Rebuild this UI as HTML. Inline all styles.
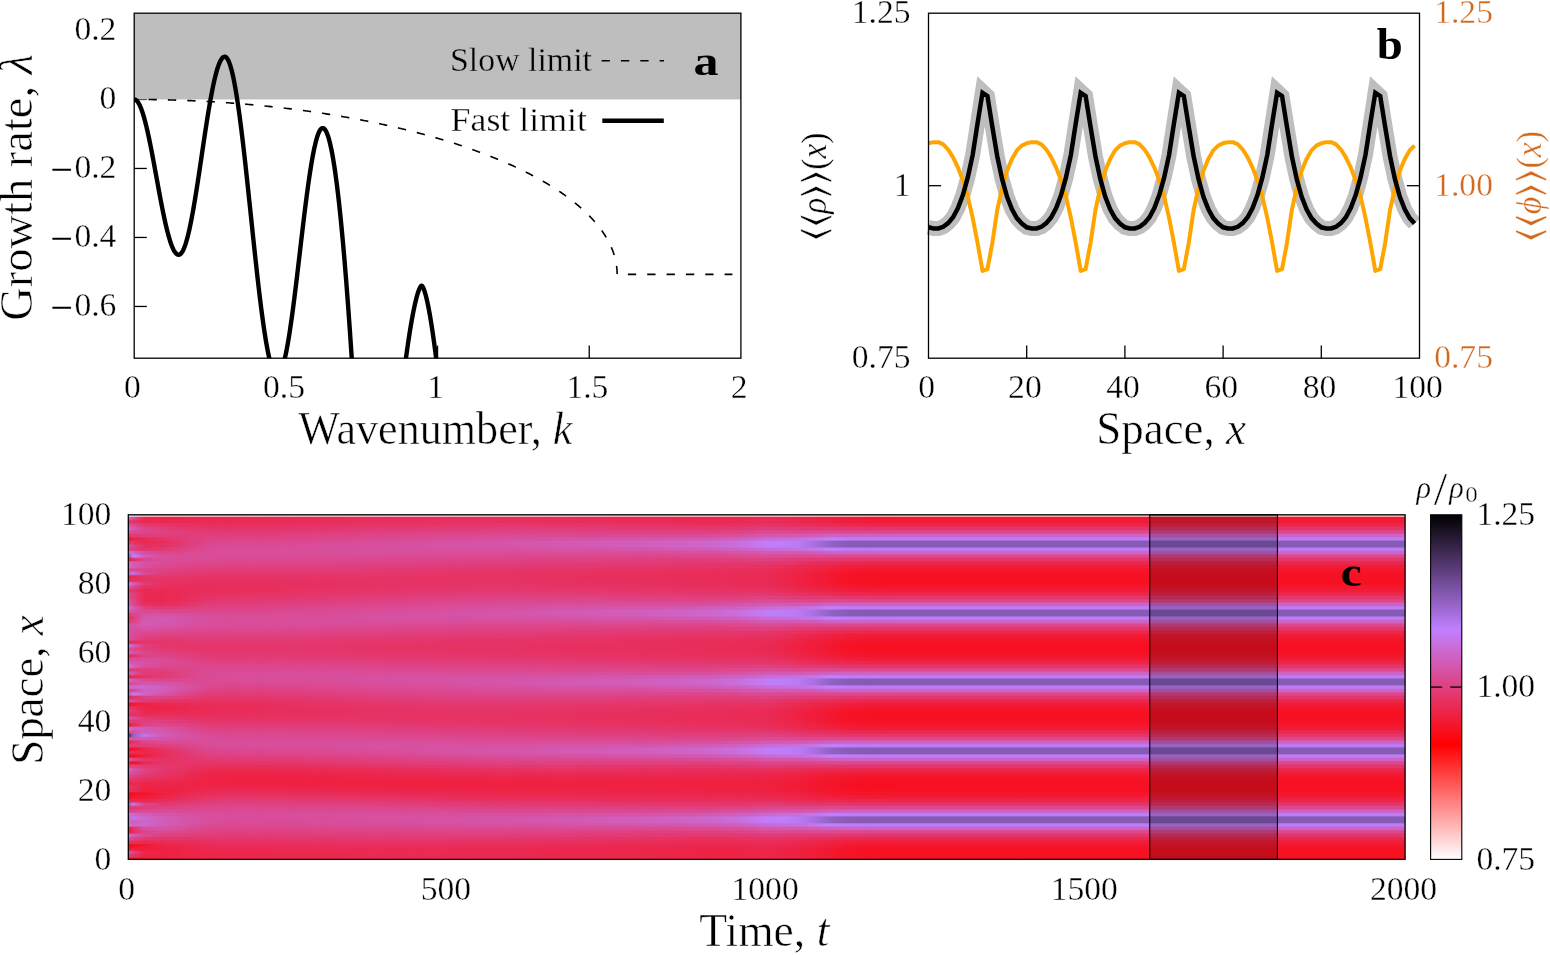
<!DOCTYPE html>
<html><head><meta charset="utf-8"><title>Figure</title>
<style>html,body{margin:0;padding:0;background:#fff}svg{display:block}text{font-family:'Liberation Serif', 'DejaVu Math TeX Gyre', 'DejaVu Serif', serif;}</style></head>
<body><svg width="1550" height="955" viewBox="0 0 1550 955">
<defs><linearGradient id="g0" gradientUnits="userSpaceOnUse" x1="0" y1="859.4" x2="0" y2="514.8"><stop offset="0%" stop-color="#ff0b0b"/><stop offset="0.3%" stop-color="#ff0b0b"/><stop offset="0.7%" stop-color="#e13c78"/><stop offset="1.3%" stop-color="#e13c78"/><stop offset="1.7%" stop-color="#d555aa"/><stop offset="2.3%" stop-color="#d555aa"/><stop offset="2.7%" stop-color="#f3182f"/><stop offset="3.3%" stop-color="#f3182f"/><stop offset="3.7%" stop-color="#ff1010"/><stop offset="4.3%" stop-color="#ff1010"/><stop offset="4.7%" stop-color="#e73161"/><stop offset="5.3%" stop-color="#e73161"/><stop offset="5.7%" stop-color="#d94d9a"/><stop offset="6.3%" stop-color="#d94d9a"/><stop offset="6.7%" stop-color="#c96edc"/><stop offset="7.3%" stop-color="#c96edc"/><stop offset="7.7%" stop-color="#f4172e"/><stop offset="8.3%" stop-color="#f4172e"/><stop offset="8.7%" stop-color="#f21a35"/><stop offset="9.3%" stop-color="#f21a35"/><stop offset="9.7%" stop-color="#c870e0"/><stop offset="10.3%" stop-color="#c870e0"/><stop offset="10.7%" stop-color="#cc68cf"/><stop offset="11.3%" stop-color="#cc68cf"/><stop offset="11.7%" stop-color="#a66fdd"/><stop offset="12.3%" stop-color="#a66fdd"/><stop offset="12.7%" stop-color="#c576eb"/><stop offset="13.3%" stop-color="#c576eb"/><stop offset="13.7%" stop-color="#de4386"/><stop offset="14.3%" stop-color="#de4386"/><stop offset="14.7%" stop-color="#e5356a"/><stop offset="15.3%" stop-color="#e5356a"/><stop offset="15.7%" stop-color="#8d5ebb"/><stop offset="16.3%" stop-color="#8d5ebb"/><stop offset="16.7%" stop-color="#ec274e"/><stop offset="17.3%" stop-color="#ec274e"/><stop offset="17.7%" stop-color="#f80e1b"/><stop offset="18.3%" stop-color="#f80e1b"/><stop offset="18.7%" stop-color="#ff0606"/><stop offset="19.3%" stop-color="#ff0606"/><stop offset="19.7%" stop-color="#e8305f"/><stop offset="20.3%" stop-color="#e8305f"/><stop offset="20.7%" stop-color="#e53467"/><stop offset="21.3%" stop-color="#e53467"/><stop offset="21.7%" stop-color="#ee2346"/><stop offset="22.3%" stop-color="#ee2346"/><stop offset="22.7%" stop-color="#e63365"/><stop offset="23.3%" stop-color="#e63365"/><stop offset="23.7%" stop-color="#dd4488"/><stop offset="24.3%" stop-color="#dd4488"/><stop offset="24.7%" stop-color="#d458b0"/><stop offset="25.3%" stop-color="#d458b0"/><stop offset="25.7%" stop-color="#cb6ad4"/><stop offset="26.3%" stop-color="#cb6ad4"/><stop offset="26.7%" stop-color="#dd458a"/><stop offset="27.3%" stop-color="#dd458a"/><stop offset="27.7%" stop-color="#ff1f1f"/><stop offset="28.3%" stop-color="#ff1f1f"/><stop offset="28.7%" stop-color="#d652a4"/><stop offset="29.3%" stop-color="#d652a4"/><stop offset="29.7%" stop-color="#ff0f0f"/><stop offset="30.3%" stop-color="#ff0f0f"/><stop offset="30.7%" stop-color="#ea2a54"/><stop offset="31.3%" stop-color="#ea2a54"/><stop offset="31.7%" stop-color="#ff0e0e"/><stop offset="32.3%" stop-color="#ff0e0e"/><stop offset="32.7%" stop-color="#e13d7a"/><stop offset="33.3%" stop-color="#e13d7a"/><stop offset="33.7%" stop-color="#ec264c"/><stop offset="34.3%" stop-color="#ec264c"/><stop offset="34.7%" stop-color="#d456ac"/><stop offset="35.3%" stop-color="#d456ac"/><stop offset="35.7%" stop-color="#3a274e"/><stop offset="36.3%" stop-color="#3a274e"/><stop offset="36.7%" stop-color="#d8509f"/><stop offset="37.3%" stop-color="#d8509f"/><stop offset="37.7%" stop-color="#c870e0"/><stop offset="38.3%" stop-color="#c870e0"/><stop offset="38.7%" stop-color="#f61224"/><stop offset="39.3%" stop-color="#f61224"/><stop offset="39.7%" stop-color="#e5366b"/><stop offset="40.3%" stop-color="#e5366b"/><stop offset="40.7%" stop-color="#d556ab"/><stop offset="41.3%" stop-color="#d556ab"/><stop offset="41.7%" stop-color="#e73161"/><stop offset="42.3%" stop-color="#e73161"/><stop offset="42.7%" stop-color="#e03f7e"/><stop offset="43.3%" stop-color="#e03f7e"/><stop offset="43.7%" stop-color="#e63365"/><stop offset="44.3%" stop-color="#e63365"/><stop offset="44.7%" stop-color="#fb0912"/><stop offset="45.3%" stop-color="#fb0912"/><stop offset="45.7%" stop-color="#d751a2"/><stop offset="46.3%" stop-color="#d751a2"/><stop offset="46.7%" stop-color="#ed2447"/><stop offset="47.3%" stop-color="#ed2447"/><stop offset="47.7%" stop-color="#9765c8"/><stop offset="48.3%" stop-color="#9765c8"/><stop offset="48.7%" stop-color="#df4182"/><stop offset="49.3%" stop-color="#df4182"/><stop offset="49.7%" stop-color="#c772e3"/><stop offset="50.3%" stop-color="#c772e3"/><stop offset="50.7%" stop-color="#d84e9c"/><stop offset="51.3%" stop-color="#d84e9c"/><stop offset="51.7%" stop-color="#cb6ad3"/><stop offset="52.3%" stop-color="#cb6ad3"/><stop offset="52.7%" stop-color="#ee2243"/><stop offset="53.3%" stop-color="#ee2243"/><stop offset="53.7%" stop-color="#ce63c4"/><stop offset="54.3%" stop-color="#ce63c4"/><stop offset="54.7%" stop-color="#e33972"/><stop offset="55.3%" stop-color="#e33972"/><stop offset="55.7%" stop-color="#c478ef"/><stop offset="56.3%" stop-color="#c478ef"/><stop offset="56.7%" stop-color="#cf62c4"/><stop offset="57.3%" stop-color="#cf62c4"/><stop offset="57.7%" stop-color="#d84e9c"/><stop offset="58.3%" stop-color="#d84e9c"/><stop offset="58.7%" stop-color="#ed264b"/><stop offset="59.3%" stop-color="#ed264b"/><stop offset="59.7%" stop-color="#d060c0"/><stop offset="60.3%" stop-color="#d060c0"/><stop offset="60.7%" stop-color="#d8509f"/><stop offset="61.3%" stop-color="#d8509f"/><stop offset="61.7%" stop-color="#c27df8"/><stop offset="62.3%" stop-color="#c27df8"/><stop offset="62.7%" stop-color="#ea2a54"/><stop offset="63.3%" stop-color="#ea2a54"/><stop offset="63.7%" stop-color="#d653a5"/><stop offset="64.3%" stop-color="#d653a5"/><stop offset="64.7%" stop-color="#d555a9"/><stop offset="65.3%" stop-color="#d555a9"/><stop offset="65.7%" stop-color="#d751a1"/><stop offset="66.3%" stop-color="#d751a1"/><stop offset="66.7%" stop-color="#d653a6"/><stop offset="67.3%" stop-color="#d653a6"/><stop offset="67.7%" stop-color="#d457ad"/><stop offset="68.3%" stop-color="#d457ad"/><stop offset="68.7%" stop-color="#e33972"/><stop offset="69.3%" stop-color="#e33972"/><stop offset="69.7%" stop-color="#eb2851"/><stop offset="70.3%" stop-color="#eb2851"/><stop offset="70.7%" stop-color="#e13c78"/><stop offset="71.3%" stop-color="#e13c78"/><stop offset="71.7%" stop-color="#d25cb6"/><stop offset="72.3%" stop-color="#d25cb6"/><stop offset="72.7%" stop-color="#c477ee"/><stop offset="73.3%" stop-color="#c477ee"/><stop offset="73.7%" stop-color="#d35ab3"/><stop offset="75.3%" stop-color="#d35ab2"/><stop offset="75.7%" stop-color="#d84f9d"/><stop offset="76.3%" stop-color="#d84f9d"/><stop offset="76.7%" stop-color="#d94d99"/><stop offset="77.3%" stop-color="#d94d99"/><stop offset="77.7%" stop-color="#e33a73"/><stop offset="78.3%" stop-color="#e33a73"/><stop offset="78.7%" stop-color="#d654a7"/><stop offset="79.3%" stop-color="#d654a7"/><stop offset="79.7%" stop-color="#c07ffe"/><stop offset="80.3%" stop-color="#c07ffe"/><stop offset="80.7%" stop-color="#e92c57"/><stop offset="81.3%" stop-color="#e92c57"/><stop offset="81.7%" stop-color="#f01f3e"/><stop offset="82.3%" stop-color="#f01f3e"/><stop offset="82.7%" stop-color="#aa71e1"/><stop offset="83.3%" stop-color="#aa71e1"/><stop offset="83.7%" stop-color="#d94c98"/><stop offset="84.3%" stop-color="#d94c98"/><stop offset="84.7%" stop-color="#c96dd9"/><stop offset="85.3%" stop-color="#c96dd9"/><stop offset="85.7%" stop-color="#ca6cd6"/><stop offset="86.3%" stop-color="#ca6cd6"/><stop offset="86.7%" stop-color="#f21b35"/><stop offset="87.3%" stop-color="#f21b35"/><stop offset="87.7%" stop-color="#7f55a9"/><stop offset="88.3%" stop-color="#7f55a9"/><stop offset="88.7%" stop-color="#b176eb"/><stop offset="89.3%" stop-color="#b176eb"/><stop offset="89.7%" stop-color="#df4080"/><stop offset="90.3%" stop-color="#df4080"/><stop offset="90.7%" stop-color="#d752a3"/><stop offset="91.3%" stop-color="#d752a3"/><stop offset="91.7%" stop-color="#e4376d"/><stop offset="92.3%" stop-color="#e4376d"/><stop offset="92.7%" stop-color="#f61326"/><stop offset="93.3%" stop-color="#f61326"/><stop offset="93.7%" stop-color="#e23a74"/><stop offset="94.3%" stop-color="#e23a74"/><stop offset="94.7%" stop-color="#d752a3"/><stop offset="95.3%" stop-color="#d752a3"/><stop offset="95.7%" stop-color="#c96dd9"/><stop offset="96.3%" stop-color="#c96dd9"/><stop offset="96.7%" stop-color="#d556ac"/><stop offset="97.3%" stop-color="#d556ac"/><stop offset="97.7%" stop-color="#e53569"/><stop offset="98.3%" stop-color="#e53569"/><stop offset="98.7%" stop-color="#cd65c9"/><stop offset="99.3%" stop-color="#cd65c9"/></linearGradient><linearGradient id="g1" gradientUnits="userSpaceOnUse" x1="0" y1="859.4" x2="0" y2="514.8"><stop offset="0%" stop-color="#f71021"/><stop offset="0.3%" stop-color="#f71021"/><stop offset="0.7%" stop-color="#e5356a"/><stop offset="1.3%" stop-color="#e5356a"/><stop offset="1.7%" stop-color="#de4487"/><stop offset="2.3%" stop-color="#de4487"/><stop offset="2.7%" stop-color="#ef2141"/><stop offset="3.3%" stop-color="#ef2141"/><stop offset="3.7%" stop-color="#f7101f"/><stop offset="4.3%" stop-color="#f7101f"/><stop offset="4.7%" stop-color="#e73263"/><stop offset="5.3%" stop-color="#e73263"/><stop offset="5.7%" stop-color="#dd4589"/><stop offset="6.3%" stop-color="#dd4589"/><stop offset="6.7%" stop-color="#d25bb5"/><stop offset="7.3%" stop-color="#d25bb5"/><stop offset="7.7%" stop-color="#e92d59"/><stop offset="8.3%" stop-color="#e92d59"/><stop offset="8.7%" stop-color="#e73163"/><stop offset="9.3%" stop-color="#e73163"/><stop offset="9.7%" stop-color="#ce64c7"/><stop offset="10.3%" stop-color="#ce64c7"/><stop offset="10.7%" stop-color="#d060be"/><stop offset="11.3%" stop-color="#d060be"/><stop offset="11.7%" stop-color="#c576eb"/><stop offset="12.3%" stop-color="#c576eb"/><stop offset="12.7%" stop-color="#ce65c8"/><stop offset="13.3%" stop-color="#ce65c8"/><stop offset="13.7%" stop-color="#dd458a"/><stop offset="14.3%" stop-color="#dd458a"/><stop offset="14.7%" stop-color="#e23a74"/><stop offset="15.3%" stop-color="#e23a74"/><stop offset="15.7%" stop-color="#c674e8"/><stop offset="16.3%" stop-color="#c674e8"/><stop offset="16.7%" stop-color="#e92c58"/><stop offset="17.3%" stop-color="#e92c58"/><stop offset="17.7%" stop-color="#f11c37"/><stop offset="18.3%" stop-color="#f11c37"/><stop offset="18.7%" stop-color="#f71122"/><stop offset="19.3%" stop-color="#f71122"/><stop offset="19.7%" stop-color="#e82e5c"/><stop offset="20.3%" stop-color="#e82e5c"/><stop offset="20.7%" stop-color="#e73162"/><stop offset="21.3%" stop-color="#e73162"/><stop offset="21.7%" stop-color="#eb2953"/><stop offset="22.3%" stop-color="#eb2953"/><stop offset="22.7%" stop-color="#e53467"/><stop offset="23.3%" stop-color="#e53467"/><stop offset="23.7%" stop-color="#e03f7e"/><stop offset="24.3%" stop-color="#e03f7e"/><stop offset="24.7%" stop-color="#da4c97"/><stop offset="25.3%" stop-color="#da4c97"/><stop offset="25.7%" stop-color="#d457ad"/><stop offset="26.3%" stop-color="#d457ad"/><stop offset="26.7%" stop-color="#df4283"/><stop offset="27.3%" stop-color="#df4283"/><stop offset="27.7%" stop-color="#f71021"/><stop offset="28.3%" stop-color="#f71021"/><stop offset="28.7%" stop-color="#dd468b"/><stop offset="29.3%" stop-color="#dd468b"/><stop offset="29.7%" stop-color="#f61223"/><stop offset="30.3%" stop-color="#f61223"/><stop offset="30.7%" stop-color="#e92d5a"/><stop offset="31.3%" stop-color="#e92d5a"/><stop offset="31.7%" stop-color="#f61326"/><stop offset="32.3%" stop-color="#f61326"/><stop offset="32.7%" stop-color="#e13d79"/><stop offset="33.3%" stop-color="#e13d79"/><stop offset="33.7%" stop-color="#e53467"/><stop offset="34.3%" stop-color="#e53467"/><stop offset="34.7%" stop-color="#d653a5"/><stop offset="35.3%" stop-color="#d653a5"/><stop offset="35.7%" stop-color="#9362c3"/><stop offset="36.3%" stop-color="#9362c3"/><stop offset="36.7%" stop-color="#d750a0"/><stop offset="37.3%" stop-color="#d750a0"/><stop offset="37.7%" stop-color="#cf61c2"/><stop offset="38.3%" stop-color="#cf61c2"/><stop offset="38.7%" stop-color="#ea2a53"/><stop offset="39.3%" stop-color="#ea2a53"/><stop offset="39.7%" stop-color="#e23b75"/><stop offset="40.3%" stop-color="#e23b75"/><stop offset="40.7%" stop-color="#db4a93"/><stop offset="41.3%" stop-color="#db4a93"/><stop offset="41.7%" stop-color="#e63264"/><stop offset="42.3%" stop-color="#e63264"/><stop offset="42.7%" stop-color="#e33971"/><stop offset="43.3%" stop-color="#e33971"/><stop offset="43.7%" stop-color="#e73161"/><stop offset="44.3%" stop-color="#e73161"/><stop offset="44.7%" stop-color="#f21b35"/><stop offset="45.3%" stop-color="#f21b35"/><stop offset="45.7%" stop-color="#dc478e"/><stop offset="46.3%" stop-color="#dc478e"/><stop offset="46.7%" stop-color="#e63264"/><stop offset="47.3%" stop-color="#e63264"/><stop offset="47.7%" stop-color="#c37af3"/><stop offset="48.3%" stop-color="#c37af3"/><stop offset="48.7%" stop-color="#db4a94"/><stop offset="49.3%" stop-color="#db4a94"/><stop offset="49.7%" stop-color="#cd66cb"/><stop offset="50.3%" stop-color="#cd66cb"/><stop offset="50.7%" stop-color="#d84e9c"/><stop offset="51.3%" stop-color="#d84e9c"/><stop offset="51.7%" stop-color="#d359b1"/><stop offset="52.3%" stop-color="#d359b1"/><stop offset="52.7%" stop-color="#e92d59"/><stop offset="53.3%" stop-color="#e92d59"/><stop offset="53.7%" stop-color="#d751a1"/><stop offset="54.3%" stop-color="#d751a1"/><stop offset="54.7%" stop-color="#e23c77"/><stop offset="55.3%" stop-color="#e23c77"/><stop offset="55.7%" stop-color="#cf62c2"/><stop offset="56.3%" stop-color="#cf62c2"/><stop offset="56.7%" stop-color="#d457ae"/><stop offset="57.3%" stop-color="#d457ae"/><stop offset="57.7%" stop-color="#da4c97"/><stop offset="58.3%" stop-color="#da4c97"/><stop offset="58.7%" stop-color="#e63366"/><stop offset="59.3%" stop-color="#e63366"/><stop offset="59.7%" stop-color="#d653a5"/><stop offset="60.3%" stop-color="#d653a5"/><stop offset="60.7%" stop-color="#dc478e"/><stop offset="61.3%" stop-color="#dc478e"/><stop offset="61.7%" stop-color="#d05fbe"/><stop offset="62.3%" stop-color="#d05fbe"/><stop offset="62.7%" stop-color="#e73161"/><stop offset="63.3%" stop-color="#e73161"/><stop offset="63.7%" stop-color="#db4991"/><stop offset="64.3%" stop-color="#db4991"/><stop offset="64.7%" stop-color="#da4c97"/><stop offset="66.3%" stop-color="#da4c97"/><stop offset="66.7%" stop-color="#d8509e"/><stop offset="67.3%" stop-color="#d8509e"/><stop offset="67.7%" stop-color="#d653a6"/><stop offset="68.3%" stop-color="#d653a6"/><stop offset="68.7%" stop-color="#dd4488"/><stop offset="69.3%" stop-color="#dd4488"/><stop offset="69.7%" stop-color="#e23a74"/><stop offset="70.3%" stop-color="#e23a74"/><stop offset="70.7%" stop-color="#de4386"/><stop offset="71.3%" stop-color="#de4386"/><stop offset="71.7%" stop-color="#d751a2"/><stop offset="72.3%" stop-color="#d751a2"/><stop offset="72.7%" stop-color="#d15db8"/><stop offset="73.3%" stop-color="#d15db8"/><stop offset="73.7%" stop-color="#db4890"/><stop offset="74.3%" stop-color="#db4890"/><stop offset="74.7%" stop-color="#dc478d"/><stop offset="75.3%" stop-color="#dc478d"/><stop offset="75.7%" stop-color="#df4181"/><stop offset="77.3%" stop-color="#df4080"/><stop offset="77.7%" stop-color="#e4366c"/><stop offset="78.3%" stop-color="#e4366c"/><stop offset="78.7%" stop-color="#dc468c"/><stop offset="79.3%" stop-color="#dc468c"/><stop offset="79.7%" stop-color="#d060bf"/><stop offset="80.3%" stop-color="#d060bf"/><stop offset="80.7%" stop-color="#e73263"/><stop offset="81.3%" stop-color="#e73263"/><stop offset="81.7%" stop-color="#ea2c57"/><stop offset="82.3%" stop-color="#ea2c57"/><stop offset="82.7%" stop-color="#ca6cd7"/><stop offset="83.3%" stop-color="#ca6cd7"/><stop offset="83.7%" stop-color="#dc488f"/><stop offset="84.3%" stop-color="#dc488f"/><stop offset="84.7%" stop-color="#d25cb7"/><stop offset="86.3%" stop-color="#d25cb7"/><stop offset="86.7%" stop-color="#e82f5d"/><stop offset="87.3%" stop-color="#e82f5d"/><stop offset="87.7%" stop-color="#c080fe"/><stop offset="88.3%" stop-color="#c080fe"/><stop offset="88.7%" stop-color="#cb6ad4"/><stop offset="89.3%" stop-color="#cb6ad4"/><stop offset="89.7%" stop-color="#e13d7a"/><stop offset="90.3%" stop-color="#e13d7a"/><stop offset="90.7%" stop-color="#dd4488"/><stop offset="91.3%" stop-color="#dd4488"/><stop offset="91.7%" stop-color="#e53569"/><stop offset="92.3%" stop-color="#e53569"/><stop offset="92.7%" stop-color="#ee2345"/><stop offset="93.3%" stop-color="#ee2345"/><stop offset="93.7%" stop-color="#e13c77"/><stop offset="94.3%" stop-color="#e13c77"/><stop offset="94.7%" stop-color="#da4b95"/><stop offset="95.3%" stop-color="#da4b95"/><stop offset="95.7%" stop-color="#d359b2"/><stop offset="96.3%" stop-color="#d359b2"/><stop offset="96.7%" stop-color="#db4a93"/><stop offset="97.3%" stop-color="#db4a93"/><stop offset="97.7%" stop-color="#e63467"/><stop offset="98.3%" stop-color="#e63467"/><stop offset="98.7%" stop-color="#d94d99"/><stop offset="99.3%" stop-color="#d94d99"/></linearGradient><linearGradient id="g2" gradientUnits="userSpaceOnUse" x1="0" y1="859.4" x2="0" y2="514.8"><stop offset="0%" stop-color="#f3172f"/><stop offset="0.3%" stop-color="#f3172f"/><stop offset="0.7%" stop-color="#ee2245"/><stop offset="1.3%" stop-color="#ee2245"/><stop offset="1.7%" stop-color="#ec274d"/><stop offset="2.3%" stop-color="#ec274d"/><stop offset="2.7%" stop-color="#f11c38"/><stop offset="3.3%" stop-color="#f11c38"/><stop offset="3.7%" stop-color="#f21a33"/><stop offset="4.3%" stop-color="#f21a33"/><stop offset="4.7%" stop-color="#ea2a54"/><stop offset="5.3%" stop-color="#ea2a54"/><stop offset="5.7%" stop-color="#e33972"/><stop offset="6.3%" stop-color="#e33972"/><stop offset="6.7%" stop-color="#db4a93"/><stop offset="7.3%" stop-color="#db4a93"/><stop offset="7.7%" stop-color="#dc468c"/><stop offset="8.3%" stop-color="#dc468c"/><stop offset="8.7%" stop-color="#d750a0"/><stop offset="9.3%" stop-color="#d750a0"/><stop offset="9.7%" stop-color="#cd65c9"/><stop offset="11.3%" stop-color="#cd65ca"/><stop offset="11.7%" stop-color="#cb69d1"/><stop offset="12.3%" stop-color="#cb69d1"/><stop offset="12.7%" stop-color="#d15ebb"/><stop offset="13.3%" stop-color="#d15ebb"/><stop offset="13.7%" stop-color="#da4c97"/><stop offset="14.3%" stop-color="#da4c97"/><stop offset="14.7%" stop-color="#e03f7d"/><stop offset="15.3%" stop-color="#e03f7d"/><stop offset="15.7%" stop-color="#dc468c"/><stop offset="16.3%" stop-color="#dc468c"/><stop offset="16.7%" stop-color="#eb2850"/><stop offset="17.3%" stop-color="#eb2850"/><stop offset="17.7%" stop-color="#f11d39"/><stop offset="18.3%" stop-color="#f11d39"/><stop offset="18.7%" stop-color="#f4162c"/><stop offset="19.3%" stop-color="#f4162c"/><stop offset="19.7%" stop-color="#f01f3e"/><stop offset="20.3%" stop-color="#f01f3e"/><stop offset="20.7%" stop-color="#ee2346"/><stop offset="21.3%" stop-color="#ee2346"/><stop offset="21.7%" stop-color="#ed254a"/><stop offset="22.3%" stop-color="#ed254a"/><stop offset="22.7%" stop-color="#e92d5b"/><stop offset="23.3%" stop-color="#e92d5b"/><stop offset="23.7%" stop-color="#e4366c"/><stop offset="24.3%" stop-color="#e4366c"/><stop offset="24.7%" stop-color="#e13e7b"/><stop offset="25.3%" stop-color="#e13e7b"/><stop offset="25.7%" stop-color="#de4386"/><stop offset="26.3%" stop-color="#de4386"/><stop offset="26.7%" stop-color="#e13c78"/><stop offset="27.3%" stop-color="#e13c78"/><stop offset="27.7%" stop-color="#eb2952"/><stop offset="28.3%" stop-color="#eb2952"/><stop offset="28.7%" stop-color="#e63467"/><stop offset="29.3%" stop-color="#e63467"/><stop offset="29.7%" stop-color="#ef203f"/><stop offset="30.3%" stop-color="#ef203f"/><stop offset="30.7%" stop-color="#ec274e"/><stop offset="31.3%" stop-color="#ec274e"/><stop offset="31.7%" stop-color="#ed2549"/><stop offset="32.3%" stop-color="#ed2549"/><stop offset="32.7%" stop-color="#e23b76"/><stop offset="33.3%" stop-color="#e23b76"/><stop offset="33.7%" stop-color="#dd4588"/><stop offset="34.3%" stop-color="#dd4588"/><stop offset="34.7%" stop-color="#d458b0"/><stop offset="35.3%" stop-color="#d458b0"/><stop offset="35.7%" stop-color="#c675e8"/><stop offset="36.3%" stop-color="#c675e8"/><stop offset="36.7%" stop-color="#d15db8"/><stop offset="38.3%" stop-color="#d15db9"/><stop offset="38.7%" stop-color="#dd4488"/><stop offset="39.3%" stop-color="#dd4488"/><stop offset="39.7%" stop-color="#df4080"/><stop offset="40.3%" stop-color="#df4080"/><stop offset="40.7%" stop-color="#e23b76"/><stop offset="41.3%" stop-color="#e23b76"/><stop offset="41.7%" stop-color="#e92c58"/><stop offset="42.3%" stop-color="#e92c58"/><stop offset="42.7%" stop-color="#eb2850"/><stop offset="43.3%" stop-color="#eb2850"/><stop offset="43.7%" stop-color="#ed2447"/><stop offset="44.3%" stop-color="#ed2447"/><stop offset="44.7%" stop-color="#ee2243"/><stop offset="45.3%" stop-color="#ee2243"/><stop offset="45.7%" stop-color="#e23a74"/><stop offset="46.3%" stop-color="#e23a74"/><stop offset="46.7%" stop-color="#de4284"/><stop offset="47.3%" stop-color="#de4284"/><stop offset="47.7%" stop-color="#cd65ca"/><stop offset="48.3%" stop-color="#cd65ca"/><stop offset="48.7%" stop-color="#d060c0"/><stop offset="49.3%" stop-color="#d060c0"/><stop offset="49.7%" stop-color="#cb69d1"/><stop offset="50.3%" stop-color="#cb69d1"/><stop offset="50.7%" stop-color="#d458ae"/><stop offset="51.3%" stop-color="#d458ae"/><stop offset="51.7%" stop-color="#da4c97"/><stop offset="52.3%" stop-color="#da4c97"/><stop offset="52.7%" stop-color="#e63366"/><stop offset="53.3%" stop-color="#e63366"/><stop offset="53.7%" stop-color="#e13d79"/><stop offset="55.3%" stop-color="#e13d79"/><stop offset="55.7%" stop-color="#d850a0"/><stop offset="56.3%" stop-color="#d850a0"/><stop offset="56.7%" stop-color="#d653a5"/><stop offset="57.3%" stop-color="#d653a5"/><stop offset="57.7%" stop-color="#d84f9d"/><stop offset="58.3%" stop-color="#d84f9d"/><stop offset="58.7%" stop-color="#de4386"/><stop offset="59.3%" stop-color="#de4386"/><stop offset="59.7%" stop-color="#dc478d"/><stop offset="60.3%" stop-color="#dc478d"/><stop offset="60.7%" stop-color="#e13d7a"/><stop offset="61.3%" stop-color="#e13d7a"/><stop offset="61.7%" stop-color="#df4080"/><stop offset="62.3%" stop-color="#df4080"/><stop offset="62.7%" stop-color="#e63365"/><stop offset="63.3%" stop-color="#e63365"/><stop offset="63.7%" stop-color="#e13d7a"/><stop offset="64.3%" stop-color="#e13d7a"/><stop offset="64.7%" stop-color="#de4487"/><stop offset="65.3%" stop-color="#de4487"/><stop offset="65.7%" stop-color="#da4b95"/><stop offset="66.3%" stop-color="#da4b95"/><stop offset="66.7%" stop-color="#d653a6"/><stop offset="67.3%" stop-color="#d653a6"/><stop offset="67.7%" stop-color="#d35ab4"/><stop offset="69.3%" stop-color="#d35ab2"/><stop offset="69.7%" stop-color="#d457ac"/><stop offset="70.3%" stop-color="#d457ac"/><stop offset="70.7%" stop-color="#d752a3"/><stop offset="71.3%" stop-color="#d752a3"/><stop offset="71.7%" stop-color="#db4a93"/><stop offset="72.3%" stop-color="#db4a93"/><stop offset="72.7%" stop-color="#e0407f"/><stop offset="73.3%" stop-color="#e0407f"/><stop offset="73.7%" stop-color="#e82f5e"/><stop offset="74.3%" stop-color="#e82f5e"/><stop offset="74.7%" stop-color="#ea2a54"/><stop offset="76.3%" stop-color="#eb2952"/><stop offset="76.7%" stop-color="#ea2b55"/><stop offset="78.3%" stop-color="#ea2a54"/><stop offset="78.7%" stop-color="#e63264"/><stop offset="79.3%" stop-color="#e63264"/><stop offset="79.7%" stop-color="#e13d79"/><stop offset="80.3%" stop-color="#e13d79"/><stop offset="80.7%" stop-color="#e63264"/><stop offset="81.3%" stop-color="#e63264"/><stop offset="81.7%" stop-color="#e53467"/><stop offset="82.3%" stop-color="#e53467"/><stop offset="82.7%" stop-color="#da4b96"/><stop offset="83.3%" stop-color="#da4b96"/><stop offset="83.7%" stop-color="#dd458a"/><stop offset="84.3%" stop-color="#dd458a"/><stop offset="84.7%" stop-color="#d8509f"/><stop offset="85.3%" stop-color="#d8509f"/><stop offset="85.7%" stop-color="#d653a5"/><stop offset="86.3%" stop-color="#d653a5"/><stop offset="86.7%" stop-color="#dc478e"/><stop offset="87.3%" stop-color="#dc478e"/><stop offset="87.7%" stop-color="#d15dba"/><stop offset="88.3%" stop-color="#d15dba"/><stop offset="88.7%" stop-color="#d84e9c"/><stop offset="89.3%" stop-color="#d84e9c"/><stop offset="89.7%" stop-color="#e4366c"/><stop offset="90.3%" stop-color="#e4366c"/><stop offset="90.7%" stop-color="#e7305f"/><stop offset="91.3%" stop-color="#e7305f"/><stop offset="91.7%" stop-color="#eb2953"/><stop offset="92.3%" stop-color="#eb2953"/><stop offset="92.7%" stop-color="#ea2b56"/><stop offset="93.3%" stop-color="#ea2b56"/><stop offset="93.7%" stop-color="#e13d79"/><stop offset="94.3%" stop-color="#e13d79"/><stop offset="94.7%" stop-color="#dc468c"/><stop offset="96.3%" stop-color="#dc478d"/><stop offset="96.7%" stop-color="#e33a73"/><stop offset="97.3%" stop-color="#e33a73"/><stop offset="97.7%" stop-color="#eb2a53"/><stop offset="99.3%" stop-color="#ea2a54"/></linearGradient><linearGradient id="g3" gradientUnits="userSpaceOnUse" x1="0" y1="859.4" x2="0" y2="514.8"><stop offset="0%" stop-color="#f01f3e"/><stop offset="0.3%" stop-color="#f01f3e"/><stop offset="0.7%" stop-color="#ef2142"/><stop offset="2.3%" stop-color="#ee2243"/><stop offset="3.3%" stop-color="#ef2041"/><stop offset="3.7%" stop-color="#ee2345"/><stop offset="4.3%" stop-color="#ee2345"/><stop offset="4.7%" stop-color="#ea2b57"/><stop offset="5.3%" stop-color="#ea2b57"/><stop offset="5.7%" stop-color="#e4366c"/><stop offset="6.3%" stop-color="#e4366c"/><stop offset="6.7%" stop-color="#de4284"/><stop offset="7.3%" stop-color="#de4284"/><stop offset="7.7%" stop-color="#da4b95"/><stop offset="8.3%" stop-color="#da4b95"/><stop offset="8.7%" stop-color="#d555a9"/><stop offset="9.3%" stop-color="#d555a9"/><stop offset="9.7%" stop-color="#d15dba"/><stop offset="10.3%" stop-color="#d15dba"/><stop offset="10.7%" stop-color="#d05fbe"/><stop offset="11.3%" stop-color="#d05fbe"/><stop offset="11.7%" stop-color="#d15ebb"/><stop offset="12.3%" stop-color="#d15ebb"/><stop offset="12.7%" stop-color="#d456ac"/><stop offset="13.3%" stop-color="#d456ac"/><stop offset="13.7%" stop-color="#da4c98"/><stop offset="14.3%" stop-color="#da4c98"/><stop offset="14.7%" stop-color="#df4182"/><stop offset="15.3%" stop-color="#df4182"/><stop offset="15.7%" stop-color="#e33a73"/><stop offset="16.3%" stop-color="#e33a73"/><stop offset="16.7%" stop-color="#e92d59"/><stop offset="17.3%" stop-color="#e92d59"/><stop offset="17.7%" stop-color="#ed2448"/><stop offset="18.3%" stop-color="#ed2448"/><stop offset="18.7%" stop-color="#f01f3e"/><stop offset="20.3%" stop-color="#ef2040"/><stop offset="20.7%" stop-color="#ee2345"/><stop offset="21.3%" stop-color="#ee2345"/><stop offset="21.7%" stop-color="#ec264c"/><stop offset="22.3%" stop-color="#ec264c"/><stop offset="22.7%" stop-color="#e92c57"/><stop offset="23.3%" stop-color="#e92c57"/><stop offset="23.7%" stop-color="#e73263"/><stop offset="24.3%" stop-color="#e73263"/><stop offset="24.7%" stop-color="#e4376d"/><stop offset="25.3%" stop-color="#e4376d"/><stop offset="25.7%" stop-color="#e23a74"/><stop offset="26.3%" stop-color="#e23a74"/><stop offset="26.7%" stop-color="#e33971"/><stop offset="27.3%" stop-color="#e33971"/><stop offset="27.7%" stop-color="#e63366"/><stop offset="28.3%" stop-color="#e63366"/><stop offset="28.7%" stop-color="#e73263"/><stop offset="29.3%" stop-color="#e73263"/><stop offset="29.7%" stop-color="#ea2b57"/><stop offset="31.3%" stop-color="#e92d59"/><stop offset="31.7%" stop-color="#e73162"/><stop offset="32.3%" stop-color="#e73162"/><stop offset="32.7%" stop-color="#e13e7b"/><stop offset="33.3%" stop-color="#e13e7b"/><stop offset="33.7%" stop-color="#db4992"/><stop offset="34.3%" stop-color="#db4992"/><stop offset="34.7%" stop-color="#d555aa"/><stop offset="35.3%" stop-color="#d555aa"/><stop offset="35.7%" stop-color="#d05ebc"/><stop offset="36.3%" stop-color="#d05ebc"/><stop offset="36.7%" stop-color="#d359b2"/><stop offset="37.3%" stop-color="#d359b2"/><stop offset="37.7%" stop-color="#d654a8"/><stop offset="38.3%" stop-color="#d654a8"/><stop offset="38.7%" stop-color="#db4991"/><stop offset="39.3%" stop-color="#db4991"/><stop offset="39.7%" stop-color="#e0407f"/><stop offset="40.3%" stop-color="#e0407f"/><stop offset="40.7%" stop-color="#e4376d"/><stop offset="41.3%" stop-color="#e4376d"/><stop offset="41.7%" stop-color="#e92d59"/><stop offset="42.3%" stop-color="#e92d59"/><stop offset="42.7%" stop-color="#ec274e"/><stop offset="43.3%" stop-color="#ec274e"/><stop offset="43.7%" stop-color="#ed2448"/><stop offset="44.3%" stop-color="#ed2448"/><stop offset="44.7%" stop-color="#eb2850"/><stop offset="45.3%" stop-color="#eb2850"/><stop offset="45.7%" stop-color="#e4366c"/><stop offset="46.3%" stop-color="#e4366c"/><stop offset="46.7%" stop-color="#de4488"/><stop offset="47.3%" stop-color="#de4488"/><stop offset="47.7%" stop-color="#d556ab"/><stop offset="48.3%" stop-color="#d556ab"/><stop offset="48.7%" stop-color="#d15eba"/><stop offset="49.3%" stop-color="#d15eba"/><stop offset="49.7%" stop-color="#d060c0"/><stop offset="50.3%" stop-color="#d060c0"/><stop offset="50.7%" stop-color="#d555aa"/><stop offset="51.3%" stop-color="#d555aa"/><stop offset="51.7%" stop-color="#dc478e"/><stop offset="52.3%" stop-color="#dc478e"/><stop offset="52.7%" stop-color="#e33a73"/><stop offset="54.3%" stop-color="#e23b75"/><stop offset="54.7%" stop-color="#e03f7e"/><stop offset="55.3%" stop-color="#e03f7e"/><stop offset="55.7%" stop-color="#db4991"/><stop offset="56.3%" stop-color="#db4991"/><stop offset="56.7%" stop-color="#d94d9a"/><stop offset="57.3%" stop-color="#d94d9a"/><stop offset="57.7%" stop-color="#da4c97"/><stop offset="58.3%" stop-color="#da4c97"/><stop offset="58.7%" stop-color="#dd458a"/><stop offset="59.3%" stop-color="#dd458a"/><stop offset="59.7%" stop-color="#df4080"/><stop offset="60.3%" stop-color="#df4080"/><stop offset="60.7%" stop-color="#e33a73"/><stop offset="61.3%" stop-color="#e33a73"/><stop offset="61.7%" stop-color="#e4376e"/><stop offset="62.3%" stop-color="#e4376e"/><stop offset="62.7%" stop-color="#e5356a"/><stop offset="63.3%" stop-color="#e5356a"/><stop offset="63.7%" stop-color="#e23a74"/><stop offset="64.3%" stop-color="#e23a74"/><stop offset="64.7%" stop-color="#df4182"/><stop offset="65.3%" stop-color="#df4182"/><stop offset="65.7%" stop-color="#db4991"/><stop offset="66.3%" stop-color="#db4991"/><stop offset="66.7%" stop-color="#d751a1"/><stop offset="67.3%" stop-color="#d751a1"/><stop offset="67.7%" stop-color="#d457ae"/><stop offset="68.3%" stop-color="#d457ae"/><stop offset="68.7%" stop-color="#d35ab4"/><stop offset="70.3%" stop-color="#d35ab3"/><stop offset="70.7%" stop-color="#d653a4"/><stop offset="71.3%" stop-color="#d653a4"/><stop offset="71.7%" stop-color="#dc478d"/><stop offset="72.3%" stop-color="#dc478d"/><stop offset="72.7%" stop-color="#e33972"/><stop offset="73.3%" stop-color="#e33972"/><stop offset="73.7%" stop-color="#e92d59"/><stop offset="74.3%" stop-color="#e92d59"/><stop offset="74.7%" stop-color="#eb284f"/><stop offset="76.3%" stop-color="#ec274e"/><stop offset="77.3%" stop-color="#eb2850"/><stop offset="77.7%" stop-color="#ea2a54"/><stop offset="78.3%" stop-color="#ea2a54"/><stop offset="78.7%" stop-color="#e92e5b"/><stop offset="79.3%" stop-color="#e92e5b"/><stop offset="79.7%" stop-color="#e63264"/><stop offset="81.3%" stop-color="#e63366"/><stop offset="81.7%" stop-color="#e4376d"/><stop offset="82.3%" stop-color="#e4376d"/><stop offset="82.7%" stop-color="#e03f7e"/><stop offset="83.3%" stop-color="#e03f7e"/><stop offset="83.7%" stop-color="#de4385"/><stop offset="84.3%" stop-color="#de4385"/><stop offset="84.7%" stop-color="#db4991"/><stop offset="85.3%" stop-color="#db4991"/><stop offset="85.7%" stop-color="#d94d99"/><stop offset="87.3%" stop-color="#d94d99"/><stop offset="87.7%" stop-color="#d84f9e"/><stop offset="88.3%" stop-color="#d84f9e"/><stop offset="88.7%" stop-color="#dd468b"/><stop offset="89.3%" stop-color="#dd468b"/><stop offset="89.7%" stop-color="#e33971"/><stop offset="90.3%" stop-color="#e33971"/><stop offset="90.7%" stop-color="#e73061"/><stop offset="91.3%" stop-color="#e73061"/><stop offset="91.7%" stop-color="#e92e5b"/><stop offset="92.3%" stop-color="#e92e5b"/><stop offset="92.7%" stop-color="#e63366"/><stop offset="93.3%" stop-color="#e63366"/><stop offset="93.7%" stop-color="#e13e7b"/><stop offset="94.3%" stop-color="#e13e7b"/><stop offset="94.7%" stop-color="#de4284"/><stop offset="95.3%" stop-color="#de4284"/><stop offset="95.7%" stop-color="#e03f7d"/><stop offset="96.3%" stop-color="#e03f7d"/><stop offset="96.7%" stop-color="#e53569"/><stop offset="97.3%" stop-color="#e53569"/><stop offset="97.7%" stop-color="#eb2952"/><stop offset="98.3%" stop-color="#eb2952"/><stop offset="98.7%" stop-color="#ee2347"/><stop offset="99.3%" stop-color="#ee2347"/></linearGradient><linearGradient id="g4" gradientUnits="userSpaceOnUse" x1="0" y1="859.4" x2="0" y2="514.8"><stop offset="0%" stop-color="#ee2243"/><stop offset="3.3%" stop-color="#ee2346"/><stop offset="3.7%" stop-color="#ec264c"/><stop offset="4.3%" stop-color="#ec264c"/><stop offset="4.7%" stop-color="#e92d59"/><stop offset="5.3%" stop-color="#e92d59"/><stop offset="5.7%" stop-color="#e5366b"/><stop offset="6.3%" stop-color="#e5366b"/><stop offset="6.7%" stop-color="#e03f7e"/><stop offset="7.3%" stop-color="#e03f7e"/><stop offset="7.7%" stop-color="#db4990"/><stop offset="8.3%" stop-color="#db4990"/><stop offset="8.7%" stop-color="#d751a1"/><stop offset="9.3%" stop-color="#d751a1"/><stop offset="9.7%" stop-color="#d457ad"/><stop offset="10.3%" stop-color="#d457ad"/><stop offset="10.7%" stop-color="#d359b1"/><stop offset="12.3%" stop-color="#d458af"/><stop offset="12.7%" stop-color="#d653a5"/><stop offset="13.3%" stop-color="#d653a5"/><stop offset="13.7%" stop-color="#da4c97"/><stop offset="14.3%" stop-color="#da4c97"/><stop offset="14.7%" stop-color="#de4386"/><stop offset="15.3%" stop-color="#de4386"/><stop offset="15.7%" stop-color="#e23b75"/><stop offset="16.3%" stop-color="#e23b75"/><stop offset="16.7%" stop-color="#e73162"/><stop offset="17.3%" stop-color="#e73162"/><stop offset="17.7%" stop-color="#ea2a53"/><stop offset="18.3%" stop-color="#ea2a53"/><stop offset="18.7%" stop-color="#ed2549"/><stop offset="19.3%" stop-color="#ed2549"/><stop offset="19.7%" stop-color="#ee2346"/><stop offset="21.3%" stop-color="#ee2347"/><stop offset="21.7%" stop-color="#ed254a"/><stop offset="22.3%" stop-color="#ed254a"/><stop offset="22.7%" stop-color="#eb2951"/><stop offset="23.3%" stop-color="#eb2951"/><stop offset="23.7%" stop-color="#e92d59"/><stop offset="24.3%" stop-color="#e92d59"/><stop offset="24.7%" stop-color="#e73161"/><stop offset="25.3%" stop-color="#e73161"/><stop offset="25.7%" stop-color="#e53468"/><stop offset="26.3%" stop-color="#e53468"/><stop offset="26.7%" stop-color="#e5366b"/><stop offset="30.3%" stop-color="#e63365"/><stop offset="30.7%" stop-color="#e53468"/><stop offset="31.3%" stop-color="#e53468"/><stop offset="31.7%" stop-color="#e33a73"/><stop offset="32.3%" stop-color="#e33a73"/><stop offset="32.7%" stop-color="#de4284"/><stop offset="33.3%" stop-color="#de4284"/><stop offset="33.7%" stop-color="#da4b96"/><stop offset="34.3%" stop-color="#da4b96"/><stop offset="34.7%" stop-color="#d652a4"/><stop offset="35.3%" stop-color="#d652a4"/><stop offset="35.7%" stop-color="#d556ab"/><stop offset="36.3%" stop-color="#d556ab"/><stop offset="36.7%" stop-color="#d653a6"/><stop offset="37.3%" stop-color="#d653a6"/><stop offset="37.7%" stop-color="#d94e9b"/><stop offset="38.3%" stop-color="#d94e9b"/><stop offset="38.7%" stop-color="#dd458a"/><stop offset="39.3%" stop-color="#dd458a"/><stop offset="39.7%" stop-color="#e13d79"/><stop offset="40.3%" stop-color="#e13d79"/><stop offset="40.7%" stop-color="#e53468"/><stop offset="41.3%" stop-color="#e53468"/><stop offset="41.7%" stop-color="#e92d5a"/><stop offset="42.3%" stop-color="#e92d5a"/><stop offset="42.7%" stop-color="#eb2850"/><stop offset="43.3%" stop-color="#eb2850"/><stop offset="43.7%" stop-color="#ec264d"/><stop offset="44.3%" stop-color="#ec264d"/><stop offset="44.7%" stop-color="#ea2a54"/><stop offset="45.3%" stop-color="#ea2a54"/><stop offset="45.7%" stop-color="#e53468"/><stop offset="46.3%" stop-color="#e53468"/><stop offset="46.7%" stop-color="#df4080"/><stop offset="47.3%" stop-color="#df4080"/><stop offset="47.7%" stop-color="#d94d98"/><stop offset="48.3%" stop-color="#d94d98"/><stop offset="48.7%" stop-color="#d555a9"/><stop offset="49.3%" stop-color="#d555a9"/><stop offset="49.7%" stop-color="#d458af"/><stop offset="50.3%" stop-color="#d458af"/><stop offset="50.7%" stop-color="#d752a3"/><stop offset="51.3%" stop-color="#d752a3"/><stop offset="51.7%" stop-color="#dc4890"/><stop offset="52.3%" stop-color="#dc4890"/><stop offset="52.7%" stop-color="#e0407f"/><stop offset="54.3%" stop-color="#e03f7e"/><stop offset="54.7%" stop-color="#de4385"/><stop offset="55.3%" stop-color="#de4385"/><stop offset="55.7%" stop-color="#dc478e"/><stop offset="56.3%" stop-color="#dc478e"/><stop offset="56.7%" stop-color="#db4992"/><stop offset="57.3%" stop-color="#db4992"/><stop offset="57.7%" stop-color="#dc478e"/><stop offset="58.3%" stop-color="#dc478e"/><stop offset="58.7%" stop-color="#de4284"/><stop offset="59.3%" stop-color="#de4284"/><stop offset="59.7%" stop-color="#e13d79"/><stop offset="60.3%" stop-color="#e13d79"/><stop offset="60.7%" stop-color="#e3386f"/><stop offset="61.3%" stop-color="#e3386f"/><stop offset="61.7%" stop-color="#e5366b"/><stop offset="63.3%" stop-color="#e4366c"/><stop offset="63.7%" stop-color="#e23a74"/><stop offset="64.3%" stop-color="#e23a74"/><stop offset="64.7%" stop-color="#df4080"/><stop offset="65.3%" stop-color="#df4080"/><stop offset="65.7%" stop-color="#dc478e"/><stop offset="66.3%" stop-color="#dc478e"/><stop offset="66.7%" stop-color="#d84e9c"/><stop offset="67.3%" stop-color="#d84e9c"/><stop offset="67.7%" stop-color="#d654a7"/><stop offset="68.3%" stop-color="#d654a7"/><stop offset="68.7%" stop-color="#d457ad"/><stop offset="70.3%" stop-color="#d456ac"/><stop offset="70.7%" stop-color="#d750a0"/><stop offset="71.3%" stop-color="#d750a0"/><stop offset="71.7%" stop-color="#dc468c"/><stop offset="72.3%" stop-color="#dc468c"/><stop offset="72.7%" stop-color="#e23b76"/><stop offset="73.3%" stop-color="#e23b76"/><stop offset="73.7%" stop-color="#e73162"/><stop offset="74.3%" stop-color="#e73162"/><stop offset="74.7%" stop-color="#e92c58"/><stop offset="75.3%" stop-color="#e92c58"/><stop offset="75.7%" stop-color="#ea2b55"/><stop offset="78.3%" stop-color="#ea2b56"/><stop offset="78.7%" stop-color="#e92d5a"/><stop offset="79.3%" stop-color="#e92d5a"/><stop offset="79.7%" stop-color="#e8305f"/><stop offset="80.3%" stop-color="#e8305f"/><stop offset="80.7%" stop-color="#e63264"/><stop offset="81.3%" stop-color="#e63264"/><stop offset="81.7%" stop-color="#e4366c"/><stop offset="82.3%" stop-color="#e4366c"/><stop offset="82.7%" stop-color="#e23b76"/><stop offset="83.3%" stop-color="#e23b76"/><stop offset="83.7%" stop-color="#df4080"/><stop offset="84.3%" stop-color="#df4080"/><stop offset="84.7%" stop-color="#dd468b"/><stop offset="85.3%" stop-color="#dd468b"/><stop offset="85.7%" stop-color="#db4a94"/><stop offset="86.3%" stop-color="#db4a94"/><stop offset="86.7%" stop-color="#d94c98"/><stop offset="88.3%" stop-color="#d94d99"/><stop offset="88.7%" stop-color="#dc478e"/><stop offset="89.3%" stop-color="#dc478e"/><stop offset="89.7%" stop-color="#e03f7d"/><stop offset="90.3%" stop-color="#e03f7d"/><stop offset="90.7%" stop-color="#e33870"/><stop offset="91.3%" stop-color="#e33870"/><stop offset="91.7%" stop-color="#e5356a"/><stop offset="92.3%" stop-color="#e5356a"/><stop offset="92.7%" stop-color="#e33971"/><stop offset="93.3%" stop-color="#e33971"/><stop offset="93.7%" stop-color="#e03e7b"/><stop offset="94.3%" stop-color="#e03e7b"/><stop offset="94.7%" stop-color="#e03f7e"/><stop offset="95.3%" stop-color="#e03f7e"/><stop offset="95.7%" stop-color="#e23b75"/><stop offset="96.3%" stop-color="#e23b75"/><stop offset="96.7%" stop-color="#e63264"/><stop offset="97.3%" stop-color="#e63264"/><stop offset="97.7%" stop-color="#eb2a53"/><stop offset="98.3%" stop-color="#eb2a53"/><stop offset="98.7%" stop-color="#ed2447"/><stop offset="99.3%" stop-color="#ed2447"/></linearGradient><linearGradient id="g5" gradientUnits="userSpaceOnUse" x1="0" y1="859.4" x2="0" y2="514.8"><stop offset="0%" stop-color="#ee2447"/><stop offset="2.3%" stop-color="#ed2447"/><stop offset="2.7%" stop-color="#ed254b"/><stop offset="3.3%" stop-color="#ed254b"/><stop offset="3.7%" stop-color="#eb2951"/><stop offset="4.3%" stop-color="#eb2951"/><stop offset="4.7%" stop-color="#e82e5d"/><stop offset="5.3%" stop-color="#e82e5d"/><stop offset="5.7%" stop-color="#e5366b"/><stop offset="6.3%" stop-color="#e5366b"/><stop offset="6.7%" stop-color="#e13d7a"/><stop offset="7.3%" stop-color="#e13d7a"/><stop offset="7.7%" stop-color="#dd4589"/><stop offset="8.3%" stop-color="#dd4589"/><stop offset="8.7%" stop-color="#da4b96"/><stop offset="9.3%" stop-color="#da4b96"/><stop offset="9.7%" stop-color="#d750a0"/><stop offset="10.3%" stop-color="#d750a0"/><stop offset="10.7%" stop-color="#d653a5"/><stop offset="12.3%" stop-color="#d653a5"/><stop offset="12.7%" stop-color="#d850a0"/><stop offset="13.3%" stop-color="#d850a0"/><stop offset="13.7%" stop-color="#da4b96"/><stop offset="14.3%" stop-color="#da4b96"/><stop offset="14.7%" stop-color="#dd4589"/><stop offset="15.3%" stop-color="#dd4589"/><stop offset="15.7%" stop-color="#e13e7b"/><stop offset="16.3%" stop-color="#e13e7b"/><stop offset="16.7%" stop-color="#e4366c"/><stop offset="17.3%" stop-color="#e4366c"/><stop offset="17.7%" stop-color="#e82f5e"/><stop offset="18.3%" stop-color="#e82f5e"/><stop offset="18.7%" stop-color="#ea2a53"/><stop offset="19.3%" stop-color="#ea2a53"/><stop offset="19.7%" stop-color="#ec264c"/><stop offset="20.3%" stop-color="#ec264c"/><stop offset="20.7%" stop-color="#ed2448"/><stop offset="23.3%" stop-color="#ed254a"/><stop offset="23.7%" stop-color="#eb284f"/><stop offset="24.3%" stop-color="#eb284f"/><stop offset="24.7%" stop-color="#ea2b56"/><stop offset="25.3%" stop-color="#ea2b56"/><stop offset="25.7%" stop-color="#e82f5d"/><stop offset="26.3%" stop-color="#e82f5d"/><stop offset="26.7%" stop-color="#e63264"/><stop offset="27.3%" stop-color="#e63264"/><stop offset="27.7%" stop-color="#e53569"/><stop offset="28.3%" stop-color="#e53569"/><stop offset="28.7%" stop-color="#e4376d"/><stop offset="29.3%" stop-color="#e4376d"/><stop offset="29.7%" stop-color="#e33972"/><stop offset="30.3%" stop-color="#e33972"/><stop offset="30.7%" stop-color="#e13d79"/><stop offset="31.3%" stop-color="#e13d79"/><stop offset="31.7%" stop-color="#df4182"/><stop offset="32.3%" stop-color="#df4182"/><stop offset="32.7%" stop-color="#dc478e"/><stop offset="33.3%" stop-color="#dc478e"/><stop offset="33.7%" stop-color="#d94c98"/><stop offset="34.3%" stop-color="#d94c98"/><stop offset="34.7%" stop-color="#d84f9e"/><stop offset="36.3%" stop-color="#d8509f"/><stop offset="36.7%" stop-color="#d94c98"/><stop offset="37.3%" stop-color="#d94c98"/><stop offset="37.7%" stop-color="#dc478e"/><stop offset="38.3%" stop-color="#dc478e"/><stop offset="38.7%" stop-color="#df4080"/><stop offset="39.3%" stop-color="#df4080"/><stop offset="39.7%" stop-color="#e33972"/><stop offset="40.3%" stop-color="#e33972"/><stop offset="40.7%" stop-color="#e63365"/><stop offset="41.3%" stop-color="#e63365"/><stop offset="41.7%" stop-color="#e92d5a"/><stop offset="42.3%" stop-color="#e92d5a"/><stop offset="42.7%" stop-color="#ea2a54"/><stop offset="44.3%" stop-color="#eb2952"/><stop offset="44.7%" stop-color="#e92c58"/><stop offset="45.3%" stop-color="#e92c58"/><stop offset="45.7%" stop-color="#e63365"/><stop offset="46.3%" stop-color="#e63365"/><stop offset="46.7%" stop-color="#e23b76"/><stop offset="47.3%" stop-color="#e23b76"/><stop offset="47.7%" stop-color="#de4487"/><stop offset="48.3%" stop-color="#de4487"/><stop offset="48.7%" stop-color="#da4b96"/><stop offset="49.3%" stop-color="#da4b96"/><stop offset="49.7%" stop-color="#d84f9d"/><stop offset="51.3%" stop-color="#d94e9b"/><stop offset="51.7%" stop-color="#db4a93"/><stop offset="52.3%" stop-color="#db4a93"/><stop offset="52.7%" stop-color="#dc468c"/><stop offset="56.3%" stop-color="#dc478d"/><stop offset="57.3%" stop-color="#dd468b"/><stop offset="57.7%" stop-color="#de4284"/><stop offset="58.3%" stop-color="#de4284"/><stop offset="58.7%" stop-color="#e13e7b"/><stop offset="59.3%" stop-color="#e13e7b"/><stop offset="59.7%" stop-color="#e33a73"/><stop offset="60.3%" stop-color="#e33a73"/><stop offset="60.7%" stop-color="#e4376d"/><stop offset="62.3%" stop-color="#e5356b"/><stop offset="62.7%" stop-color="#e4376e"/><stop offset="63.3%" stop-color="#e4376e"/><stop offset="63.7%" stop-color="#e23b76"/><stop offset="64.3%" stop-color="#e23b76"/><stop offset="64.7%" stop-color="#df4080"/><stop offset="65.3%" stop-color="#df4080"/><stop offset="65.7%" stop-color="#dc468c"/><stop offset="66.3%" stop-color="#dc468c"/><stop offset="66.7%" stop-color="#da4c97"/><stop offset="67.3%" stop-color="#da4c97"/><stop offset="67.7%" stop-color="#d850a0"/><stop offset="68.3%" stop-color="#d850a0"/><stop offset="68.7%" stop-color="#d652a4"/><stop offset="70.3%" stop-color="#d752a3"/><stop offset="70.7%" stop-color="#d94e9b"/><stop offset="71.3%" stop-color="#d94e9b"/><stop offset="71.7%" stop-color="#dc478d"/><stop offset="72.3%" stop-color="#dc478d"/><stop offset="72.7%" stop-color="#e03f7d"/><stop offset="73.3%" stop-color="#e03f7d"/><stop offset="73.7%" stop-color="#e4376e"/><stop offset="74.3%" stop-color="#e4376e"/><stop offset="74.7%" stop-color="#e63264"/><stop offset="75.3%" stop-color="#e63264"/><stop offset="75.7%" stop-color="#e82f5e"/><stop offset="76.3%" stop-color="#e82f5e"/><stop offset="76.7%" stop-color="#e92d5a"/><stop offset="79.3%" stop-color="#e92d5a"/><stop offset="79.7%" stop-color="#e82f5d"/><stop offset="80.3%" stop-color="#e82f5d"/><stop offset="80.7%" stop-color="#e73162"/><stop offset="81.3%" stop-color="#e73162"/><stop offset="81.7%" stop-color="#e53569"/><stop offset="82.3%" stop-color="#e53569"/><stop offset="82.7%" stop-color="#e33972"/><stop offset="83.3%" stop-color="#e33972"/><stop offset="83.7%" stop-color="#e03e7c"/><stop offset="84.3%" stop-color="#e03e7c"/><stop offset="84.7%" stop-color="#de4386"/><stop offset="85.3%" stop-color="#de4386"/><stop offset="85.7%" stop-color="#dc488f"/><stop offset="86.3%" stop-color="#dc488f"/><stop offset="86.7%" stop-color="#da4b96"/><stop offset="88.3%" stop-color="#d94c98"/><stop offset="88.7%" stop-color="#db4a93"/><stop offset="89.3%" stop-color="#db4a93"/><stop offset="89.7%" stop-color="#dd458a"/><stop offset="90.3%" stop-color="#dd458a"/><stop offset="90.7%" stop-color="#df4181"/><stop offset="91.3%" stop-color="#df4181"/><stop offset="91.7%" stop-color="#e03e7c"/><stop offset="94.3%" stop-color="#e03e7c"/><stop offset="94.7%" stop-color="#e13d79"/><stop offset="95.3%" stop-color="#e13d79"/><stop offset="95.7%" stop-color="#e4376e"/><stop offset="96.3%" stop-color="#e4376e"/><stop offset="96.7%" stop-color="#e73161"/><stop offset="97.3%" stop-color="#e73161"/><stop offset="97.7%" stop-color="#ea2a54"/><stop offset="98.3%" stop-color="#ea2a54"/><stop offset="98.7%" stop-color="#ed254a"/><stop offset="99.3%" stop-color="#ed254a"/></linearGradient><linearGradient id="g6" gradientUnits="userSpaceOnUse" x1="0" y1="859.4" x2="0" y2="514.8"><stop offset="0%" stop-color="#ed254a"/><stop offset="1.3%" stop-color="#ed2549"/><stop offset="2.3%" stop-color="#ed254b"/><stop offset="2.7%" stop-color="#ec284f"/><stop offset="3.3%" stop-color="#ec284f"/><stop offset="3.7%" stop-color="#ea2b56"/><stop offset="4.3%" stop-color="#ea2b56"/><stop offset="4.7%" stop-color="#e7305f"/><stop offset="5.3%" stop-color="#e7305f"/><stop offset="5.7%" stop-color="#e5366b"/><stop offset="6.3%" stop-color="#e5366b"/><stop offset="6.7%" stop-color="#e23c77"/><stop offset="7.3%" stop-color="#e23c77"/><stop offset="7.7%" stop-color="#df4283"/><stop offset="8.3%" stop-color="#df4283"/><stop offset="8.7%" stop-color="#dc478d"/><stop offset="9.3%" stop-color="#dc478d"/><stop offset="9.7%" stop-color="#da4b96"/><stop offset="10.3%" stop-color="#da4b96"/><stop offset="10.7%" stop-color="#d94e9b"/><stop offset="12.3%" stop-color="#d84f9d"/><stop offset="13.3%" stop-color="#d94e9b"/><stop offset="13.7%" stop-color="#da4b95"/><stop offset="14.3%" stop-color="#da4b95"/><stop offset="14.7%" stop-color="#dc468c"/><stop offset="15.3%" stop-color="#dc468c"/><stop offset="15.7%" stop-color="#df4181"/><stop offset="16.3%" stop-color="#df4181"/><stop offset="16.7%" stop-color="#e23a74"/><stop offset="17.3%" stop-color="#e23a74"/><stop offset="17.7%" stop-color="#e63467"/><stop offset="18.3%" stop-color="#e63467"/><stop offset="18.7%" stop-color="#e92e5b"/><stop offset="19.3%" stop-color="#e92e5b"/><stop offset="19.7%" stop-color="#eb2951"/><stop offset="20.3%" stop-color="#eb2951"/><stop offset="20.7%" stop-color="#ed254a"/><stop offset="21.3%" stop-color="#ed254a"/><stop offset="21.7%" stop-color="#ee2345"/><stop offset="23.3%" stop-color="#ee2245"/><stop offset="24.3%" stop-color="#ed2447"/><stop offset="24.7%" stop-color="#ec264d"/><stop offset="25.3%" stop-color="#ec264d"/><stop offset="25.7%" stop-color="#ea2a55"/><stop offset="26.3%" stop-color="#ea2a55"/><stop offset="26.7%" stop-color="#e82f5e"/><stop offset="27.3%" stop-color="#e82f5e"/><stop offset="27.7%" stop-color="#e53468"/><stop offset="28.3%" stop-color="#e53468"/><stop offset="28.7%" stop-color="#e33a73"/><stop offset="29.3%" stop-color="#e33a73"/><stop offset="29.7%" stop-color="#e03f7d"/><stop offset="30.3%" stop-color="#e03f7d"/><stop offset="30.7%" stop-color="#de4386"/><stop offset="31.3%" stop-color="#de4386"/><stop offset="31.7%" stop-color="#dc488f"/><stop offset="32.3%" stop-color="#dc488f"/><stop offset="32.7%" stop-color="#da4b96"/><stop offset="33.3%" stop-color="#da4b96"/><stop offset="33.7%" stop-color="#d94d99"/><stop offset="35.3%" stop-color="#d94d99"/><stop offset="35.7%" stop-color="#da4b96"/><stop offset="36.3%" stop-color="#da4b96"/><stop offset="36.7%" stop-color="#dc478e"/><stop offset="37.3%" stop-color="#dc478e"/><stop offset="37.7%" stop-color="#de4284"/><stop offset="38.3%" stop-color="#de4284"/><stop offset="38.7%" stop-color="#e13c78"/><stop offset="39.3%" stop-color="#e13c78"/><stop offset="39.7%" stop-color="#e4376d"/><stop offset="40.3%" stop-color="#e4376d"/><stop offset="40.7%" stop-color="#e73263"/><stop offset="41.3%" stop-color="#e73263"/><stop offset="41.7%" stop-color="#e82e5b"/><stop offset="42.3%" stop-color="#e82e5b"/><stop offset="42.7%" stop-color="#ea2c57"/><stop offset="44.3%" stop-color="#ea2b56"/><stop offset="44.7%" stop-color="#e92d5a"/><stop offset="45.3%" stop-color="#e92d5a"/><stop offset="45.7%" stop-color="#e73263"/><stop offset="46.3%" stop-color="#e73263"/><stop offset="46.7%" stop-color="#e4376e"/><stop offset="47.3%" stop-color="#e4376e"/><stop offset="47.7%" stop-color="#e13d7a"/><stop offset="48.3%" stop-color="#e13d7a"/><stop offset="48.7%" stop-color="#de4386"/><stop offset="49.3%" stop-color="#de4386"/><stop offset="49.7%" stop-color="#dc488f"/><stop offset="50.3%" stop-color="#dc488f"/><stop offset="50.7%" stop-color="#da4a94"/><stop offset="54.3%" stop-color="#da4b95"/><stop offset="54.7%" stop-color="#db4992"/><stop offset="55.3%" stop-color="#db4992"/><stop offset="55.7%" stop-color="#dc478d"/><stop offset="56.3%" stop-color="#dc478d"/><stop offset="56.7%" stop-color="#de4386"/><stop offset="57.3%" stop-color="#de4386"/><stop offset="57.7%" stop-color="#e03f7d"/><stop offset="58.3%" stop-color="#e03f7d"/><stop offset="58.7%" stop-color="#e23b75"/><stop offset="59.3%" stop-color="#e23b75"/><stop offset="59.7%" stop-color="#e4376e"/><stop offset="60.3%" stop-color="#e4376e"/><stop offset="60.7%" stop-color="#e5366b"/><stop offset="62.3%" stop-color="#e5366b"/><stop offset="62.7%" stop-color="#e3386f"/><stop offset="63.3%" stop-color="#e3386f"/><stop offset="63.7%" stop-color="#e23c77"/><stop offset="64.3%" stop-color="#e23c77"/><stop offset="64.7%" stop-color="#df4181"/><stop offset="65.3%" stop-color="#df4181"/><stop offset="65.7%" stop-color="#dd468b"/><stop offset="66.3%" stop-color="#dd468b"/><stop offset="66.7%" stop-color="#db4a94"/><stop offset="67.3%" stop-color="#db4a94"/><stop offset="67.7%" stop-color="#d94d9a"/><stop offset="68.3%" stop-color="#d94d9a"/><stop offset="68.7%" stop-color="#d84f9d"/><stop offset="70.3%" stop-color="#d84e9c"/><stop offset="70.7%" stop-color="#da4b96"/><stop offset="71.3%" stop-color="#da4b96"/><stop offset="71.7%" stop-color="#dc478d"/><stop offset="72.3%" stop-color="#dc478d"/><stop offset="72.7%" stop-color="#df4283"/><stop offset="73.3%" stop-color="#df4283"/><stop offset="73.7%" stop-color="#e13c78"/><stop offset="74.3%" stop-color="#e13c78"/><stop offset="74.7%" stop-color="#e4376e"/><stop offset="75.3%" stop-color="#e4376e"/><stop offset="75.7%" stop-color="#e63366"/><stop offset="76.3%" stop-color="#e63366"/><stop offset="76.7%" stop-color="#e73060"/><stop offset="77.3%" stop-color="#e73060"/><stop offset="77.7%" stop-color="#e82e5c"/><stop offset="80.3%" stop-color="#e82e5c"/><stop offset="80.7%" stop-color="#e73060"/><stop offset="81.3%" stop-color="#e73060"/><stop offset="81.7%" stop-color="#e63467"/><stop offset="82.3%" stop-color="#e63467"/><stop offset="82.7%" stop-color="#e4386f"/><stop offset="83.3%" stop-color="#e4386f"/><stop offset="83.7%" stop-color="#e13d79"/><stop offset="84.3%" stop-color="#e13d79"/><stop offset="84.7%" stop-color="#df4283"/><stop offset="85.3%" stop-color="#df4283"/><stop offset="85.7%" stop-color="#dc468c"/><stop offset="86.3%" stop-color="#dc468c"/><stop offset="86.7%" stop-color="#db4a93"/><stop offset="87.3%" stop-color="#db4a93"/><stop offset="87.7%" stop-color="#da4c98"/><stop offset="89.3%" stop-color="#d94c98"/><stop offset="89.7%" stop-color="#da4b95"/><stop offset="90.3%" stop-color="#da4b95"/><stop offset="90.7%" stop-color="#db4890"/><stop offset="91.3%" stop-color="#db4890"/><stop offset="91.7%" stop-color="#dd458a"/><stop offset="92.3%" stop-color="#dd458a"/><stop offset="92.7%" stop-color="#de4284"/><stop offset="93.3%" stop-color="#de4284"/><stop offset="93.7%" stop-color="#e03f7d"/><stop offset="94.3%" stop-color="#e03f7d"/><stop offset="94.7%" stop-color="#e23a74"/><stop offset="95.3%" stop-color="#e23a74"/><stop offset="95.7%" stop-color="#e5356a"/><stop offset="96.3%" stop-color="#e5356a"/><stop offset="96.7%" stop-color="#e82f5f"/><stop offset="97.3%" stop-color="#e82f5f"/><stop offset="97.7%" stop-color="#ea2b55"/><stop offset="98.3%" stop-color="#ea2b55"/><stop offset="98.7%" stop-color="#ec274d"/><stop offset="99.3%" stop-color="#ec274d"/></linearGradient><linearGradient id="g7" gradientUnits="userSpaceOnUse" x1="0" y1="859.4" x2="0" y2="514.8"><stop offset="0%" stop-color="#ec264b"/><stop offset="1.3%" stop-color="#ed254a"/><stop offset="2.3%" stop-color="#ec264c"/><stop offset="2.7%" stop-color="#eb2951"/><stop offset="3.3%" stop-color="#eb2951"/><stop offset="3.7%" stop-color="#e92c58"/><stop offset="4.3%" stop-color="#e92c58"/><stop offset="4.7%" stop-color="#e73161"/><stop offset="5.3%" stop-color="#e73161"/><stop offset="5.7%" stop-color="#e5366b"/><stop offset="6.3%" stop-color="#e5366b"/><stop offset="6.7%" stop-color="#e23b76"/><stop offset="7.3%" stop-color="#e23b76"/><stop offset="7.7%" stop-color="#df4080"/><stop offset="8.3%" stop-color="#df4080"/><stop offset="8.7%" stop-color="#dd458a"/><stop offset="9.3%" stop-color="#dd458a"/><stop offset="9.7%" stop-color="#db4992"/><stop offset="10.3%" stop-color="#db4992"/><stop offset="10.7%" stop-color="#da4c97"/><stop offset="11.3%" stop-color="#da4c97"/><stop offset="11.7%" stop-color="#d94d9a"/><stop offset="13.3%" stop-color="#d94d9a"/><stop offset="13.7%" stop-color="#da4b95"/><stop offset="14.3%" stop-color="#da4b95"/><stop offset="14.7%" stop-color="#dc478d"/><stop offset="15.3%" stop-color="#dc478d"/><stop offset="15.7%" stop-color="#df4283"/><stop offset="16.3%" stop-color="#df4283"/><stop offset="16.7%" stop-color="#e23c77"/><stop offset="17.3%" stop-color="#e23c77"/><stop offset="17.7%" stop-color="#e5356a"/><stop offset="18.3%" stop-color="#e5356a"/><stop offset="18.7%" stop-color="#e82f5e"/><stop offset="19.3%" stop-color="#e82f5e"/><stop offset="19.7%" stop-color="#ea2a53"/><stop offset="20.3%" stop-color="#ea2a53"/><stop offset="20.7%" stop-color="#ed254a"/><stop offset="21.3%" stop-color="#ed254a"/><stop offset="21.7%" stop-color="#ee2245"/><stop offset="22.3%" stop-color="#ee2245"/><stop offset="22.7%" stop-color="#ef2142"/><stop offset="24.3%" stop-color="#ee2244"/><stop offset="24.7%" stop-color="#ed2549"/><stop offset="25.3%" stop-color="#ed2549"/><stop offset="25.7%" stop-color="#eb2951"/><stop offset="26.3%" stop-color="#eb2951"/><stop offset="26.7%" stop-color="#e82e5c"/><stop offset="27.3%" stop-color="#e82e5c"/><stop offset="27.7%" stop-color="#e53468"/><stop offset="28.3%" stop-color="#e53468"/><stop offset="28.7%" stop-color="#e23b75"/><stop offset="29.3%" stop-color="#e23b75"/><stop offset="29.7%" stop-color="#df4181"/><stop offset="30.3%" stop-color="#df4181"/><stop offset="30.7%" stop-color="#dd468c"/><stop offset="31.3%" stop-color="#dd468c"/><stop offset="31.7%" stop-color="#da4a94"/><stop offset="32.3%" stop-color="#da4a94"/><stop offset="32.7%" stop-color="#d94d99"/><stop offset="34.3%" stop-color="#d94d9a"/><stop offset="35.3%" stop-color="#da4c98"/><stop offset="35.7%" stop-color="#db4992"/><stop offset="36.3%" stop-color="#db4992"/><stop offset="36.7%" stop-color="#dd458a"/><stop offset="37.3%" stop-color="#dd458a"/><stop offset="37.7%" stop-color="#df4080"/><stop offset="38.3%" stop-color="#df4080"/><stop offset="38.7%" stop-color="#e23b75"/><stop offset="39.3%" stop-color="#e23b75"/><stop offset="39.7%" stop-color="#e5366b"/><stop offset="40.3%" stop-color="#e5366b"/><stop offset="40.7%" stop-color="#e73162"/><stop offset="41.3%" stop-color="#e73162"/><stop offset="41.7%" stop-color="#e82e5c"/><stop offset="42.3%" stop-color="#e82e5c"/><stop offset="42.7%" stop-color="#e92c58"/><stop offset="44.3%" stop-color="#e92c58"/><stop offset="44.7%" stop-color="#e82e5c"/><stop offset="45.3%" stop-color="#e82e5c"/><stop offset="45.7%" stop-color="#e73162"/><stop offset="46.3%" stop-color="#e73162"/><stop offset="46.7%" stop-color="#e5366b"/><stop offset="47.3%" stop-color="#e5366b"/><stop offset="47.7%" stop-color="#e23b75"/><stop offset="48.3%" stop-color="#e23b75"/><stop offset="48.7%" stop-color="#df4080"/><stop offset="49.3%" stop-color="#df4080"/><stop offset="49.7%" stop-color="#dd458a"/><stop offset="50.3%" stop-color="#dd458a"/><stop offset="50.7%" stop-color="#db4992"/><stop offset="51.3%" stop-color="#db4992"/><stop offset="51.7%" stop-color="#da4c98"/><stop offset="54.3%" stop-color="#d94d99"/><stop offset="54.7%" stop-color="#da4a94"/><stop offset="55.3%" stop-color="#da4a94"/><stop offset="55.7%" stop-color="#dc478d"/><stop offset="56.3%" stop-color="#dc478d"/><stop offset="56.7%" stop-color="#de4284"/><stop offset="57.3%" stop-color="#de4284"/><stop offset="57.7%" stop-color="#e13d7a"/><stop offset="58.3%" stop-color="#e13d7a"/><stop offset="58.7%" stop-color="#e33972"/><stop offset="59.3%" stop-color="#e33972"/><stop offset="59.7%" stop-color="#e4376d"/><stop offset="60.3%" stop-color="#e4376d"/><stop offset="60.7%" stop-color="#e5356a"/><stop offset="62.3%" stop-color="#e4366c"/><stop offset="62.7%" stop-color="#e33870"/><stop offset="63.3%" stop-color="#e33870"/><stop offset="63.7%" stop-color="#e13c78"/><stop offset="64.3%" stop-color="#e13c78"/><stop offset="64.7%" stop-color="#df4181"/><stop offset="65.3%" stop-color="#df4181"/><stop offset="65.7%" stop-color="#dd458a"/><stop offset="66.3%" stop-color="#dd458a"/><stop offset="66.7%" stop-color="#db4992"/><stop offset="67.3%" stop-color="#db4992"/><stop offset="67.7%" stop-color="#d94c98"/><stop offset="70.3%" stop-color="#d94d99"/><stop offset="70.7%" stop-color="#da4b95"/><stop offset="71.3%" stop-color="#da4b95"/><stop offset="71.7%" stop-color="#dc478e"/><stop offset="72.3%" stop-color="#dc478e"/><stop offset="72.7%" stop-color="#de4385"/><stop offset="73.3%" stop-color="#de4385"/><stop offset="73.7%" stop-color="#e03e7c"/><stop offset="74.3%" stop-color="#e03e7c"/><stop offset="74.7%" stop-color="#e33972"/><stop offset="75.3%" stop-color="#e33972"/><stop offset="75.7%" stop-color="#e53569"/><stop offset="76.3%" stop-color="#e53569"/><stop offset="76.7%" stop-color="#e73162"/><stop offset="77.3%" stop-color="#e73162"/><stop offset="77.7%" stop-color="#e82f5d"/><stop offset="80.3%" stop-color="#e82e5c"/><stop offset="80.7%" stop-color="#e73060"/><stop offset="81.3%" stop-color="#e73060"/><stop offset="81.7%" stop-color="#e63366"/><stop offset="82.3%" stop-color="#e63366"/><stop offset="82.7%" stop-color="#e4376e"/><stop offset="83.3%" stop-color="#e4376e"/><stop offset="83.7%" stop-color="#e13c78"/><stop offset="84.3%" stop-color="#e13c78"/><stop offset="84.7%" stop-color="#df4182"/><stop offset="85.3%" stop-color="#df4182"/><stop offset="85.7%" stop-color="#dd468b"/><stop offset="86.3%" stop-color="#dd468b"/><stop offset="86.7%" stop-color="#db4992"/><stop offset="87.3%" stop-color="#db4992"/><stop offset="87.7%" stop-color="#da4c98"/><stop offset="90.3%" stop-color="#d94d9a"/><stop offset="90.7%" stop-color="#da4b96"/><stop offset="91.3%" stop-color="#da4b96"/><stop offset="91.7%" stop-color="#dc488f"/><stop offset="92.3%" stop-color="#dc488f"/><stop offset="92.7%" stop-color="#de4487"/><stop offset="93.3%" stop-color="#de4487"/><stop offset="93.7%" stop-color="#e03f7d"/><stop offset="94.3%" stop-color="#e03f7d"/><stop offset="94.7%" stop-color="#e33973"/><stop offset="95.3%" stop-color="#e33973"/><stop offset="95.7%" stop-color="#e53468"/><stop offset="96.3%" stop-color="#e53468"/><stop offset="96.7%" stop-color="#e82f5e"/><stop offset="97.3%" stop-color="#e82f5e"/><stop offset="97.7%" stop-color="#ea2b56"/><stop offset="98.3%" stop-color="#ea2b56"/><stop offset="98.7%" stop-color="#eb284f"/><stop offset="99.3%" stop-color="#eb284f"/></linearGradient><linearGradient id="g8" gradientUnits="userSpaceOnUse" x1="0" y1="859.4" x2="0" y2="514.8"><stop offset="0%" stop-color="#ec274d"/><stop offset="1.3%" stop-color="#ec264c"/><stop offset="2.3%" stop-color="#ec274e"/><stop offset="2.7%" stop-color="#eb2952"/><stop offset="3.3%" stop-color="#eb2952"/><stop offset="3.7%" stop-color="#e92d59"/><stop offset="4.3%" stop-color="#e92d59"/><stop offset="4.7%" stop-color="#e73162"/><stop offset="5.3%" stop-color="#e73162"/><stop offset="5.7%" stop-color="#e4366c"/><stop offset="6.3%" stop-color="#e4366c"/><stop offset="6.7%" stop-color="#e23b76"/><stop offset="7.3%" stop-color="#e23b76"/><stop offset="7.7%" stop-color="#df4181"/><stop offset="8.3%" stop-color="#df4181"/><stop offset="8.7%" stop-color="#dd458a"/><stop offset="9.3%" stop-color="#dd458a"/><stop offset="9.7%" stop-color="#db4992"/><stop offset="10.3%" stop-color="#db4992"/><stop offset="10.7%" stop-color="#da4c98"/><stop offset="13.3%" stop-color="#d94d9a"/><stop offset="13.7%" stop-color="#da4b95"/><stop offset="14.3%" stop-color="#da4b95"/><stop offset="14.7%" stop-color="#dc478d"/><stop offset="15.3%" stop-color="#dc478d"/><stop offset="15.7%" stop-color="#df4283"/><stop offset="16.3%" stop-color="#df4283"/><stop offset="16.7%" stop-color="#e23c77"/><stop offset="17.3%" stop-color="#e23c77"/><stop offset="17.7%" stop-color="#e5356a"/><stop offset="18.3%" stop-color="#e5356a"/><stop offset="18.7%" stop-color="#e82f5e"/><stop offset="19.3%" stop-color="#e82f5e"/><stop offset="19.7%" stop-color="#eb2953"/><stop offset="20.3%" stop-color="#eb2953"/><stop offset="20.7%" stop-color="#ed254a"/><stop offset="21.3%" stop-color="#ed254a"/><stop offset="21.7%" stop-color="#ee2244"/><stop offset="23.3%" stop-color="#ef2142"/><stop offset="24.3%" stop-color="#ee2244"/><stop offset="24.7%" stop-color="#ed2549"/><stop offset="25.3%" stop-color="#ed2549"/><stop offset="25.7%" stop-color="#eb2951"/><stop offset="26.3%" stop-color="#eb2951"/><stop offset="26.7%" stop-color="#e82e5c"/><stop offset="27.3%" stop-color="#e82e5c"/><stop offset="27.7%" stop-color="#e53469"/><stop offset="28.3%" stop-color="#e53469"/><stop offset="28.7%" stop-color="#e23b75"/><stop offset="29.3%" stop-color="#e23b75"/><stop offset="29.7%" stop-color="#df4182"/><stop offset="30.3%" stop-color="#df4182"/><stop offset="30.7%" stop-color="#dc468c"/><stop offset="31.3%" stop-color="#dc468c"/><stop offset="31.7%" stop-color="#da4a94"/><stop offset="32.3%" stop-color="#da4a94"/><stop offset="32.7%" stop-color="#d94d99"/><stop offset="34.3%" stop-color="#d94e9b"/><stop offset="34.7%" stop-color="#da4c98"/><stop offset="35.3%" stop-color="#da4c98"/><stop offset="35.7%" stop-color="#db4992"/><stop offset="36.3%" stop-color="#db4992"/><stop offset="36.7%" stop-color="#dd4589"/><stop offset="37.3%" stop-color="#dd4589"/><stop offset="37.7%" stop-color="#df4080"/><stop offset="38.3%" stop-color="#df4080"/><stop offset="38.7%" stop-color="#e23b75"/><stop offset="39.3%" stop-color="#e23b75"/><stop offset="39.7%" stop-color="#e4366c"/><stop offset="40.3%" stop-color="#e4366c"/><stop offset="40.7%" stop-color="#e63263"/><stop offset="41.3%" stop-color="#e63263"/><stop offset="41.7%" stop-color="#e82f5d"/><stop offset="42.3%" stop-color="#e82f5d"/><stop offset="42.7%" stop-color="#e92d5a"/><stop offset="44.3%" stop-color="#e92d5a"/><stop offset="44.7%" stop-color="#e82f5e"/><stop offset="45.3%" stop-color="#e82f5e"/><stop offset="45.7%" stop-color="#e63264"/><stop offset="46.3%" stop-color="#e63264"/><stop offset="46.7%" stop-color="#e4376d"/><stop offset="47.3%" stop-color="#e4376d"/><stop offset="47.7%" stop-color="#e23b77"/><stop offset="48.3%" stop-color="#e23b77"/><stop offset="48.7%" stop-color="#df4181"/><stop offset="49.3%" stop-color="#df4181"/><stop offset="49.7%" stop-color="#dd458a"/><stop offset="50.3%" stop-color="#dd458a"/><stop offset="50.7%" stop-color="#db4a92"/><stop offset="51.3%" stop-color="#db4a92"/><stop offset="51.7%" stop-color="#d94c98"/><stop offset="52.3%" stop-color="#d94c98"/><stop offset="52.7%" stop-color="#d94e9b"/><stop offset="54.3%" stop-color="#d94d99"/><stop offset="54.7%" stop-color="#da4a94"/><stop offset="55.3%" stop-color="#da4a94"/><stop offset="55.7%" stop-color="#dc478d"/><stop offset="56.3%" stop-color="#dc478d"/><stop offset="56.7%" stop-color="#de4284"/><stop offset="57.3%" stop-color="#de4284"/><stop offset="57.7%" stop-color="#e13e7b"/><stop offset="58.3%" stop-color="#e13e7b"/><stop offset="58.7%" stop-color="#e33a73"/><stop offset="59.3%" stop-color="#e33a73"/><stop offset="59.7%" stop-color="#e4376e"/><stop offset="60.3%" stop-color="#e4376e"/><stop offset="60.7%" stop-color="#e5366b"/><stop offset="62.3%" stop-color="#e4366c"/><stop offset="62.7%" stop-color="#e33971"/><stop offset="63.3%" stop-color="#e33971"/><stop offset="63.7%" stop-color="#e13c78"/><stop offset="64.3%" stop-color="#e13c78"/><stop offset="64.7%" stop-color="#df4181"/><stop offset="65.3%" stop-color="#df4181"/><stop offset="65.7%" stop-color="#dd458a"/><stop offset="66.3%" stop-color="#dd458a"/><stop offset="66.7%" stop-color="#db4992"/><stop offset="67.3%" stop-color="#db4992"/><stop offset="67.7%" stop-color="#d94c98"/><stop offset="68.3%" stop-color="#d94c98"/><stop offset="68.7%" stop-color="#d94e9b"/><stop offset="70.3%" stop-color="#d94d99"/><stop offset="70.7%" stop-color="#da4b95"/><stop offset="71.3%" stop-color="#da4b95"/><stop offset="71.7%" stop-color="#dc488f"/><stop offset="72.3%" stop-color="#dc488f"/><stop offset="72.7%" stop-color="#de4386"/><stop offset="73.3%" stop-color="#de4386"/><stop offset="73.7%" stop-color="#e03f7d"/><stop offset="74.3%" stop-color="#e03f7d"/><stop offset="74.7%" stop-color="#e23a74"/><stop offset="75.3%" stop-color="#e23a74"/><stop offset="75.7%" stop-color="#e5366b"/><stop offset="76.3%" stop-color="#e5366b"/><stop offset="76.7%" stop-color="#e63264"/><stop offset="77.3%" stop-color="#e63264"/><stop offset="77.7%" stop-color="#e8305f"/><stop offset="80.3%" stop-color="#e82f5e"/><stop offset="80.7%" stop-color="#e73161"/><stop offset="81.3%" stop-color="#e73161"/><stop offset="81.7%" stop-color="#e63467"/><stop offset="82.3%" stop-color="#e63467"/><stop offset="82.7%" stop-color="#e4386f"/><stop offset="83.3%" stop-color="#e4386f"/><stop offset="83.7%" stop-color="#e13c78"/><stop offset="84.3%" stop-color="#e13c78"/><stop offset="84.7%" stop-color="#df4182"/><stop offset="85.3%" stop-color="#df4182"/><stop offset="85.7%" stop-color="#dd468a"/><stop offset="86.3%" stop-color="#dd468a"/><stop offset="86.7%" stop-color="#db4992"/><stop offset="87.3%" stop-color="#db4992"/><stop offset="87.7%" stop-color="#da4c98"/><stop offset="90.3%" stop-color="#d94d9a"/><stop offset="90.7%" stop-color="#da4b96"/><stop offset="91.3%" stop-color="#da4b96"/><stop offset="91.7%" stop-color="#db4890"/><stop offset="92.3%" stop-color="#db4890"/><stop offset="92.7%" stop-color="#dd4488"/><stop offset="93.3%" stop-color="#dd4488"/><stop offset="93.7%" stop-color="#e03f7e"/><stop offset="94.3%" stop-color="#e03f7e"/><stop offset="94.7%" stop-color="#e23a74"/><stop offset="95.3%" stop-color="#e23a74"/><stop offset="95.7%" stop-color="#e53569"/><stop offset="96.3%" stop-color="#e53569"/><stop offset="96.7%" stop-color="#e7305f"/><stop offset="97.3%" stop-color="#e7305f"/><stop offset="97.7%" stop-color="#ea2c57"/><stop offset="98.3%" stop-color="#ea2c57"/><stop offset="98.7%" stop-color="#eb2851"/><stop offset="99.3%" stop-color="#eb2851"/></linearGradient><linearGradient id="g9" gradientUnits="userSpaceOnUse" x1="0" y1="859.4" x2="0" y2="514.8"><stop offset="0%" stop-color="#eb284f"/><stop offset="2.3%" stop-color="#eb284f"/><stop offset="2.7%" stop-color="#ea2a54"/><stop offset="3.3%" stop-color="#ea2a54"/><stop offset="3.7%" stop-color="#e92d5a"/><stop offset="4.3%" stop-color="#e92d5a"/><stop offset="4.7%" stop-color="#e73263"/><stop offset="5.3%" stop-color="#e73263"/><stop offset="5.7%" stop-color="#e4376d"/><stop offset="6.3%" stop-color="#e4376d"/><stop offset="6.7%" stop-color="#e13c77"/><stop offset="7.3%" stop-color="#e13c77"/><stop offset="7.7%" stop-color="#df4182"/><stop offset="8.3%" stop-color="#df4182"/><stop offset="8.7%" stop-color="#dd468b"/><stop offset="9.3%" stop-color="#dd468b"/><stop offset="9.7%" stop-color="#db4a93"/><stop offset="10.3%" stop-color="#db4a93"/><stop offset="10.7%" stop-color="#d94c98"/><stop offset="11.3%" stop-color="#d94c98"/><stop offset="11.7%" stop-color="#d94e9b"/><stop offset="13.3%" stop-color="#d94d9a"/><stop offset="13.7%" stop-color="#da4b95"/><stop offset="14.3%" stop-color="#da4b95"/><stop offset="14.7%" stop-color="#dc468c"/><stop offset="15.3%" stop-color="#dc468c"/><stop offset="15.7%" stop-color="#df4182"/><stop offset="16.3%" stop-color="#df4182"/><stop offset="16.7%" stop-color="#e23b75"/><stop offset="17.3%" stop-color="#e23b75"/><stop offset="17.7%" stop-color="#e53569"/><stop offset="18.3%" stop-color="#e53569"/><stop offset="18.7%" stop-color="#e82e5c"/><stop offset="19.3%" stop-color="#e82e5c"/><stop offset="19.7%" stop-color="#eb2951"/><stop offset="20.3%" stop-color="#eb2951"/><stop offset="20.7%" stop-color="#ed2549"/><stop offset="21.3%" stop-color="#ed2549"/><stop offset="21.7%" stop-color="#ee2244"/><stop offset="23.3%" stop-color="#ef2142"/><stop offset="24.3%" stop-color="#ee2244"/><stop offset="24.7%" stop-color="#ed254a"/><stop offset="25.3%" stop-color="#ed254a"/><stop offset="25.7%" stop-color="#eb2a53"/><stop offset="26.3%" stop-color="#eb2a53"/><stop offset="26.7%" stop-color="#e82f5e"/><stop offset="27.3%" stop-color="#e82f5e"/><stop offset="27.7%" stop-color="#e5356a"/><stop offset="28.3%" stop-color="#e5356a"/><stop offset="28.7%" stop-color="#e23c77"/><stop offset="29.3%" stop-color="#e23c77"/><stop offset="29.7%" stop-color="#df4283"/><stop offset="30.3%" stop-color="#df4283"/><stop offset="30.7%" stop-color="#dc478e"/><stop offset="31.3%" stop-color="#dc478e"/><stop offset="31.7%" stop-color="#da4b96"/><stop offset="32.3%" stop-color="#da4b96"/><stop offset="32.7%" stop-color="#d94d9a"/><stop offset="34.3%" stop-color="#d94e9b"/><stop offset="34.7%" stop-color="#da4c97"/><stop offset="35.3%" stop-color="#da4c97"/><stop offset="35.7%" stop-color="#db4991"/><stop offset="36.3%" stop-color="#db4991"/><stop offset="36.7%" stop-color="#dd4589"/><stop offset="37.3%" stop-color="#dd4589"/><stop offset="37.7%" stop-color="#e0407f"/><stop offset="38.3%" stop-color="#e0407f"/><stop offset="38.7%" stop-color="#e23b75"/><stop offset="39.3%" stop-color="#e23b75"/><stop offset="39.7%" stop-color="#e4366c"/><stop offset="40.3%" stop-color="#e4366c"/><stop offset="40.7%" stop-color="#e63365"/><stop offset="41.3%" stop-color="#e63365"/><stop offset="41.7%" stop-color="#e7305f"/><stop offset="44.3%" stop-color="#e82f5e"/><stop offset="44.7%" stop-color="#e73161"/><stop offset="45.3%" stop-color="#e73161"/><stop offset="45.7%" stop-color="#e53468"/><stop offset="46.3%" stop-color="#e53468"/><stop offset="46.7%" stop-color="#e33870"/><stop offset="47.3%" stop-color="#e33870"/><stop offset="47.7%" stop-color="#e13d79"/><stop offset="48.3%" stop-color="#e13d79"/><stop offset="48.7%" stop-color="#df4283"/><stop offset="49.3%" stop-color="#df4283"/><stop offset="49.7%" stop-color="#dc468c"/><stop offset="50.3%" stop-color="#dc468c"/><stop offset="50.7%" stop-color="#da4a94"/><stop offset="51.3%" stop-color="#da4a94"/><stop offset="51.7%" stop-color="#d94d99"/><stop offset="53.3%" stop-color="#d94e9b"/><stop offset="54.3%" stop-color="#d94d99"/><stop offset="54.7%" stop-color="#da4a94"/><stop offset="55.3%" stop-color="#da4a94"/><stop offset="55.7%" stop-color="#dc468c"/><stop offset="56.3%" stop-color="#dc468c"/><stop offset="56.7%" stop-color="#df4284"/><stop offset="57.3%" stop-color="#df4284"/><stop offset="57.7%" stop-color="#e13e7b"/><stop offset="58.3%" stop-color="#e13e7b"/><stop offset="58.7%" stop-color="#e33a73"/><stop offset="59.3%" stop-color="#e33a73"/><stop offset="59.7%" stop-color="#e4376e"/><stop offset="62.3%" stop-color="#e4376d"/><stop offset="62.7%" stop-color="#e33971"/><stop offset="63.3%" stop-color="#e33971"/><stop offset="63.7%" stop-color="#e13c78"/><stop offset="64.3%" stop-color="#e13c78"/><stop offset="64.7%" stop-color="#df4080"/><stop offset="65.3%" stop-color="#df4080"/><stop offset="65.7%" stop-color="#dd4589"/><stop offset="66.3%" stop-color="#dd4589"/><stop offset="66.7%" stop-color="#db4991"/><stop offset="67.3%" stop-color="#db4991"/><stop offset="67.7%" stop-color="#da4c97"/><stop offset="68.3%" stop-color="#da4c97"/><stop offset="68.7%" stop-color="#d94e9b"/><stop offset="70.3%" stop-color="#d94d9a"/><stop offset="70.7%" stop-color="#da4c97"/><stop offset="71.3%" stop-color="#da4c97"/><stop offset="71.7%" stop-color="#db4991"/><stop offset="72.3%" stop-color="#db4991"/><stop offset="72.7%" stop-color="#dd4589"/><stop offset="73.3%" stop-color="#dd4589"/><stop offset="73.7%" stop-color="#df4080"/><stop offset="74.3%" stop-color="#df4080"/><stop offset="74.7%" stop-color="#e23c77"/><stop offset="75.3%" stop-color="#e23c77"/><stop offset="75.7%" stop-color="#e4376e"/><stop offset="76.3%" stop-color="#e4376e"/><stop offset="76.7%" stop-color="#e63467"/><stop offset="77.3%" stop-color="#e63467"/><stop offset="77.7%" stop-color="#e73162"/><stop offset="78.3%" stop-color="#e73162"/><stop offset="78.7%" stop-color="#e7305f"/><stop offset="80.3%" stop-color="#e73060"/><stop offset="80.7%" stop-color="#e73163"/><stop offset="81.3%" stop-color="#e73163"/><stop offset="81.7%" stop-color="#e53468"/><stop offset="82.3%" stop-color="#e53468"/><stop offset="82.7%" stop-color="#e4386f"/><stop offset="83.3%" stop-color="#e4386f"/><stop offset="83.7%" stop-color="#e13c78"/><stop offset="84.3%" stop-color="#e13c78"/><stop offset="84.7%" stop-color="#df4181"/><stop offset="85.3%" stop-color="#df4181"/><stop offset="85.7%" stop-color="#dd458a"/><stop offset="86.3%" stop-color="#dd458a"/><stop offset="86.7%" stop-color="#db4991"/><stop offset="87.3%" stop-color="#db4991"/><stop offset="87.7%" stop-color="#da4c97"/><stop offset="88.3%" stop-color="#da4c97"/><stop offset="88.7%" stop-color="#d94e9a"/><stop offset="90.3%" stop-color="#d94e9b"/><stop offset="90.7%" stop-color="#da4c97"/><stop offset="91.3%" stop-color="#da4c97"/><stop offset="91.7%" stop-color="#db4991"/><stop offset="92.3%" stop-color="#db4991"/><stop offset="92.7%" stop-color="#dd4589"/><stop offset="93.3%" stop-color="#dd4589"/><stop offset="93.7%" stop-color="#df4080"/><stop offset="94.3%" stop-color="#df4080"/><stop offset="94.7%" stop-color="#e23b76"/><stop offset="95.3%" stop-color="#e23b76"/><stop offset="95.7%" stop-color="#e4366b"/><stop offset="96.3%" stop-color="#e4366b"/><stop offset="96.7%" stop-color="#e73162"/><stop offset="97.3%" stop-color="#e73162"/><stop offset="97.7%" stop-color="#e92d59"/><stop offset="98.3%" stop-color="#e92d59"/><stop offset="98.7%" stop-color="#eb2a53"/><stop offset="99.3%" stop-color="#eb2a53"/></linearGradient><linearGradient id="g10" gradientUnits="userSpaceOnUse" x1="0" y1="859.4" x2="0" y2="514.8"><stop offset="0%" stop-color="#eb2851"/><stop offset="1.3%" stop-color="#eb284f"/><stop offset="2.3%" stop-color="#eb2851"/><stop offset="2.7%" stop-color="#ea2b55"/><stop offset="3.3%" stop-color="#ea2b55"/><stop offset="3.7%" stop-color="#e82e5c"/><stop offset="4.3%" stop-color="#e82e5c"/><stop offset="4.7%" stop-color="#e63264"/><stop offset="5.3%" stop-color="#e63264"/><stop offset="5.7%" stop-color="#e4376e"/><stop offset="6.3%" stop-color="#e4376e"/><stop offset="6.7%" stop-color="#e13d79"/><stop offset="7.3%" stop-color="#e13d79"/><stop offset="7.7%" stop-color="#df4283"/><stop offset="8.3%" stop-color="#df4283"/><stop offset="8.7%" stop-color="#dc478d"/><stop offset="9.3%" stop-color="#dc478d"/><stop offset="9.7%" stop-color="#da4a94"/><stop offset="10.3%" stop-color="#da4a94"/><stop offset="10.7%" stop-color="#d94d9a"/><stop offset="13.3%" stop-color="#d94e9b"/><stop offset="13.7%" stop-color="#da4b95"/><stop offset="14.3%" stop-color="#da4b95"/><stop offset="14.7%" stop-color="#dc468c"/><stop offset="15.3%" stop-color="#dc468c"/><stop offset="15.7%" stop-color="#df4181"/><stop offset="16.3%" stop-color="#df4181"/><stop offset="16.7%" stop-color="#e23a74"/><stop offset="17.3%" stop-color="#e23a74"/><stop offset="17.7%" stop-color="#e63467"/><stop offset="18.3%" stop-color="#e63467"/><stop offset="18.7%" stop-color="#e92e5b"/><stop offset="19.3%" stop-color="#e92e5b"/><stop offset="19.7%" stop-color="#eb2850"/><stop offset="20.3%" stop-color="#eb2850"/><stop offset="20.7%" stop-color="#ed2448"/><stop offset="21.3%" stop-color="#ed2448"/><stop offset="21.7%" stop-color="#ee2243"/><stop offset="23.3%" stop-color="#ef2142"/><stop offset="23.7%" stop-color="#ee2345"/><stop offset="24.3%" stop-color="#ee2345"/><stop offset="24.7%" stop-color="#ec264c"/><stop offset="25.3%" stop-color="#ec264c"/><stop offset="25.7%" stop-color="#ea2b55"/><stop offset="26.3%" stop-color="#ea2b55"/><stop offset="26.7%" stop-color="#e73161"/><stop offset="27.3%" stop-color="#e73161"/><stop offset="27.7%" stop-color="#e4376e"/><stop offset="28.3%" stop-color="#e4376e"/><stop offset="28.7%" stop-color="#e13e7b"/><stop offset="29.3%" stop-color="#e13e7b"/><stop offset="29.7%" stop-color="#de4487"/><stop offset="30.3%" stop-color="#de4487"/><stop offset="30.7%" stop-color="#db4991"/><stop offset="31.3%" stop-color="#db4991"/><stop offset="31.7%" stop-color="#d94c98"/><stop offset="32.3%" stop-color="#d94c98"/><stop offset="32.7%" stop-color="#d84e9c"/><stop offset="34.3%" stop-color="#d94e9b"/><stop offset="34.7%" stop-color="#da4c97"/><stop offset="35.3%" stop-color="#da4c97"/><stop offset="35.7%" stop-color="#db4991"/><stop offset="36.3%" stop-color="#db4991"/><stop offset="36.7%" stop-color="#dd4488"/><stop offset="37.3%" stop-color="#dd4488"/><stop offset="37.7%" stop-color="#e0407f"/><stop offset="38.3%" stop-color="#e0407f"/><stop offset="38.7%" stop-color="#e23b75"/><stop offset="39.3%" stop-color="#e23b75"/><stop offset="39.7%" stop-color="#e4366d"/><stop offset="40.3%" stop-color="#e4366d"/><stop offset="40.7%" stop-color="#e63366"/><stop offset="41.3%" stop-color="#e63366"/><stop offset="41.7%" stop-color="#e73161"/><stop offset="43.3%" stop-color="#e7305f"/><stop offset="44.3%" stop-color="#e73061"/><stop offset="44.7%" stop-color="#e63365"/><stop offset="45.3%" stop-color="#e63365"/><stop offset="45.7%" stop-color="#e4366b"/><stop offset="46.3%" stop-color="#e4366b"/><stop offset="46.7%" stop-color="#e23a74"/><stop offset="47.3%" stop-color="#e23a74"/><stop offset="47.7%" stop-color="#e03f7d"/><stop offset="48.3%" stop-color="#e03f7d"/><stop offset="48.7%" stop-color="#de4487"/><stop offset="49.3%" stop-color="#de4487"/><stop offset="49.7%" stop-color="#dc4890"/><stop offset="50.3%" stop-color="#dc4890"/><stop offset="50.7%" stop-color="#da4c96"/><stop offset="51.3%" stop-color="#da4c96"/><stop offset="51.7%" stop-color="#d94e9b"/><stop offset="53.3%" stop-color="#d84e9c"/><stop offset="54.3%" stop-color="#d94d9a"/><stop offset="54.7%" stop-color="#da4a94"/><stop offset="55.3%" stop-color="#da4a94"/><stop offset="55.7%" stop-color="#dc468c"/><stop offset="56.3%" stop-color="#dc468c"/><stop offset="56.7%" stop-color="#df4283"/><stop offset="57.3%" stop-color="#df4283"/><stop offset="57.7%" stop-color="#e13d7a"/><stop offset="58.3%" stop-color="#e13d7a"/><stop offset="58.7%" stop-color="#e33972"/><stop offset="59.3%" stop-color="#e33972"/><stop offset="59.7%" stop-color="#e4376d"/><stop offset="62.3%" stop-color="#e4366b"/><stop offset="62.7%" stop-color="#e33870"/><stop offset="63.3%" stop-color="#e33870"/><stop offset="63.7%" stop-color="#e23b76"/><stop offset="64.3%" stop-color="#e23b76"/><stop offset="64.7%" stop-color="#e0407f"/><stop offset="65.3%" stop-color="#e0407f"/><stop offset="65.7%" stop-color="#dd4488"/><stop offset="66.3%" stop-color="#dd4488"/><stop offset="66.7%" stop-color="#db4990"/><stop offset="67.3%" stop-color="#db4990"/><stop offset="67.7%" stop-color="#da4c97"/><stop offset="68.3%" stop-color="#da4c97"/><stop offset="68.7%" stop-color="#d94e9c"/><stop offset="70.3%" stop-color="#d84e9c"/><stop offset="70.7%" stop-color="#d94d99"/><stop offset="71.3%" stop-color="#d94d99"/><stop offset="71.7%" stop-color="#db4a94"/><stop offset="72.3%" stop-color="#db4a94"/><stop offset="72.7%" stop-color="#dc468c"/><stop offset="73.3%" stop-color="#dc468c"/><stop offset="73.7%" stop-color="#de4284"/><stop offset="74.3%" stop-color="#de4284"/><stop offset="74.7%" stop-color="#e13e7b"/><stop offset="75.3%" stop-color="#e13e7b"/><stop offset="75.7%" stop-color="#e33972"/><stop offset="76.3%" stop-color="#e33972"/><stop offset="76.7%" stop-color="#e5366b"/><stop offset="77.3%" stop-color="#e5366b"/><stop offset="77.7%" stop-color="#e63365"/><stop offset="78.3%" stop-color="#e63365"/><stop offset="78.7%" stop-color="#e73162"/><stop offset="80.3%" stop-color="#e73161"/><stop offset="81.3%" stop-color="#e63263"/><stop offset="81.7%" stop-color="#e53468"/><stop offset="82.3%" stop-color="#e53468"/><stop offset="82.7%" stop-color="#e4386f"/><stop offset="83.3%" stop-color="#e4386f"/><stop offset="83.7%" stop-color="#e23c77"/><stop offset="84.3%" stop-color="#e23c77"/><stop offset="84.7%" stop-color="#df4080"/><stop offset="85.3%" stop-color="#df4080"/><stop offset="85.7%" stop-color="#dd4589"/><stop offset="86.3%" stop-color="#dd4589"/><stop offset="86.7%" stop-color="#db4991"/><stop offset="87.3%" stop-color="#db4991"/><stop offset="87.7%" stop-color="#da4c97"/><stop offset="88.3%" stop-color="#da4c97"/><stop offset="88.7%" stop-color="#d94e9b"/><stop offset="90.3%" stop-color="#d84e9c"/><stop offset="91.3%" stop-color="#d94d9a"/><stop offset="91.7%" stop-color="#da4a94"/><stop offset="92.3%" stop-color="#da4a94"/><stop offset="92.7%" stop-color="#dc468c"/><stop offset="93.3%" stop-color="#dc468c"/><stop offset="93.7%" stop-color="#df4283"/><stop offset="94.3%" stop-color="#df4283"/><stop offset="94.7%" stop-color="#e13d79"/><stop offset="95.3%" stop-color="#e13d79"/><stop offset="95.7%" stop-color="#e4376e"/><stop offset="96.3%" stop-color="#e4376e"/><stop offset="96.7%" stop-color="#e63264"/><stop offset="97.3%" stop-color="#e63264"/><stop offset="97.7%" stop-color="#e82e5b"/><stop offset="98.3%" stop-color="#e82e5b"/><stop offset="98.7%" stop-color="#ea2b55"/><stop offset="99.3%" stop-color="#ea2b55"/></linearGradient><linearGradient id="g11" gradientUnits="userSpaceOnUse" x1="0" y1="859.4" x2="0" y2="514.8"><stop offset="0%" stop-color="#eb2a53"/><stop offset="2.3%" stop-color="#eb2952"/><stop offset="2.7%" stop-color="#ea2b56"/><stop offset="3.3%" stop-color="#ea2b56"/><stop offset="3.7%" stop-color="#e82e5c"/><stop offset="4.3%" stop-color="#e82e5c"/><stop offset="4.7%" stop-color="#e63365"/><stop offset="5.3%" stop-color="#e63365"/><stop offset="5.7%" stop-color="#e4386f"/><stop offset="6.3%" stop-color="#e4386f"/><stop offset="6.7%" stop-color="#e13d7a"/><stop offset="7.3%" stop-color="#e13d7a"/><stop offset="7.7%" stop-color="#de4385"/><stop offset="8.3%" stop-color="#de4385"/><stop offset="8.7%" stop-color="#dc488f"/><stop offset="9.3%" stop-color="#dc488f"/><stop offset="9.7%" stop-color="#d94c98"/><stop offset="10.3%" stop-color="#d94c98"/><stop offset="10.7%" stop-color="#d84f9e"/><stop offset="11.3%" stop-color="#d84f9e"/><stop offset="11.7%" stop-color="#d751a1"/><stop offset="12.3%" stop-color="#d751a1"/><stop offset="12.7%" stop-color="#d84f9d"/><stop offset="13.3%" stop-color="#d84f9d"/><stop offset="13.7%" stop-color="#da4b95"/><stop offset="14.3%" stop-color="#da4b95"/><stop offset="14.7%" stop-color="#dd458a"/><stop offset="15.3%" stop-color="#dd458a"/><stop offset="15.7%" stop-color="#e03f7d"/><stop offset="16.3%" stop-color="#e03f7d"/><stop offset="16.7%" stop-color="#e4386f"/><stop offset="17.3%" stop-color="#e4386f"/><stop offset="17.7%" stop-color="#e73162"/><stop offset="18.3%" stop-color="#e73162"/><stop offset="18.7%" stop-color="#ea2b56"/><stop offset="19.3%" stop-color="#ea2b56"/><stop offset="19.7%" stop-color="#ec264c"/><stop offset="20.3%" stop-color="#ec264c"/><stop offset="20.7%" stop-color="#ee2346"/><stop offset="21.3%" stop-color="#ee2346"/><stop offset="21.7%" stop-color="#ef2142"/><stop offset="23.3%" stop-color="#ee2243"/><stop offset="23.7%" stop-color="#ed2448"/><stop offset="24.3%" stop-color="#ed2448"/><stop offset="24.7%" stop-color="#eb2850"/><stop offset="25.3%" stop-color="#eb2850"/><stop offset="25.7%" stop-color="#e92d5a"/><stop offset="26.3%" stop-color="#e92d5a"/><stop offset="26.7%" stop-color="#e63467"/><stop offset="27.3%" stop-color="#e63467"/><stop offset="27.7%" stop-color="#e23b75"/><stop offset="28.3%" stop-color="#e23b75"/><stop offset="28.7%" stop-color="#df4182"/><stop offset="29.3%" stop-color="#df4182"/><stop offset="29.7%" stop-color="#dc478e"/><stop offset="30.3%" stop-color="#dc478e"/><stop offset="30.7%" stop-color="#d94c98"/><stop offset="31.3%" stop-color="#d94c98"/><stop offset="31.7%" stop-color="#d8509f"/><stop offset="33.3%" stop-color="#d751a1"/><stop offset="33.7%" stop-color="#d84f9d"/><stop offset="34.3%" stop-color="#d84f9d"/><stop offset="34.7%" stop-color="#da4b96"/><stop offset="35.3%" stop-color="#da4b96"/><stop offset="35.7%" stop-color="#dc478e"/><stop offset="36.3%" stop-color="#dc478e"/><stop offset="36.7%" stop-color="#de4385"/><stop offset="37.3%" stop-color="#de4385"/><stop offset="37.7%" stop-color="#e03e7c"/><stop offset="38.3%" stop-color="#e03e7c"/><stop offset="38.7%" stop-color="#e33a73"/><stop offset="39.3%" stop-color="#e33a73"/><stop offset="39.7%" stop-color="#e4366c"/><stop offset="40.3%" stop-color="#e4366c"/><stop offset="40.7%" stop-color="#e63366"/><stop offset="43.3%" stop-color="#e63264"/><stop offset="44.3%" stop-color="#e63366"/><stop offset="44.7%" stop-color="#e4366c"/><stop offset="45.3%" stop-color="#e4366c"/><stop offset="45.7%" stop-color="#e33a73"/><stop offset="46.3%" stop-color="#e33a73"/><stop offset="46.7%" stop-color="#e03e7c"/><stop offset="47.3%" stop-color="#e03e7c"/><stop offset="47.7%" stop-color="#de4385"/><stop offset="48.3%" stop-color="#de4385"/><stop offset="48.7%" stop-color="#dc478e"/><stop offset="49.3%" stop-color="#dc478e"/><stop offset="49.7%" stop-color="#da4b96"/><stop offset="50.3%" stop-color="#da4b96"/><stop offset="50.7%" stop-color="#d84f9d"/><stop offset="51.3%" stop-color="#d84f9d"/><stop offset="51.7%" stop-color="#d751a1"/><stop offset="53.3%" stop-color="#d850a0"/><stop offset="53.7%" stop-color="#d94d9a"/><stop offset="54.3%" stop-color="#d94d9a"/><stop offset="54.7%" stop-color="#db4a92"/><stop offset="55.3%" stop-color="#db4a92"/><stop offset="55.7%" stop-color="#dd4589"/><stop offset="56.3%" stop-color="#dd4589"/><stop offset="56.7%" stop-color="#df4080"/><stop offset="57.3%" stop-color="#df4080"/><stop offset="57.7%" stop-color="#e23c77"/><stop offset="58.3%" stop-color="#e23c77"/><stop offset="58.7%" stop-color="#e4386f"/><stop offset="59.3%" stop-color="#e4386f"/><stop offset="59.7%" stop-color="#e5356a"/><stop offset="60.3%" stop-color="#e5356a"/><stop offset="60.7%" stop-color="#e63467"/><stop offset="62.3%" stop-color="#e53468"/><stop offset="62.7%" stop-color="#e4366b"/><stop offset="63.3%" stop-color="#e4366b"/><stop offset="63.7%" stop-color="#e33972"/><stop offset="64.3%" stop-color="#e33972"/><stop offset="64.7%" stop-color="#e13d7a"/><stop offset="65.3%" stop-color="#e13d7a"/><stop offset="65.7%" stop-color="#df4283"/><stop offset="66.3%" stop-color="#df4283"/><stop offset="66.7%" stop-color="#dc478d"/><stop offset="67.3%" stop-color="#dc478d"/><stop offset="67.7%" stop-color="#da4b95"/><stop offset="68.3%" stop-color="#da4b95"/><stop offset="68.7%" stop-color="#d84f9c"/><stop offset="69.3%" stop-color="#d84f9c"/><stop offset="69.7%" stop-color="#d751a1"/><stop offset="71.3%" stop-color="#d850a0"/><stop offset="71.7%" stop-color="#d94e9b"/><stop offset="72.3%" stop-color="#d94e9b"/><stop offset="72.7%" stop-color="#da4a94"/><stop offset="73.3%" stop-color="#da4a94"/><stop offset="73.7%" stop-color="#dd468c"/><stop offset="74.3%" stop-color="#dd468c"/><stop offset="74.7%" stop-color="#df4283"/><stop offset="75.3%" stop-color="#df4283"/><stop offset="75.7%" stop-color="#e13d7a"/><stop offset="76.3%" stop-color="#e13d7a"/><stop offset="76.7%" stop-color="#e33972"/><stop offset="77.3%" stop-color="#e33972"/><stop offset="77.7%" stop-color="#e5366b"/><stop offset="78.3%" stop-color="#e5366b"/><stop offset="78.7%" stop-color="#e63366"/><stop offset="81.3%" stop-color="#e63264"/><stop offset="81.7%" stop-color="#e53467"/><stop offset="82.3%" stop-color="#e53467"/><stop offset="82.7%" stop-color="#e4376d"/><stop offset="83.3%" stop-color="#e4376d"/><stop offset="83.7%" stop-color="#e23a74"/><stop offset="84.3%" stop-color="#e23a74"/><stop offset="84.7%" stop-color="#e03e7c"/><stop offset="85.3%" stop-color="#e03e7c"/><stop offset="85.7%" stop-color="#de4385"/><stop offset="86.3%" stop-color="#de4385"/><stop offset="86.7%" stop-color="#dc478e"/><stop offset="87.3%" stop-color="#dc478e"/><stop offset="87.7%" stop-color="#da4b96"/><stop offset="88.3%" stop-color="#da4b96"/><stop offset="88.7%" stop-color="#d84f9c"/><stop offset="89.3%" stop-color="#d84f9c"/><stop offset="89.7%" stop-color="#d751a0"/><stop offset="91.3%" stop-color="#d750a0"/><stop offset="91.7%" stop-color="#d94e9a"/><stop offset="92.3%" stop-color="#d94e9a"/><stop offset="92.7%" stop-color="#db4992"/><stop offset="93.3%" stop-color="#db4992"/><stop offset="93.7%" stop-color="#dd4589"/><stop offset="94.3%" stop-color="#dd4589"/><stop offset="94.7%" stop-color="#e03f7e"/><stop offset="95.3%" stop-color="#e03f7e"/><stop offset="95.7%" stop-color="#e33a73"/><stop offset="96.3%" stop-color="#e33a73"/><stop offset="96.7%" stop-color="#e53468"/><stop offset="97.3%" stop-color="#e53468"/><stop offset="97.7%" stop-color="#e8305f"/><stop offset="98.3%" stop-color="#e8305f"/><stop offset="98.7%" stop-color="#e92c58"/><stop offset="99.3%" stop-color="#e92c58"/></linearGradient><linearGradient id="g12" gradientUnits="userSpaceOnUse" x1="0" y1="859.4" x2="0" y2="514.8"><stop offset="0%" stop-color="#ea2a54"/><stop offset="2.3%" stop-color="#eb2952"/><stop offset="2.7%" stop-color="#ea2b55"/><stop offset="3.3%" stop-color="#ea2b55"/><stop offset="3.7%" stop-color="#e82e5c"/><stop offset="4.3%" stop-color="#e82e5c"/><stop offset="4.7%" stop-color="#e63264"/><stop offset="5.3%" stop-color="#e63264"/><stop offset="5.7%" stop-color="#e4386f"/><stop offset="6.3%" stop-color="#e4386f"/><stop offset="6.7%" stop-color="#e13e7b"/><stop offset="7.3%" stop-color="#e13e7b"/><stop offset="7.7%" stop-color="#de4386"/><stop offset="8.3%" stop-color="#de4386"/><stop offset="8.7%" stop-color="#db4992"/><stop offset="9.3%" stop-color="#db4992"/><stop offset="9.7%" stop-color="#d94e9c"/><stop offset="10.3%" stop-color="#d94e9c"/><stop offset="10.7%" stop-color="#d752a3"/><stop offset="12.3%" stop-color="#d653a5"/><stop offset="12.7%" stop-color="#d84f9e"/><stop offset="13.3%" stop-color="#d84f9e"/><stop offset="13.7%" stop-color="#db4a93"/><stop offset="14.3%" stop-color="#db4a93"/><stop offset="14.7%" stop-color="#de4386"/><stop offset="15.3%" stop-color="#de4386"/><stop offset="15.7%" stop-color="#e13c78"/><stop offset="16.3%" stop-color="#e13c78"/><stop offset="16.7%" stop-color="#e5356a"/><stop offset="17.3%" stop-color="#e5356a"/><stop offset="17.7%" stop-color="#e82e5d"/><stop offset="18.3%" stop-color="#e82e5d"/><stop offset="18.7%" stop-color="#eb2951"/><stop offset="19.3%" stop-color="#eb2951"/><stop offset="19.7%" stop-color="#ed2549"/><stop offset="20.3%" stop-color="#ed2549"/><stop offset="20.7%" stop-color="#ee2244"/><stop offset="22.3%" stop-color="#ef2142"/><stop offset="22.7%" stop-color="#ee2345"/><stop offset="23.3%" stop-color="#ee2345"/><stop offset="23.7%" stop-color="#ec264b"/><stop offset="24.3%" stop-color="#ec264b"/><stop offset="24.7%" stop-color="#ea2a55"/><stop offset="25.3%" stop-color="#ea2a55"/><stop offset="25.7%" stop-color="#e73060"/><stop offset="26.3%" stop-color="#e73060"/><stop offset="26.7%" stop-color="#e4376e"/><stop offset="27.3%" stop-color="#e4376e"/><stop offset="27.7%" stop-color="#e03e7c"/><stop offset="28.3%" stop-color="#e03e7c"/><stop offset="28.7%" stop-color="#dd458a"/><stop offset="29.3%" stop-color="#dd458a"/><stop offset="29.7%" stop-color="#da4c96"/><stop offset="30.3%" stop-color="#da4c96"/><stop offset="30.7%" stop-color="#d751a1"/><stop offset="31.3%" stop-color="#d751a1"/><stop offset="31.7%" stop-color="#d653a5"/><stop offset="32.3%" stop-color="#d653a5"/><stop offset="32.7%" stop-color="#d751a2"/><stop offset="33.3%" stop-color="#d751a2"/><stop offset="33.7%" stop-color="#d94e9b"/><stop offset="34.3%" stop-color="#d94e9b"/><stop offset="34.7%" stop-color="#db4a93"/><stop offset="35.3%" stop-color="#db4a93"/><stop offset="35.7%" stop-color="#dd458a"/><stop offset="36.3%" stop-color="#dd458a"/><stop offset="36.7%" stop-color="#df4080"/><stop offset="37.3%" stop-color="#df4080"/><stop offset="37.7%" stop-color="#e23c77"/><stop offset="38.3%" stop-color="#e23c77"/><stop offset="38.7%" stop-color="#e33870"/><stop offset="39.3%" stop-color="#e33870"/><stop offset="39.7%" stop-color="#e5356a"/><stop offset="40.3%" stop-color="#e5356a"/><stop offset="40.7%" stop-color="#e63366"/><stop offset="43.3%" stop-color="#e63366"/><stop offset="43.7%" stop-color="#e5356a"/><stop offset="44.3%" stop-color="#e5356a"/><stop offset="44.7%" stop-color="#e33871"/><stop offset="45.3%" stop-color="#e33871"/><stop offset="45.7%" stop-color="#e13c78"/><stop offset="46.3%" stop-color="#e13c78"/><stop offset="46.7%" stop-color="#df4181"/><stop offset="47.3%" stop-color="#df4181"/><stop offset="47.7%" stop-color="#dd468b"/><stop offset="48.3%" stop-color="#dd468b"/><stop offset="48.7%" stop-color="#da4a94"/><stop offset="49.3%" stop-color="#da4a94"/><stop offset="49.7%" stop-color="#d84e9c"/><stop offset="50.3%" stop-color="#d84e9c"/><stop offset="50.7%" stop-color="#d752a3"/><stop offset="52.3%" stop-color="#d653a5"/><stop offset="52.7%" stop-color="#d751a1"/><stop offset="53.3%" stop-color="#d751a1"/><stop offset="53.7%" stop-color="#d94d99"/><stop offset="54.3%" stop-color="#d94d99"/><stop offset="54.7%" stop-color="#db4890"/><stop offset="55.3%" stop-color="#db4890"/><stop offset="55.7%" stop-color="#de4487"/><stop offset="56.3%" stop-color="#de4487"/><stop offset="56.7%" stop-color="#e03f7d"/><stop offset="57.3%" stop-color="#e03f7d"/><stop offset="57.7%" stop-color="#e23a74"/><stop offset="58.3%" stop-color="#e23a74"/><stop offset="58.7%" stop-color="#e4376d"/><stop offset="59.3%" stop-color="#e4376d"/><stop offset="59.7%" stop-color="#e53468"/><stop offset="60.3%" stop-color="#e53468"/><stop offset="60.7%" stop-color="#e63365"/><stop offset="62.3%" stop-color="#e63365"/><stop offset="62.7%" stop-color="#e53468"/><stop offset="63.3%" stop-color="#e53468"/><stop offset="63.7%" stop-color="#e4376e"/><stop offset="64.3%" stop-color="#e4376e"/><stop offset="64.7%" stop-color="#e23b75"/><stop offset="65.3%" stop-color="#e23b75"/><stop offset="65.7%" stop-color="#e0407f"/><stop offset="66.3%" stop-color="#e0407f"/><stop offset="66.7%" stop-color="#dd4488"/><stop offset="67.3%" stop-color="#dd4488"/><stop offset="67.7%" stop-color="#db4992"/><stop offset="68.3%" stop-color="#db4992"/><stop offset="68.7%" stop-color="#d94e9b"/><stop offset="69.3%" stop-color="#d94e9b"/><stop offset="69.7%" stop-color="#d751a2"/><stop offset="70.3%" stop-color="#d751a2"/><stop offset="70.7%" stop-color="#d653a5"/><stop offset="71.3%" stop-color="#d653a5"/><stop offset="71.7%" stop-color="#d751a2"/><stop offset="72.3%" stop-color="#d751a2"/><stop offset="72.7%" stop-color="#d94e9b"/><stop offset="73.3%" stop-color="#d94e9b"/><stop offset="73.7%" stop-color="#db4a93"/><stop offset="74.3%" stop-color="#db4a93"/><stop offset="74.7%" stop-color="#dd458a"/><stop offset="75.3%" stop-color="#dd458a"/><stop offset="75.7%" stop-color="#df4080"/><stop offset="76.3%" stop-color="#df4080"/><stop offset="76.7%" stop-color="#e13c78"/><stop offset="77.3%" stop-color="#e13c78"/><stop offset="77.7%" stop-color="#e33870"/><stop offset="78.3%" stop-color="#e33870"/><stop offset="78.7%" stop-color="#e5356a"/><stop offset="79.3%" stop-color="#e5356a"/><stop offset="79.7%" stop-color="#e63366"/><stop offset="82.3%" stop-color="#e63366"/><stop offset="82.7%" stop-color="#e5356a"/><stop offset="83.3%" stop-color="#e5356a"/><stop offset="83.7%" stop-color="#e33870"/><stop offset="84.3%" stop-color="#e33870"/><stop offset="84.7%" stop-color="#e13c78"/><stop offset="85.3%" stop-color="#e13c78"/><stop offset="85.7%" stop-color="#df4080"/><stop offset="86.3%" stop-color="#df4080"/><stop offset="86.7%" stop-color="#dd458a"/><stop offset="87.3%" stop-color="#dd458a"/><stop offset="87.7%" stop-color="#db4a93"/><stop offset="88.3%" stop-color="#db4a93"/><stop offset="88.7%" stop-color="#d94e9b"/><stop offset="89.3%" stop-color="#d94e9b"/><stop offset="89.7%" stop-color="#d751a2"/><stop offset="90.3%" stop-color="#d751a2"/><stop offset="90.7%" stop-color="#d653a5"/><stop offset="91.3%" stop-color="#d653a5"/><stop offset="91.7%" stop-color="#d751a2"/><stop offset="92.3%" stop-color="#d751a2"/><stop offset="92.7%" stop-color="#d94d99"/><stop offset="93.3%" stop-color="#d94d99"/><stop offset="93.7%" stop-color="#dc488f"/><stop offset="94.3%" stop-color="#dc488f"/><stop offset="94.7%" stop-color="#df4283"/><stop offset="95.3%" stop-color="#df4283"/><stop offset="95.7%" stop-color="#e23c77"/><stop offset="96.3%" stop-color="#e23c77"/><stop offset="96.7%" stop-color="#e4366c"/><stop offset="97.3%" stop-color="#e4366c"/><stop offset="97.7%" stop-color="#e73162"/><stop offset="98.3%" stop-color="#e73162"/><stop offset="98.7%" stop-color="#e92d5a"/><stop offset="99.3%" stop-color="#e92d5a"/></linearGradient><linearGradient id="g13" gradientUnits="userSpaceOnUse" x1="0" y1="859.4" x2="0" y2="514.8"><stop offset="0%" stop-color="#ea2a53"/><stop offset="2.3%" stop-color="#eb2850"/><stop offset="2.7%" stop-color="#ea2a53"/><stop offset="3.3%" stop-color="#ea2a53"/><stop offset="3.7%" stop-color="#e92d5a"/><stop offset="4.3%" stop-color="#e92d5a"/><stop offset="4.7%" stop-color="#e73163"/><stop offset="5.3%" stop-color="#e73163"/><stop offset="5.7%" stop-color="#e4376e"/><stop offset="6.3%" stop-color="#e4376e"/><stop offset="6.7%" stop-color="#e13d7a"/><stop offset="7.3%" stop-color="#e13d7a"/><stop offset="7.7%" stop-color="#de4487"/><stop offset="8.3%" stop-color="#de4487"/><stop offset="8.7%" stop-color="#db4a93"/><stop offset="9.3%" stop-color="#db4a93"/><stop offset="9.7%" stop-color="#d850a0"/><stop offset="10.3%" stop-color="#d850a0"/><stop offset="10.7%" stop-color="#d555a9"/><stop offset="12.3%" stop-color="#d555aa"/><stop offset="12.7%" stop-color="#d8509f"/><stop offset="13.3%" stop-color="#d8509f"/><stop offset="13.7%" stop-color="#db4991"/><stop offset="14.3%" stop-color="#db4991"/><stop offset="14.7%" stop-color="#df4182"/><stop offset="15.3%" stop-color="#df4182"/><stop offset="15.7%" stop-color="#e23a73"/><stop offset="16.3%" stop-color="#e23a73"/><stop offset="16.7%" stop-color="#e63365"/><stop offset="17.3%" stop-color="#e63365"/><stop offset="17.7%" stop-color="#e92c59"/><stop offset="18.3%" stop-color="#e92c59"/><stop offset="18.7%" stop-color="#ec274e"/><stop offset="19.3%" stop-color="#ec274e"/><stop offset="19.7%" stop-color="#ee2447"/><stop offset="20.3%" stop-color="#ee2447"/><stop offset="20.7%" stop-color="#ee2243"/><stop offset="22.3%" stop-color="#ef2143"/><stop offset="22.7%" stop-color="#ee2346"/><stop offset="23.3%" stop-color="#ee2346"/><stop offset="23.7%" stop-color="#ec274d"/><stop offset="24.3%" stop-color="#ec274d"/><stop offset="24.7%" stop-color="#e92c58"/><stop offset="25.3%" stop-color="#e92c58"/><stop offset="25.7%" stop-color="#e63264"/><stop offset="26.3%" stop-color="#e63264"/><stop offset="26.7%" stop-color="#e33972"/><stop offset="27.3%" stop-color="#e33972"/><stop offset="27.7%" stop-color="#df4181"/><stop offset="28.3%" stop-color="#df4181"/><stop offset="28.7%" stop-color="#dc4890"/><stop offset="29.3%" stop-color="#dc4890"/><stop offset="29.7%" stop-color="#d84f9e"/><stop offset="30.3%" stop-color="#d84f9e"/><stop offset="30.7%" stop-color="#d555a9"/><stop offset="32.3%" stop-color="#d555aa"/><stop offset="32.7%" stop-color="#d752a3"/><stop offset="33.3%" stop-color="#d752a3"/><stop offset="33.7%" stop-color="#d94d99"/><stop offset="34.3%" stop-color="#d94d99"/><stop offset="34.7%" stop-color="#dc488f"/><stop offset="35.3%" stop-color="#dc488f"/><stop offset="35.7%" stop-color="#de4385"/><stop offset="36.3%" stop-color="#de4385"/><stop offset="36.7%" stop-color="#e03e7b"/><stop offset="37.3%" stop-color="#e03e7b"/><stop offset="37.7%" stop-color="#e33a73"/><stop offset="38.3%" stop-color="#e33a73"/><stop offset="38.7%" stop-color="#e4366c"/><stop offset="39.3%" stop-color="#e4366c"/><stop offset="39.7%" stop-color="#e63366"/><stop offset="42.3%" stop-color="#e63264"/><stop offset="43.3%" stop-color="#e63366"/><stop offset="43.7%" stop-color="#e5366b"/><stop offset="44.3%" stop-color="#e5366b"/><stop offset="44.7%" stop-color="#e33972"/><stop offset="45.3%" stop-color="#e33972"/><stop offset="45.7%" stop-color="#e13d7a"/><stop offset="46.3%" stop-color="#e13d7a"/><stop offset="46.7%" stop-color="#de4284"/><stop offset="47.3%" stop-color="#de4284"/><stop offset="47.7%" stop-color="#dc478e"/><stop offset="48.3%" stop-color="#dc478e"/><stop offset="48.7%" stop-color="#d94c98"/><stop offset="49.3%" stop-color="#d94c98"/><stop offset="49.7%" stop-color="#d751a2"/><stop offset="50.3%" stop-color="#d751a2"/><stop offset="50.7%" stop-color="#d555aa"/><stop offset="52.3%" stop-color="#d555aa"/><stop offset="52.7%" stop-color="#d752a3"/><stop offset="53.3%" stop-color="#d752a3"/><stop offset="53.7%" stop-color="#d94d99"/><stop offset="54.3%" stop-color="#d94d99"/><stop offset="54.7%" stop-color="#dc488f"/><stop offset="55.3%" stop-color="#dc488f"/><stop offset="55.7%" stop-color="#de4385"/><stop offset="56.3%" stop-color="#de4385"/><stop offset="56.7%" stop-color="#e13e7b"/><stop offset="57.3%" stop-color="#e13e7b"/><stop offset="57.7%" stop-color="#e33972"/><stop offset="58.3%" stop-color="#e33972"/><stop offset="58.7%" stop-color="#e4366b"/><stop offset="59.3%" stop-color="#e4366b"/><stop offset="59.7%" stop-color="#e63366"/><stop offset="62.3%" stop-color="#e63264"/><stop offset="63.3%" stop-color="#e63366"/><stop offset="63.7%" stop-color="#e4366b"/><stop offset="64.3%" stop-color="#e4366b"/><stop offset="64.7%" stop-color="#e33973"/><stop offset="65.3%" stop-color="#e33973"/><stop offset="65.7%" stop-color="#e13e7b"/><stop offset="66.3%" stop-color="#e13e7b"/><stop offset="66.7%" stop-color="#de4385"/><stop offset="67.3%" stop-color="#de4385"/><stop offset="67.7%" stop-color="#dc488f"/><stop offset="68.3%" stop-color="#dc488f"/><stop offset="68.7%" stop-color="#d94d99"/><stop offset="69.3%" stop-color="#d94d99"/><stop offset="69.7%" stop-color="#d752a3"/><stop offset="70.3%" stop-color="#d752a3"/><stop offset="70.7%" stop-color="#d555aa"/><stop offset="72.3%" stop-color="#d555a9"/><stop offset="72.7%" stop-color="#d751a2"/><stop offset="73.3%" stop-color="#d751a2"/><stop offset="73.7%" stop-color="#d94c98"/><stop offset="74.3%" stop-color="#d94c98"/><stop offset="74.7%" stop-color="#dc478e"/><stop offset="75.3%" stop-color="#dc478e"/><stop offset="75.7%" stop-color="#de4284"/><stop offset="76.3%" stop-color="#de4284"/><stop offset="76.7%" stop-color="#e13d7a"/><stop offset="77.3%" stop-color="#e13d7a"/><stop offset="77.7%" stop-color="#e33972"/><stop offset="78.3%" stop-color="#e33972"/><stop offset="78.7%" stop-color="#e5366b"/><stop offset="79.3%" stop-color="#e5366b"/><stop offset="79.7%" stop-color="#e63366"/><stop offset="82.3%" stop-color="#e63264"/><stop offset="83.3%" stop-color="#e63366"/><stop offset="83.7%" stop-color="#e4366c"/><stop offset="84.3%" stop-color="#e4366c"/><stop offset="84.7%" stop-color="#e33a73"/><stop offset="85.3%" stop-color="#e33a73"/><stop offset="85.7%" stop-color="#e03e7c"/><stop offset="86.3%" stop-color="#e03e7c"/><stop offset="86.7%" stop-color="#de4385"/><stop offset="87.3%" stop-color="#de4385"/><stop offset="87.7%" stop-color="#dc488f"/><stop offset="88.3%" stop-color="#dc488f"/><stop offset="88.7%" stop-color="#d94d99"/><stop offset="89.3%" stop-color="#d94d99"/><stop offset="89.7%" stop-color="#d752a3"/><stop offset="90.3%" stop-color="#d752a3"/><stop offset="90.7%" stop-color="#d555aa"/><stop offset="92.3%" stop-color="#d555a9"/><stop offset="92.7%" stop-color="#d8509f"/><stop offset="93.3%" stop-color="#d8509f"/><stop offset="93.7%" stop-color="#db4a93"/><stop offset="94.3%" stop-color="#db4a93"/><stop offset="94.7%" stop-color="#de4386"/><stop offset="95.3%" stop-color="#de4386"/><stop offset="95.7%" stop-color="#e13d79"/><stop offset="96.3%" stop-color="#e13d79"/><stop offset="96.7%" stop-color="#e4376d"/><stop offset="97.3%" stop-color="#e4376d"/><stop offset="97.7%" stop-color="#e73162"/><stop offset="98.3%" stop-color="#e73162"/><stop offset="98.7%" stop-color="#e92d59"/><stop offset="99.3%" stop-color="#e92d59"/></linearGradient><linearGradient id="g14" gradientUnits="userSpaceOnUse" x1="0" y1="859.4" x2="0" y2="514.8"><stop offset="0%" stop-color="#eb2850"/><stop offset="0.3%" stop-color="#eb2850"/><stop offset="0.7%" stop-color="#ec264c"/><stop offset="2.3%" stop-color="#ec264c"/><stop offset="2.7%" stop-color="#eb2850"/><stop offset="3.3%" stop-color="#eb2850"/><stop offset="3.7%" stop-color="#ea2b56"/><stop offset="4.3%" stop-color="#ea2b56"/><stop offset="4.7%" stop-color="#e82f5f"/><stop offset="5.3%" stop-color="#e82f5f"/><stop offset="5.7%" stop-color="#e5356a"/><stop offset="6.3%" stop-color="#e5356a"/><stop offset="6.7%" stop-color="#e23c77"/><stop offset="7.3%" stop-color="#e23c77"/><stop offset="7.7%" stop-color="#de4385"/><stop offset="8.3%" stop-color="#de4385"/><stop offset="8.7%" stop-color="#da4a94"/><stop offset="9.3%" stop-color="#da4a94"/><stop offset="9.7%" stop-color="#d653a5"/><stop offset="10.3%" stop-color="#d653a5"/><stop offset="10.7%" stop-color="#d35ab3"/><stop offset="12.3%" stop-color="#d35ab3"/><stop offset="12.7%" stop-color="#d752a3"/><stop offset="13.3%" stop-color="#d752a3"/><stop offset="13.7%" stop-color="#db4991"/><stop offset="14.3%" stop-color="#db4991"/><stop offset="14.7%" stop-color="#df4181"/><stop offset="15.3%" stop-color="#df4181"/><stop offset="15.7%" stop-color="#e33971"/><stop offset="16.3%" stop-color="#e33971"/><stop offset="16.7%" stop-color="#e73263"/><stop offset="17.3%" stop-color="#e73263"/><stop offset="17.7%" stop-color="#ea2b57"/><stop offset="18.3%" stop-color="#ea2b57"/><stop offset="18.7%" stop-color="#ec274d"/><stop offset="19.3%" stop-color="#ec274d"/><stop offset="19.7%" stop-color="#ee2346"/><stop offset="20.3%" stop-color="#ee2346"/><stop offset="20.7%" stop-color="#ef2143"/><stop offset="22.3%" stop-color="#ef2143"/><stop offset="22.7%" stop-color="#ee2346"/><stop offset="23.3%" stop-color="#ee2346"/><stop offset="23.7%" stop-color="#ec274d"/><stop offset="24.3%" stop-color="#ec274d"/><stop offset="24.7%" stop-color="#ea2b57"/><stop offset="25.3%" stop-color="#ea2b57"/><stop offset="25.7%" stop-color="#e73263"/><stop offset="26.3%" stop-color="#e73263"/><stop offset="26.7%" stop-color="#e33971"/><stop offset="27.3%" stop-color="#e33971"/><stop offset="27.7%" stop-color="#df4181"/><stop offset="28.3%" stop-color="#df4181"/><stop offset="28.7%" stop-color="#db4991"/><stop offset="29.3%" stop-color="#db4991"/><stop offset="29.7%" stop-color="#d752a3"/><stop offset="30.3%" stop-color="#d752a3"/><stop offset="30.7%" stop-color="#d35ab3"/><stop offset="32.3%" stop-color="#d35ab3"/><stop offset="32.7%" stop-color="#d654a8"/><stop offset="33.3%" stop-color="#d654a8"/><stop offset="33.7%" stop-color="#d94e9a"/><stop offset="34.3%" stop-color="#d94e9a"/><stop offset="34.7%" stop-color="#dc478e"/><stop offset="35.3%" stop-color="#dc478e"/><stop offset="35.7%" stop-color="#df4282"/><stop offset="36.3%" stop-color="#df4282"/><stop offset="36.7%" stop-color="#e13c78"/><stop offset="37.3%" stop-color="#e13c78"/><stop offset="37.7%" stop-color="#e4386f"/><stop offset="38.3%" stop-color="#e4386f"/><stop offset="38.7%" stop-color="#e53468"/><stop offset="39.3%" stop-color="#e53468"/><stop offset="39.7%" stop-color="#e73263"/><stop offset="40.3%" stop-color="#e73263"/><stop offset="40.7%" stop-color="#e73060"/><stop offset="42.3%" stop-color="#e73060"/><stop offset="42.7%" stop-color="#e73263"/><stop offset="43.3%" stop-color="#e73263"/><stop offset="43.7%" stop-color="#e53468"/><stop offset="44.3%" stop-color="#e53468"/><stop offset="44.7%" stop-color="#e4386f"/><stop offset="45.3%" stop-color="#e4386f"/><stop offset="45.7%" stop-color="#e13c78"/><stop offset="46.3%" stop-color="#e13c78"/><stop offset="46.7%" stop-color="#df4282"/><stop offset="47.3%" stop-color="#df4282"/><stop offset="47.7%" stop-color="#dc478e"/><stop offset="48.3%" stop-color="#dc478e"/><stop offset="48.7%" stop-color="#d94e9a"/><stop offset="49.3%" stop-color="#d94e9a"/><stop offset="49.7%" stop-color="#d654a8"/><stop offset="50.3%" stop-color="#d654a8"/><stop offset="50.7%" stop-color="#d35ab3"/><stop offset="52.3%" stop-color="#d35ab3"/><stop offset="52.7%" stop-color="#d654a8"/><stop offset="53.3%" stop-color="#d654a8"/><stop offset="53.7%" stop-color="#d94e9a"/><stop offset="54.3%" stop-color="#d94e9a"/><stop offset="54.7%" stop-color="#dc478e"/><stop offset="55.3%" stop-color="#dc478e"/><stop offset="55.7%" stop-color="#df4282"/><stop offset="56.3%" stop-color="#df4282"/><stop offset="56.7%" stop-color="#e13c78"/><stop offset="57.3%" stop-color="#e13c78"/><stop offset="57.7%" stop-color="#e4386f"/><stop offset="58.3%" stop-color="#e4386f"/><stop offset="58.7%" stop-color="#e53468"/><stop offset="59.3%" stop-color="#e53468"/><stop offset="59.7%" stop-color="#e73263"/><stop offset="60.3%" stop-color="#e73263"/><stop offset="60.7%" stop-color="#e73060"/><stop offset="62.3%" stop-color="#e73060"/><stop offset="62.7%" stop-color="#e73263"/><stop offset="63.3%" stop-color="#e73263"/><stop offset="63.7%" stop-color="#e53468"/><stop offset="64.3%" stop-color="#e53468"/><stop offset="64.7%" stop-color="#e4386f"/><stop offset="65.3%" stop-color="#e4386f"/><stop offset="65.7%" stop-color="#e13c78"/><stop offset="66.3%" stop-color="#e13c78"/><stop offset="66.7%" stop-color="#df4282"/><stop offset="67.3%" stop-color="#df4282"/><stop offset="67.7%" stop-color="#dc478e"/><stop offset="68.3%" stop-color="#dc478e"/><stop offset="68.7%" stop-color="#d94e9a"/><stop offset="69.3%" stop-color="#d94e9a"/><stop offset="69.7%" stop-color="#d654a8"/><stop offset="70.3%" stop-color="#d654a8"/><stop offset="70.7%" stop-color="#d35ab3"/><stop offset="72.3%" stop-color="#d35ab3"/><stop offset="72.7%" stop-color="#d654a8"/><stop offset="73.3%" stop-color="#d654a8"/><stop offset="73.7%" stop-color="#d94e9a"/><stop offset="74.3%" stop-color="#d94e9a"/><stop offset="74.7%" stop-color="#dc478e"/><stop offset="75.3%" stop-color="#dc478e"/><stop offset="75.7%" stop-color="#df4282"/><stop offset="76.3%" stop-color="#df4282"/><stop offset="76.7%" stop-color="#e13c78"/><stop offset="77.3%" stop-color="#e13c78"/><stop offset="77.7%" stop-color="#e4386f"/><stop offset="78.3%" stop-color="#e4386f"/><stop offset="78.7%" stop-color="#e53468"/><stop offset="79.3%" stop-color="#e53468"/><stop offset="79.7%" stop-color="#e73263"/><stop offset="80.3%" stop-color="#e73263"/><stop offset="80.7%" stop-color="#e73060"/><stop offset="82.3%" stop-color="#e73060"/><stop offset="82.7%" stop-color="#e73263"/><stop offset="83.3%" stop-color="#e73263"/><stop offset="83.7%" stop-color="#e53468"/><stop offset="84.3%" stop-color="#e53468"/><stop offset="84.7%" stop-color="#e4386f"/><stop offset="85.3%" stop-color="#e4386f"/><stop offset="85.7%" stop-color="#e13c78"/><stop offset="86.3%" stop-color="#e13c78"/><stop offset="86.7%" stop-color="#df4282"/><stop offset="87.3%" stop-color="#df4282"/><stop offset="87.7%" stop-color="#dc478e"/><stop offset="88.3%" stop-color="#dc478e"/><stop offset="88.7%" stop-color="#d94e9a"/><stop offset="89.3%" stop-color="#d94e9a"/><stop offset="89.7%" stop-color="#d654a8"/><stop offset="90.3%" stop-color="#d654a8"/><stop offset="90.7%" stop-color="#d35ab3"/><stop offset="92.3%" stop-color="#d35ab3"/><stop offset="92.7%" stop-color="#d653a5"/><stop offset="93.3%" stop-color="#d653a5"/><stop offset="93.7%" stop-color="#da4a94"/><stop offset="94.3%" stop-color="#da4a94"/><stop offset="94.7%" stop-color="#de4385"/><stop offset="95.3%" stop-color="#de4385"/><stop offset="95.7%" stop-color="#e23c77"/><stop offset="96.3%" stop-color="#e23c77"/><stop offset="96.7%" stop-color="#e5356a"/><stop offset="97.3%" stop-color="#e5356a"/><stop offset="97.7%" stop-color="#e82f5f"/><stop offset="98.3%" stop-color="#e82f5f"/><stop offset="98.7%" stop-color="#ea2b56"/><stop offset="99.3%" stop-color="#ea2b56"/></linearGradient><linearGradient id="g15" gradientUnits="userSpaceOnUse" x1="0" y1="859.4" x2="0" y2="514.8"><stop offset="0%" stop-color="#ec264c"/><stop offset="2.3%" stop-color="#ed2549"/><stop offset="2.7%" stop-color="#ec264c"/><stop offset="3.3%" stop-color="#ec264c"/><stop offset="3.7%" stop-color="#eb2952"/><stop offset="4.3%" stop-color="#eb2952"/><stop offset="4.7%" stop-color="#e92d5a"/><stop offset="5.3%" stop-color="#e92d5a"/><stop offset="5.7%" stop-color="#e63365"/><stop offset="6.3%" stop-color="#e63365"/><stop offset="6.7%" stop-color="#e33972"/><stop offset="7.3%" stop-color="#e33972"/><stop offset="7.7%" stop-color="#df4182"/><stop offset="8.3%" stop-color="#df4182"/><stop offset="8.7%" stop-color="#da4a94"/><stop offset="9.3%" stop-color="#da4a94"/><stop offset="9.7%" stop-color="#d555a9"/><stop offset="10.3%" stop-color="#d555a9"/><stop offset="10.7%" stop-color="#d15ebc"/><stop offset="12.3%" stop-color="#d15ebc"/><stop offset="12.7%" stop-color="#d654a7"/><stop offset="13.3%" stop-color="#d654a7"/><stop offset="13.7%" stop-color="#db4992"/><stop offset="14.3%" stop-color="#db4992"/><stop offset="14.7%" stop-color="#e0407f"/><stop offset="15.3%" stop-color="#e0407f"/><stop offset="15.7%" stop-color="#e4376e"/><stop offset="16.3%" stop-color="#e4376e"/><stop offset="16.7%" stop-color="#e73060"/><stop offset="17.3%" stop-color="#e73060"/><stop offset="17.7%" stop-color="#ea2a54"/><stop offset="18.3%" stop-color="#ea2a54"/><stop offset="18.7%" stop-color="#ec264c"/><stop offset="19.3%" stop-color="#ec264c"/><stop offset="19.7%" stop-color="#ee2345"/><stop offset="22.3%" stop-color="#ef2143"/><stop offset="23.3%" stop-color="#ee2345"/><stop offset="23.7%" stop-color="#ec264c"/><stop offset="24.3%" stop-color="#ec264c"/><stop offset="24.7%" stop-color="#ea2a54"/><stop offset="25.3%" stop-color="#ea2a54"/><stop offset="25.7%" stop-color="#e73060"/><stop offset="26.3%" stop-color="#e73060"/><stop offset="26.7%" stop-color="#e4376e"/><stop offset="27.3%" stop-color="#e4376e"/><stop offset="27.7%" stop-color="#e0407f"/><stop offset="28.3%" stop-color="#e0407f"/><stop offset="28.7%" stop-color="#db4992"/><stop offset="29.3%" stop-color="#db4992"/><stop offset="29.7%" stop-color="#d654a7"/><stop offset="30.3%" stop-color="#d654a7"/><stop offset="30.7%" stop-color="#d15ebc"/><stop offset="32.3%" stop-color="#d15ebc"/><stop offset="32.7%" stop-color="#d456ac"/><stop offset="33.3%" stop-color="#d456ac"/><stop offset="33.7%" stop-color="#d94e9b"/><stop offset="34.3%" stop-color="#d94e9b"/><stop offset="34.7%" stop-color="#dc468c"/><stop offset="35.3%" stop-color="#dc468c"/><stop offset="35.7%" stop-color="#e0407f"/><stop offset="36.3%" stop-color="#e0407f"/><stop offset="36.7%" stop-color="#e23a74"/><stop offset="37.3%" stop-color="#e23a74"/><stop offset="37.7%" stop-color="#e5366b"/><stop offset="38.3%" stop-color="#e5366b"/><stop offset="38.7%" stop-color="#e63264"/><stop offset="39.3%" stop-color="#e63264"/><stop offset="39.7%" stop-color="#e7305f"/><stop offset="42.3%" stop-color="#e82f5d"/><stop offset="43.3%" stop-color="#e7305f"/><stop offset="43.7%" stop-color="#e63264"/><stop offset="44.3%" stop-color="#e63264"/><stop offset="44.7%" stop-color="#e5366b"/><stop offset="45.3%" stop-color="#e5366b"/><stop offset="45.7%" stop-color="#e23a74"/><stop offset="46.3%" stop-color="#e23a74"/><stop offset="46.7%" stop-color="#e0407f"/><stop offset="47.3%" stop-color="#e0407f"/><stop offset="47.7%" stop-color="#dc468c"/><stop offset="48.3%" stop-color="#dc468c"/><stop offset="48.7%" stop-color="#d94e9b"/><stop offset="49.3%" stop-color="#d94e9b"/><stop offset="49.7%" stop-color="#d456ac"/><stop offset="50.3%" stop-color="#d456ac"/><stop offset="50.7%" stop-color="#d15ebc"/><stop offset="52.3%" stop-color="#d15ebc"/><stop offset="52.7%" stop-color="#d456ac"/><stop offset="53.3%" stop-color="#d456ac"/><stop offset="53.7%" stop-color="#d94e9b"/><stop offset="54.3%" stop-color="#d94e9b"/><stop offset="54.7%" stop-color="#dc468c"/><stop offset="55.3%" stop-color="#dc468c"/><stop offset="55.7%" stop-color="#e0407f"/><stop offset="56.3%" stop-color="#e0407f"/><stop offset="56.7%" stop-color="#e23a74"/><stop offset="57.3%" stop-color="#e23a74"/><stop offset="57.7%" stop-color="#e5366b"/><stop offset="58.3%" stop-color="#e5366b"/><stop offset="58.7%" stop-color="#e63264"/><stop offset="59.3%" stop-color="#e63264"/><stop offset="59.7%" stop-color="#e7305f"/><stop offset="62.3%" stop-color="#e82f5d"/><stop offset="63.3%" stop-color="#e7305f"/><stop offset="63.7%" stop-color="#e63264"/><stop offset="64.3%" stop-color="#e63264"/><stop offset="64.7%" stop-color="#e5366b"/><stop offset="65.3%" stop-color="#e5366b"/><stop offset="65.7%" stop-color="#e23a74"/><stop offset="66.3%" stop-color="#e23a74"/><stop offset="66.7%" stop-color="#e0407f"/><stop offset="67.3%" stop-color="#e0407f"/><stop offset="67.7%" stop-color="#dc468c"/><stop offset="68.3%" stop-color="#dc468c"/><stop offset="68.7%" stop-color="#d94e9b"/><stop offset="69.3%" stop-color="#d94e9b"/><stop offset="69.7%" stop-color="#d456ac"/><stop offset="70.3%" stop-color="#d456ac"/><stop offset="70.7%" stop-color="#d15ebc"/><stop offset="72.3%" stop-color="#d15ebc"/><stop offset="72.7%" stop-color="#d456ac"/><stop offset="73.3%" stop-color="#d456ac"/><stop offset="73.7%" stop-color="#d94e9b"/><stop offset="74.3%" stop-color="#d94e9b"/><stop offset="74.7%" stop-color="#dc468c"/><stop offset="75.3%" stop-color="#dc468c"/><stop offset="75.7%" stop-color="#e0407f"/><stop offset="76.3%" stop-color="#e0407f"/><stop offset="76.7%" stop-color="#e23a74"/><stop offset="77.3%" stop-color="#e23a74"/><stop offset="77.7%" stop-color="#e5366b"/><stop offset="78.3%" stop-color="#e5366b"/><stop offset="78.7%" stop-color="#e63264"/><stop offset="79.3%" stop-color="#e63264"/><stop offset="79.7%" stop-color="#e7305f"/><stop offset="82.3%" stop-color="#e82f5d"/><stop offset="83.3%" stop-color="#e7305f"/><stop offset="83.7%" stop-color="#e63264"/><stop offset="84.3%" stop-color="#e63264"/><stop offset="84.7%" stop-color="#e5366b"/><stop offset="85.3%" stop-color="#e5366b"/><stop offset="85.7%" stop-color="#e23a74"/><stop offset="86.3%" stop-color="#e23a74"/><stop offset="86.7%" stop-color="#e0407f"/><stop offset="87.3%" stop-color="#e0407f"/><stop offset="87.7%" stop-color="#dc468c"/><stop offset="88.3%" stop-color="#dc468c"/><stop offset="88.7%" stop-color="#d94e9b"/><stop offset="89.3%" stop-color="#d94e9b"/><stop offset="89.7%" stop-color="#d456ac"/><stop offset="90.3%" stop-color="#d456ac"/><stop offset="90.7%" stop-color="#d15ebc"/><stop offset="92.3%" stop-color="#d15ebc"/><stop offset="92.7%" stop-color="#d555a9"/><stop offset="93.3%" stop-color="#d555a9"/><stop offset="93.7%" stop-color="#da4a94"/><stop offset="94.3%" stop-color="#da4a94"/><stop offset="94.7%" stop-color="#df4182"/><stop offset="95.3%" stop-color="#df4182"/><stop offset="95.7%" stop-color="#e33972"/><stop offset="96.3%" stop-color="#e33972"/><stop offset="96.7%" stop-color="#e63365"/><stop offset="97.3%" stop-color="#e63365"/><stop offset="97.7%" stop-color="#e92d5a"/><stop offset="98.3%" stop-color="#e92d5a"/><stop offset="98.7%" stop-color="#eb2952"/><stop offset="99.3%" stop-color="#eb2952"/></linearGradient><linearGradient id="g16" gradientUnits="userSpaceOnUse" x1="0" y1="859.4" x2="0" y2="514.8"><stop offset="0%" stop-color="#ed254a"/><stop offset="2.3%" stop-color="#ed2447"/><stop offset="2.7%" stop-color="#ed254a"/><stop offset="3.3%" stop-color="#ed254a"/><stop offset="3.7%" stop-color="#eb2850"/><stop offset="4.3%" stop-color="#eb2850"/><stop offset="4.7%" stop-color="#e92c58"/><stop offset="5.3%" stop-color="#e92c58"/><stop offset="5.7%" stop-color="#e73263"/><stop offset="6.3%" stop-color="#e73263"/><stop offset="6.7%" stop-color="#e33971"/><stop offset="7.3%" stop-color="#e33971"/><stop offset="7.7%" stop-color="#df4182"/><stop offset="8.3%" stop-color="#df4182"/><stop offset="8.7%" stop-color="#da4b95"/><stop offset="9.3%" stop-color="#da4b95"/><stop offset="9.7%" stop-color="#d457ad"/><stop offset="10.3%" stop-color="#d457ad"/><stop offset="10.7%" stop-color="#cf62c3"/><stop offset="12.3%" stop-color="#cf62c3"/><stop offset="12.7%" stop-color="#d556ac"/><stop offset="13.3%" stop-color="#d556ac"/><stop offset="13.7%" stop-color="#db4a93"/><stop offset="14.3%" stop-color="#db4a93"/><stop offset="14.7%" stop-color="#e0407f"/><stop offset="15.3%" stop-color="#e0407f"/><stop offset="15.7%" stop-color="#e4376e"/><stop offset="16.3%" stop-color="#e4376e"/><stop offset="16.7%" stop-color="#e7305f"/><stop offset="17.3%" stop-color="#e7305f"/><stop offset="17.7%" stop-color="#ea2a54"/><stop offset="18.3%" stop-color="#ea2a54"/><stop offset="18.7%" stop-color="#ec264b"/><stop offset="19.3%" stop-color="#ec264b"/><stop offset="19.7%" stop-color="#ee2345"/><stop offset="22.3%" stop-color="#ef2143"/><stop offset="23.3%" stop-color="#ee2345"/><stop offset="23.7%" stop-color="#ec264b"/><stop offset="24.3%" stop-color="#ec264b"/><stop offset="24.7%" stop-color="#ea2a54"/><stop offset="25.3%" stop-color="#ea2a54"/><stop offset="25.7%" stop-color="#e7305f"/><stop offset="26.3%" stop-color="#e7305f"/><stop offset="26.7%" stop-color="#e4376e"/><stop offset="27.3%" stop-color="#e4376e"/><stop offset="27.7%" stop-color="#e0407f"/><stop offset="28.3%" stop-color="#e0407f"/><stop offset="28.7%" stop-color="#db4a93"/><stop offset="29.3%" stop-color="#db4a93"/><stop offset="29.7%" stop-color="#d556ac"/><stop offset="30.3%" stop-color="#d556ac"/><stop offset="30.7%" stop-color="#cf62c3"/><stop offset="32.3%" stop-color="#cf62c3"/><stop offset="32.7%" stop-color="#d359b1"/><stop offset="33.3%" stop-color="#d359b1"/><stop offset="33.7%" stop-color="#d84f9d"/><stop offset="34.3%" stop-color="#d84f9d"/><stop offset="34.7%" stop-color="#dc468c"/><stop offset="35.3%" stop-color="#dc468c"/><stop offset="35.7%" stop-color="#e03f7e"/><stop offset="36.3%" stop-color="#e03f7e"/><stop offset="36.7%" stop-color="#e33972"/><stop offset="37.3%" stop-color="#e33972"/><stop offset="37.7%" stop-color="#e53569"/><stop offset="38.3%" stop-color="#e53569"/><stop offset="38.7%" stop-color="#e73162"/><stop offset="39.3%" stop-color="#e73162"/><stop offset="39.7%" stop-color="#e82f5d"/><stop offset="42.3%" stop-color="#e82e5b"/><stop offset="43.3%" stop-color="#e82f5d"/><stop offset="43.7%" stop-color="#e73162"/><stop offset="44.3%" stop-color="#e73162"/><stop offset="44.7%" stop-color="#e53569"/><stop offset="45.3%" stop-color="#e53569"/><stop offset="45.7%" stop-color="#e33972"/><stop offset="46.3%" stop-color="#e33972"/><stop offset="46.7%" stop-color="#e03f7e"/><stop offset="47.3%" stop-color="#e03f7e"/><stop offset="47.7%" stop-color="#dc468c"/><stop offset="48.3%" stop-color="#dc468c"/><stop offset="48.7%" stop-color="#d84f9d"/><stop offset="49.3%" stop-color="#d84f9d"/><stop offset="49.7%" stop-color="#d359b1"/><stop offset="50.3%" stop-color="#d359b1"/><stop offset="50.7%" stop-color="#cf62c3"/><stop offset="52.3%" stop-color="#cf62c3"/><stop offset="52.7%" stop-color="#d359b1"/><stop offset="53.3%" stop-color="#d359b1"/><stop offset="53.7%" stop-color="#d84f9d"/><stop offset="54.3%" stop-color="#d84f9d"/><stop offset="54.7%" stop-color="#dc468c"/><stop offset="55.3%" stop-color="#dc468c"/><stop offset="55.7%" stop-color="#e03f7e"/><stop offset="56.3%" stop-color="#e03f7e"/><stop offset="56.7%" stop-color="#e33972"/><stop offset="57.3%" stop-color="#e33972"/><stop offset="57.7%" stop-color="#e53569"/><stop offset="58.3%" stop-color="#e53569"/><stop offset="58.7%" stop-color="#e73162"/><stop offset="59.3%" stop-color="#e73162"/><stop offset="59.7%" stop-color="#e82f5d"/><stop offset="62.3%" stop-color="#e82e5b"/><stop offset="63.3%" stop-color="#e82f5d"/><stop offset="63.7%" stop-color="#e73162"/><stop offset="64.3%" stop-color="#e73162"/><stop offset="64.7%" stop-color="#e53569"/><stop offset="65.3%" stop-color="#e53569"/><stop offset="65.7%" stop-color="#e33972"/><stop offset="66.3%" stop-color="#e33972"/><stop offset="66.7%" stop-color="#e03f7e"/><stop offset="67.3%" stop-color="#e03f7e"/><stop offset="67.7%" stop-color="#dc468c"/><stop offset="68.3%" stop-color="#dc468c"/><stop offset="68.7%" stop-color="#d84f9d"/><stop offset="69.3%" stop-color="#d84f9d"/><stop offset="69.7%" stop-color="#d359b1"/><stop offset="70.3%" stop-color="#d359b1"/><stop offset="70.7%" stop-color="#cf62c3"/><stop offset="72.3%" stop-color="#cf62c3"/><stop offset="72.7%" stop-color="#d359b1"/><stop offset="73.3%" stop-color="#d359b1"/><stop offset="73.7%" stop-color="#d84f9d"/><stop offset="74.3%" stop-color="#d84f9d"/><stop offset="74.7%" stop-color="#dc468c"/><stop offset="75.3%" stop-color="#dc468c"/><stop offset="75.7%" stop-color="#e03f7e"/><stop offset="76.3%" stop-color="#e03f7e"/><stop offset="76.7%" stop-color="#e33972"/><stop offset="77.3%" stop-color="#e33972"/><stop offset="77.7%" stop-color="#e53569"/><stop offset="78.3%" stop-color="#e53569"/><stop offset="78.7%" stop-color="#e73162"/><stop offset="79.3%" stop-color="#e73162"/><stop offset="79.7%" stop-color="#e82f5d"/><stop offset="82.3%" stop-color="#e82e5b"/><stop offset="83.3%" stop-color="#e82f5d"/><stop offset="83.7%" stop-color="#e73162"/><stop offset="84.3%" stop-color="#e73162"/><stop offset="84.7%" stop-color="#e53569"/><stop offset="85.3%" stop-color="#e53569"/><stop offset="85.7%" stop-color="#e33972"/><stop offset="86.3%" stop-color="#e33972"/><stop offset="86.7%" stop-color="#e03f7e"/><stop offset="87.3%" stop-color="#e03f7e"/><stop offset="87.7%" stop-color="#dc468c"/><stop offset="88.3%" stop-color="#dc468c"/><stop offset="88.7%" stop-color="#d84f9d"/><stop offset="89.3%" stop-color="#d84f9d"/><stop offset="89.7%" stop-color="#d359b1"/><stop offset="90.3%" stop-color="#d359b1"/><stop offset="90.7%" stop-color="#cf62c3"/><stop offset="92.3%" stop-color="#cf62c3"/><stop offset="92.7%" stop-color="#d457ad"/><stop offset="93.3%" stop-color="#d457ad"/><stop offset="93.7%" stop-color="#da4b95"/><stop offset="94.3%" stop-color="#da4b95"/><stop offset="94.7%" stop-color="#df4182"/><stop offset="95.3%" stop-color="#df4182"/><stop offset="95.7%" stop-color="#e33971"/><stop offset="96.3%" stop-color="#e33971"/><stop offset="96.7%" stop-color="#e73263"/><stop offset="97.3%" stop-color="#e73263"/><stop offset="97.7%" stop-color="#e92c58"/><stop offset="98.3%" stop-color="#e92c58"/><stop offset="98.7%" stop-color="#eb2850"/><stop offset="99.3%" stop-color="#eb2850"/></linearGradient><linearGradient id="g17" gradientUnits="userSpaceOnUse" x1="0" y1="859.4" x2="0" y2="514.8"><stop offset="0%" stop-color="#ed2448"/><stop offset="2.3%" stop-color="#ee2346"/><stop offset="3.3%" stop-color="#ed2448"/><stop offset="3.7%" stop-color="#ec274d"/><stop offset="4.3%" stop-color="#ec274d"/><stop offset="4.7%" stop-color="#ea2b55"/><stop offset="5.3%" stop-color="#ea2b55"/><stop offset="5.7%" stop-color="#e73060"/><stop offset="6.3%" stop-color="#e73060"/><stop offset="6.7%" stop-color="#e4386f"/><stop offset="7.3%" stop-color="#e4386f"/><stop offset="7.7%" stop-color="#df4181"/><stop offset="8.3%" stop-color="#df4181"/><stop offset="8.7%" stop-color="#da4b96"/><stop offset="9.3%" stop-color="#da4b96"/><stop offset="9.7%" stop-color="#d359b1"/><stop offset="10.3%" stop-color="#d359b1"/><stop offset="10.7%" stop-color="#cd66cb"/><stop offset="12.3%" stop-color="#cd66cb"/><stop offset="12.7%" stop-color="#d359b0"/><stop offset="13.3%" stop-color="#d359b0"/><stop offset="13.7%" stop-color="#da4b95"/><stop offset="14.3%" stop-color="#da4b95"/><stop offset="14.7%" stop-color="#e0407f"/><stop offset="15.3%" stop-color="#e0407f"/><stop offset="15.7%" stop-color="#e4376d"/><stop offset="16.3%" stop-color="#e4376d"/><stop offset="16.7%" stop-color="#e82f5e"/><stop offset="17.3%" stop-color="#e82f5e"/><stop offset="17.7%" stop-color="#eb2953"/><stop offset="18.3%" stop-color="#eb2953"/><stop offset="18.7%" stop-color="#ed254b"/><stop offset="19.3%" stop-color="#ed254b"/><stop offset="19.7%" stop-color="#ee2345"/><stop offset="20.3%" stop-color="#ee2345"/><stop offset="20.7%" stop-color="#ef2142"/><stop offset="22.3%" stop-color="#ef2142"/><stop offset="22.7%" stop-color="#ee2345"/><stop offset="23.3%" stop-color="#ee2345"/><stop offset="23.7%" stop-color="#ed254b"/><stop offset="24.3%" stop-color="#ed254b"/><stop offset="24.7%" stop-color="#eb2953"/><stop offset="25.3%" stop-color="#eb2953"/><stop offset="25.7%" stop-color="#e82f5e"/><stop offset="26.3%" stop-color="#e82f5e"/><stop offset="26.7%" stop-color="#e4376d"/><stop offset="27.3%" stop-color="#e4376d"/><stop offset="27.7%" stop-color="#e0407f"/><stop offset="28.3%" stop-color="#e0407f"/><stop offset="28.7%" stop-color="#da4b95"/><stop offset="29.3%" stop-color="#da4b95"/><stop offset="29.7%" stop-color="#d359b0"/><stop offset="30.3%" stop-color="#d359b0"/><stop offset="30.7%" stop-color="#cd66cb"/><stop offset="32.3%" stop-color="#cd66cb"/><stop offset="32.7%" stop-color="#d25bb5"/><stop offset="33.3%" stop-color="#d25bb5"/><stop offset="33.7%" stop-color="#d84f9e"/><stop offset="34.3%" stop-color="#d84f9e"/><stop offset="34.7%" stop-color="#dc468c"/><stop offset="35.3%" stop-color="#dc468c"/><stop offset="35.7%" stop-color="#e03f7d"/><stop offset="36.3%" stop-color="#e03f7d"/><stop offset="36.7%" stop-color="#e33870"/><stop offset="37.3%" stop-color="#e33870"/><stop offset="37.7%" stop-color="#e63467"/><stop offset="38.3%" stop-color="#e63467"/><stop offset="38.7%" stop-color="#e73060"/><stop offset="39.3%" stop-color="#e73060"/><stop offset="39.7%" stop-color="#e82e5b"/><stop offset="42.3%" stop-color="#e92d59"/><stop offset="43.3%" stop-color="#e82e5b"/><stop offset="43.7%" stop-color="#e73060"/><stop offset="44.3%" stop-color="#e73060"/><stop offset="44.7%" stop-color="#e63467"/><stop offset="45.3%" stop-color="#e63467"/><stop offset="45.7%" stop-color="#e33870"/><stop offset="46.3%" stop-color="#e33870"/><stop offset="46.7%" stop-color="#e03f7d"/><stop offset="47.3%" stop-color="#e03f7d"/><stop offset="47.7%" stop-color="#dc468c"/><stop offset="48.3%" stop-color="#dc468c"/><stop offset="48.7%" stop-color="#d84f9e"/><stop offset="49.3%" stop-color="#d84f9e"/><stop offset="49.7%" stop-color="#d25bb5"/><stop offset="50.3%" stop-color="#d25bb5"/><stop offset="50.7%" stop-color="#cd66cb"/><stop offset="52.3%" stop-color="#cd66cb"/><stop offset="52.7%" stop-color="#d25bb5"/><stop offset="53.3%" stop-color="#d25bb5"/><stop offset="53.7%" stop-color="#d84f9e"/><stop offset="54.3%" stop-color="#d84f9e"/><stop offset="54.7%" stop-color="#dc468c"/><stop offset="55.3%" stop-color="#dc468c"/><stop offset="55.7%" stop-color="#e03f7d"/><stop offset="56.3%" stop-color="#e03f7d"/><stop offset="56.7%" stop-color="#e33870"/><stop offset="57.3%" stop-color="#e33870"/><stop offset="57.7%" stop-color="#e63467"/><stop offset="58.3%" stop-color="#e63467"/><stop offset="58.7%" stop-color="#e73060"/><stop offset="59.3%" stop-color="#e73060"/><stop offset="59.7%" stop-color="#e82e5b"/><stop offset="62.3%" stop-color="#e92d59"/><stop offset="63.3%" stop-color="#e82e5b"/><stop offset="63.7%" stop-color="#e73060"/><stop offset="64.3%" stop-color="#e73060"/><stop offset="64.7%" stop-color="#e63467"/><stop offset="65.3%" stop-color="#e63467"/><stop offset="65.7%" stop-color="#e33870"/><stop offset="66.3%" stop-color="#e33870"/><stop offset="66.7%" stop-color="#e03f7d"/><stop offset="67.3%" stop-color="#e03f7d"/><stop offset="67.7%" stop-color="#dc468c"/><stop offset="68.3%" stop-color="#dc468c"/><stop offset="68.7%" stop-color="#d84f9e"/><stop offset="69.3%" stop-color="#d84f9e"/><stop offset="69.7%" stop-color="#d25bb5"/><stop offset="70.3%" stop-color="#d25bb5"/><stop offset="70.7%" stop-color="#cd66cb"/><stop offset="72.3%" stop-color="#cd66cb"/><stop offset="72.7%" stop-color="#d25bb5"/><stop offset="73.3%" stop-color="#d25bb5"/><stop offset="73.7%" stop-color="#d84f9e"/><stop offset="74.3%" stop-color="#d84f9e"/><stop offset="74.7%" stop-color="#dc468c"/><stop offset="75.3%" stop-color="#dc468c"/><stop offset="75.7%" stop-color="#e03f7d"/><stop offset="76.3%" stop-color="#e03f7d"/><stop offset="76.7%" stop-color="#e33870"/><stop offset="77.3%" stop-color="#e33870"/><stop offset="77.7%" stop-color="#e63467"/><stop offset="78.3%" stop-color="#e63467"/><stop offset="78.7%" stop-color="#e73060"/><stop offset="79.3%" stop-color="#e73060"/><stop offset="79.7%" stop-color="#e82e5b"/><stop offset="82.3%" stop-color="#e92d59"/><stop offset="83.3%" stop-color="#e82e5b"/><stop offset="83.7%" stop-color="#e73060"/><stop offset="84.3%" stop-color="#e73060"/><stop offset="84.7%" stop-color="#e63467"/><stop offset="85.3%" stop-color="#e63467"/><stop offset="85.7%" stop-color="#e33870"/><stop offset="86.3%" stop-color="#e33870"/><stop offset="86.7%" stop-color="#e03f7d"/><stop offset="87.3%" stop-color="#e03f7d"/><stop offset="87.7%" stop-color="#dc468c"/><stop offset="88.3%" stop-color="#dc468c"/><stop offset="88.7%" stop-color="#d84f9e"/><stop offset="89.3%" stop-color="#d84f9e"/><stop offset="89.7%" stop-color="#d25bb5"/><stop offset="90.3%" stop-color="#d25bb5"/><stop offset="90.7%" stop-color="#cd66cb"/><stop offset="92.3%" stop-color="#cd66cb"/><stop offset="92.7%" stop-color="#d359b1"/><stop offset="93.3%" stop-color="#d359b1"/><stop offset="93.7%" stop-color="#da4b96"/><stop offset="94.3%" stop-color="#da4b96"/><stop offset="94.7%" stop-color="#df4181"/><stop offset="95.3%" stop-color="#df4181"/><stop offset="95.7%" stop-color="#e4386f"/><stop offset="96.3%" stop-color="#e4386f"/><stop offset="96.7%" stop-color="#e73060"/><stop offset="97.3%" stop-color="#e73060"/><stop offset="97.7%" stop-color="#ea2b55"/><stop offset="98.3%" stop-color="#ea2b55"/><stop offset="98.7%" stop-color="#ec274d"/><stop offset="99.3%" stop-color="#ec274d"/></linearGradient><linearGradient id="g18" gradientUnits="userSpaceOnUse" x1="0" y1="859.4" x2="0" y2="514.8"><stop offset="0%" stop-color="#ed2448"/><stop offset="2.3%" stop-color="#ee2346"/><stop offset="3.3%" stop-color="#ed2448"/><stop offset="3.7%" stop-color="#ec274e"/><stop offset="4.3%" stop-color="#ec274e"/><stop offset="4.7%" stop-color="#ea2b56"/><stop offset="5.3%" stop-color="#ea2b56"/><stop offset="5.7%" stop-color="#e73162"/><stop offset="6.3%" stop-color="#e73162"/><stop offset="6.7%" stop-color="#e33971"/><stop offset="7.3%" stop-color="#e33971"/><stop offset="7.7%" stop-color="#de4385"/><stop offset="8.3%" stop-color="#de4385"/><stop offset="8.7%" stop-color="#d84f9e"/><stop offset="9.3%" stop-color="#d84f9e"/><stop offset="9.7%" stop-color="#d05fbd"/><stop offset="10.3%" stop-color="#d05fbd"/><stop offset="10.7%" stop-color="#c96edb"/><stop offset="12.3%" stop-color="#c96edb"/><stop offset="12.7%" stop-color="#d15ebc"/><stop offset="13.3%" stop-color="#d15ebc"/><stop offset="13.7%" stop-color="#d84e9c"/><stop offset="14.3%" stop-color="#d84e9c"/><stop offset="14.7%" stop-color="#df4283"/><stop offset="15.3%" stop-color="#df4283"/><stop offset="15.7%" stop-color="#e4376e"/><stop offset="16.3%" stop-color="#e4376e"/><stop offset="16.7%" stop-color="#e82f5e"/><stop offset="17.3%" stop-color="#e82f5e"/><stop offset="17.7%" stop-color="#eb2952"/><stop offset="18.3%" stop-color="#eb2952"/><stop offset="18.7%" stop-color="#ed2549"/><stop offset="19.3%" stop-color="#ed2549"/><stop offset="19.7%" stop-color="#ee2243"/><stop offset="22.3%" stop-color="#ef2141"/><stop offset="23.3%" stop-color="#ee2243"/><stop offset="23.7%" stop-color="#ed2549"/><stop offset="24.3%" stop-color="#ed2549"/><stop offset="24.7%" stop-color="#eb2952"/><stop offset="25.3%" stop-color="#eb2952"/><stop offset="25.7%" stop-color="#e82f5e"/><stop offset="26.3%" stop-color="#e82f5e"/><stop offset="26.7%" stop-color="#e4376e"/><stop offset="27.3%" stop-color="#e4376e"/><stop offset="27.7%" stop-color="#df4283"/><stop offset="28.3%" stop-color="#df4283"/><stop offset="28.7%" stop-color="#d84e9c"/><stop offset="29.3%" stop-color="#d84e9c"/><stop offset="29.7%" stop-color="#d15ebc"/><stop offset="30.3%" stop-color="#d15ebc"/><stop offset="30.7%" stop-color="#c96edb"/><stop offset="32.3%" stop-color="#c96edb"/><stop offset="32.7%" stop-color="#cf61c0"/><stop offset="33.3%" stop-color="#cf61c0"/><stop offset="33.7%" stop-color="#d653a5"/><stop offset="34.3%" stop-color="#d653a5"/><stop offset="34.7%" stop-color="#dc488f"/><stop offset="35.3%" stop-color="#dc488f"/><stop offset="35.7%" stop-color="#e03f7d"/><stop offset="36.3%" stop-color="#e03f7d"/><stop offset="36.7%" stop-color="#e3386f"/><stop offset="37.3%" stop-color="#e3386f"/><stop offset="37.7%" stop-color="#e63365"/><stop offset="38.3%" stop-color="#e63365"/><stop offset="38.7%" stop-color="#e82f5d"/><stop offset="39.3%" stop-color="#e82f5d"/><stop offset="39.7%" stop-color="#e92c59"/><stop offset="40.3%" stop-color="#e92c59"/><stop offset="40.7%" stop-color="#ea2b56"/><stop offset="42.3%" stop-color="#ea2b56"/><stop offset="42.7%" stop-color="#e92c59"/><stop offset="43.3%" stop-color="#e92c59"/><stop offset="43.7%" stop-color="#e82f5d"/><stop offset="44.3%" stop-color="#e82f5d"/><stop offset="44.7%" stop-color="#e63365"/><stop offset="45.3%" stop-color="#e63365"/><stop offset="45.7%" stop-color="#e3386f"/><stop offset="46.3%" stop-color="#e3386f"/><stop offset="46.7%" stop-color="#e03f7d"/><stop offset="47.3%" stop-color="#e03f7d"/><stop offset="47.7%" stop-color="#dc488f"/><stop offset="48.3%" stop-color="#dc488f"/><stop offset="48.7%" stop-color="#d653a5"/><stop offset="49.3%" stop-color="#d653a5"/><stop offset="49.7%" stop-color="#cf61c0"/><stop offset="50.3%" stop-color="#cf61c0"/><stop offset="50.7%" stop-color="#c96edb"/><stop offset="52.3%" stop-color="#c96edb"/><stop offset="52.7%" stop-color="#cf61c0"/><stop offset="53.3%" stop-color="#cf61c0"/><stop offset="53.7%" stop-color="#d653a5"/><stop offset="54.3%" stop-color="#d653a5"/><stop offset="54.7%" stop-color="#dc488f"/><stop offset="55.3%" stop-color="#dc488f"/><stop offset="55.7%" stop-color="#e03f7d"/><stop offset="56.3%" stop-color="#e03f7d"/><stop offset="56.7%" stop-color="#e3386f"/><stop offset="57.3%" stop-color="#e3386f"/><stop offset="57.7%" stop-color="#e63365"/><stop offset="58.3%" stop-color="#e63365"/><stop offset="58.7%" stop-color="#e82f5d"/><stop offset="59.3%" stop-color="#e82f5d"/><stop offset="59.7%" stop-color="#e92c59"/><stop offset="60.3%" stop-color="#e92c59"/><stop offset="60.7%" stop-color="#ea2b56"/><stop offset="62.3%" stop-color="#ea2b56"/><stop offset="62.7%" stop-color="#e92c59"/><stop offset="63.3%" stop-color="#e92c59"/><stop offset="63.7%" stop-color="#e82f5d"/><stop offset="64.3%" stop-color="#e82f5d"/><stop offset="64.7%" stop-color="#e63365"/><stop offset="65.3%" stop-color="#e63365"/><stop offset="65.7%" stop-color="#e3386f"/><stop offset="66.3%" stop-color="#e3386f"/><stop offset="66.7%" stop-color="#e03f7d"/><stop offset="67.3%" stop-color="#e03f7d"/><stop offset="67.7%" stop-color="#dc488f"/><stop offset="68.3%" stop-color="#dc488f"/><stop offset="68.7%" stop-color="#d653a5"/><stop offset="69.3%" stop-color="#d653a5"/><stop offset="69.7%" stop-color="#cf61c0"/><stop offset="70.3%" stop-color="#cf61c0"/><stop offset="70.7%" stop-color="#c96edb"/><stop offset="72.3%" stop-color="#c96edb"/><stop offset="72.7%" stop-color="#cf61c0"/><stop offset="73.3%" stop-color="#cf61c0"/><stop offset="73.7%" stop-color="#d653a5"/><stop offset="74.3%" stop-color="#d653a5"/><stop offset="74.7%" stop-color="#dc488f"/><stop offset="75.3%" stop-color="#dc488f"/><stop offset="75.7%" stop-color="#e03f7d"/><stop offset="76.3%" stop-color="#e03f7d"/><stop offset="76.7%" stop-color="#e3386f"/><stop offset="77.3%" stop-color="#e3386f"/><stop offset="77.7%" stop-color="#e63365"/><stop offset="78.3%" stop-color="#e63365"/><stop offset="78.7%" stop-color="#e82f5d"/><stop offset="79.3%" stop-color="#e82f5d"/><stop offset="79.7%" stop-color="#e92c59"/><stop offset="80.3%" stop-color="#e92c59"/><stop offset="80.7%" stop-color="#ea2b56"/><stop offset="82.3%" stop-color="#ea2b56"/><stop offset="82.7%" stop-color="#e92c59"/><stop offset="83.3%" stop-color="#e92c59"/><stop offset="83.7%" stop-color="#e82f5d"/><stop offset="84.3%" stop-color="#e82f5d"/><stop offset="84.7%" stop-color="#e63365"/><stop offset="85.3%" stop-color="#e63365"/><stop offset="85.7%" stop-color="#e3386f"/><stop offset="86.3%" stop-color="#e3386f"/><stop offset="86.7%" stop-color="#e03f7d"/><stop offset="87.3%" stop-color="#e03f7d"/><stop offset="87.7%" stop-color="#dc488f"/><stop offset="88.3%" stop-color="#dc488f"/><stop offset="88.7%" stop-color="#d653a5"/><stop offset="89.3%" stop-color="#d653a5"/><stop offset="89.7%" stop-color="#cf61c0"/><stop offset="90.3%" stop-color="#cf61c0"/><stop offset="90.7%" stop-color="#c96edb"/><stop offset="92.3%" stop-color="#c96edb"/><stop offset="92.7%" stop-color="#d05fbd"/><stop offset="93.3%" stop-color="#d05fbd"/><stop offset="93.7%" stop-color="#d84f9e"/><stop offset="94.3%" stop-color="#d84f9e"/><stop offset="94.7%" stop-color="#de4385"/><stop offset="95.3%" stop-color="#de4385"/><stop offset="95.7%" stop-color="#e33971"/><stop offset="96.3%" stop-color="#e33971"/><stop offset="96.7%" stop-color="#e73162"/><stop offset="97.3%" stop-color="#e73162"/><stop offset="97.7%" stop-color="#ea2b56"/><stop offset="98.3%" stop-color="#ea2b56"/><stop offset="98.7%" stop-color="#ec274e"/><stop offset="99.3%" stop-color="#ec274e"/></linearGradient><linearGradient id="g19" gradientUnits="userSpaceOnUse" x1="0" y1="859.4" x2="0" y2="514.8"><stop offset="0%" stop-color="#ed254a"/><stop offset="2.3%" stop-color="#ed2447"/><stop offset="2.7%" stop-color="#ed254a"/><stop offset="3.3%" stop-color="#ed254a"/><stop offset="3.7%" stop-color="#eb284f"/><stop offset="4.3%" stop-color="#eb284f"/><stop offset="4.7%" stop-color="#e92c58"/><stop offset="5.3%" stop-color="#e92c58"/><stop offset="5.7%" stop-color="#e63265"/><stop offset="6.3%" stop-color="#e63265"/><stop offset="6.7%" stop-color="#e23b75"/><stop offset="7.3%" stop-color="#e23b75"/><stop offset="7.7%" stop-color="#dd468b"/><stop offset="8.3%" stop-color="#dd468b"/><stop offset="8.7%" stop-color="#d653a5"/><stop offset="9.3%" stop-color="#d653a5"/><stop offset="9.7%" stop-color="#ce64c7"/><stop offset="10.3%" stop-color="#ce64c7"/><stop offset="10.7%" stop-color="#c675e8"/><stop offset="12.3%" stop-color="#c675e8"/><stop offset="12.7%" stop-color="#ce63c6"/><stop offset="13.3%" stop-color="#ce63c6"/><stop offset="13.7%" stop-color="#d751a2"/><stop offset="14.3%" stop-color="#d751a2"/><stop offset="14.7%" stop-color="#de4386"/><stop offset="15.3%" stop-color="#de4386"/><stop offset="15.7%" stop-color="#e33870"/><stop offset="16.3%" stop-color="#e33870"/><stop offset="16.7%" stop-color="#e8305f"/><stop offset="17.3%" stop-color="#e8305f"/><stop offset="17.7%" stop-color="#eb2952"/><stop offset="18.3%" stop-color="#eb2952"/><stop offset="18.7%" stop-color="#ed2549"/><stop offset="19.3%" stop-color="#ed2549"/><stop offset="19.7%" stop-color="#ef2243"/><stop offset="20.3%" stop-color="#ef2243"/><stop offset="20.7%" stop-color="#ef2040"/><stop offset="22.3%" stop-color="#ef2040"/><stop offset="22.7%" stop-color="#ef2243"/><stop offset="23.3%" stop-color="#ef2243"/><stop offset="23.7%" stop-color="#ed2549"/><stop offset="24.3%" stop-color="#ed2549"/><stop offset="24.7%" stop-color="#eb2952"/><stop offset="25.3%" stop-color="#eb2952"/><stop offset="25.7%" stop-color="#e8305f"/><stop offset="26.3%" stop-color="#e8305f"/><stop offset="26.7%" stop-color="#e33870"/><stop offset="27.3%" stop-color="#e33870"/><stop offset="27.7%" stop-color="#de4386"/><stop offset="28.3%" stop-color="#de4386"/><stop offset="28.7%" stop-color="#d751a2"/><stop offset="29.3%" stop-color="#d751a2"/><stop offset="29.7%" stop-color="#ce63c6"/><stop offset="30.3%" stop-color="#ce63c6"/><stop offset="30.7%" stop-color="#c675e8"/><stop offset="32.3%" stop-color="#c675e9"/><stop offset="32.7%" stop-color="#cd65ca"/><stop offset="33.3%" stop-color="#cd65ca"/><stop offset="33.7%" stop-color="#d556ab"/><stop offset="34.3%" stop-color="#d556ab"/><stop offset="34.7%" stop-color="#db4a93"/><stop offset="35.3%" stop-color="#db4a93"/><stop offset="35.7%" stop-color="#e0407f"/><stop offset="36.3%" stop-color="#e0407f"/><stop offset="36.7%" stop-color="#e33870"/><stop offset="37.3%" stop-color="#e33870"/><stop offset="37.7%" stop-color="#e63264"/><stop offset="38.3%" stop-color="#e63264"/><stop offset="38.7%" stop-color="#e82e5c"/><stop offset="39.3%" stop-color="#e82e5c"/><stop offset="39.7%" stop-color="#e92c57"/><stop offset="42.3%" stop-color="#ea2b55"/><stop offset="43.3%" stop-color="#e92c57"/><stop offset="43.7%" stop-color="#e82e5c"/><stop offset="44.3%" stop-color="#e82e5c"/><stop offset="44.7%" stop-color="#e63264"/><stop offset="45.3%" stop-color="#e63264"/><stop offset="45.7%" stop-color="#e33870"/><stop offset="46.3%" stop-color="#e33870"/><stop offset="46.7%" stop-color="#e0407f"/><stop offset="47.3%" stop-color="#e0407f"/><stop offset="47.7%" stop-color="#db4a93"/><stop offset="48.3%" stop-color="#db4a93"/><stop offset="48.7%" stop-color="#d556ab"/><stop offset="49.3%" stop-color="#d556ab"/><stop offset="49.7%" stop-color="#cd65ca"/><stop offset="50.3%" stop-color="#cd65ca"/><stop offset="50.7%" stop-color="#c675e9"/><stop offset="52.3%" stop-color="#c675e9"/><stop offset="52.7%" stop-color="#cd65ca"/><stop offset="53.3%" stop-color="#cd65ca"/><stop offset="53.7%" stop-color="#d556ab"/><stop offset="54.3%" stop-color="#d556ab"/><stop offset="54.7%" stop-color="#db4a93"/><stop offset="55.3%" stop-color="#db4a93"/><stop offset="55.7%" stop-color="#e0407f"/><stop offset="56.3%" stop-color="#e0407f"/><stop offset="56.7%" stop-color="#e33870"/><stop offset="57.3%" stop-color="#e33870"/><stop offset="57.7%" stop-color="#e63264"/><stop offset="58.3%" stop-color="#e63264"/><stop offset="58.7%" stop-color="#e82e5c"/><stop offset="59.3%" stop-color="#e82e5c"/><stop offset="59.7%" stop-color="#e92c57"/><stop offset="62.3%" stop-color="#ea2b55"/><stop offset="63.3%" stop-color="#e92c57"/><stop offset="63.7%" stop-color="#e82e5c"/><stop offset="64.3%" stop-color="#e82e5c"/><stop offset="64.7%" stop-color="#e63264"/><stop offset="65.3%" stop-color="#e63264"/><stop offset="65.7%" stop-color="#e33870"/><stop offset="66.3%" stop-color="#e33870"/><stop offset="66.7%" stop-color="#e0407f"/><stop offset="67.3%" stop-color="#e0407f"/><stop offset="67.7%" stop-color="#db4a93"/><stop offset="68.3%" stop-color="#db4a93"/><stop offset="68.7%" stop-color="#d556ab"/><stop offset="69.3%" stop-color="#d556ab"/><stop offset="69.7%" stop-color="#cd65ca"/><stop offset="70.3%" stop-color="#cd65ca"/><stop offset="70.7%" stop-color="#c675e9"/><stop offset="72.3%" stop-color="#c675e9"/><stop offset="72.7%" stop-color="#cd65ca"/><stop offset="73.3%" stop-color="#cd65ca"/><stop offset="73.7%" stop-color="#d556ab"/><stop offset="74.3%" stop-color="#d556ab"/><stop offset="74.7%" stop-color="#db4a93"/><stop offset="75.3%" stop-color="#db4a93"/><stop offset="75.7%" stop-color="#e0407f"/><stop offset="76.3%" stop-color="#e0407f"/><stop offset="76.7%" stop-color="#e33870"/><stop offset="77.3%" stop-color="#e33870"/><stop offset="77.7%" stop-color="#e63264"/><stop offset="78.3%" stop-color="#e63264"/><stop offset="78.7%" stop-color="#e82e5c"/><stop offset="79.3%" stop-color="#e82e5c"/><stop offset="79.7%" stop-color="#e92c57"/><stop offset="82.3%" stop-color="#ea2b55"/><stop offset="83.3%" stop-color="#e92c57"/><stop offset="83.7%" stop-color="#e82e5c"/><stop offset="84.3%" stop-color="#e82e5c"/><stop offset="84.7%" stop-color="#e63264"/><stop offset="85.3%" stop-color="#e63264"/><stop offset="85.7%" stop-color="#e33870"/><stop offset="86.3%" stop-color="#e33870"/><stop offset="86.7%" stop-color="#e0407f"/><stop offset="87.3%" stop-color="#e0407f"/><stop offset="87.7%" stop-color="#db4a93"/><stop offset="88.3%" stop-color="#db4a93"/><stop offset="88.7%" stop-color="#d556ab"/><stop offset="89.3%" stop-color="#d556ab"/><stop offset="89.7%" stop-color="#cd65ca"/><stop offset="90.3%" stop-color="#cd65ca"/><stop offset="90.7%" stop-color="#c675e9"/><stop offset="92.3%" stop-color="#c675e8"/><stop offset="92.7%" stop-color="#ce64c7"/><stop offset="93.3%" stop-color="#ce64c7"/><stop offset="93.7%" stop-color="#d653a5"/><stop offset="94.3%" stop-color="#d653a5"/><stop offset="94.7%" stop-color="#dd468b"/><stop offset="95.3%" stop-color="#dd468b"/><stop offset="95.7%" stop-color="#e23b75"/><stop offset="96.3%" stop-color="#e23b75"/><stop offset="96.7%" stop-color="#e63265"/><stop offset="97.3%" stop-color="#e63265"/><stop offset="97.7%" stop-color="#e92c58"/><stop offset="98.3%" stop-color="#e92c58"/><stop offset="98.7%" stop-color="#eb284f"/><stop offset="99.3%" stop-color="#eb284f"/></linearGradient><linearGradient id="g20" gradientUnits="userSpaceOnUse" x1="0" y1="859.4" x2="0" y2="514.8"><stop offset="0%" stop-color="#ec264c"/><stop offset="2.3%" stop-color="#ed2549"/><stop offset="2.7%" stop-color="#ec264c"/><stop offset="3.3%" stop-color="#ec264c"/><stop offset="3.7%" stop-color="#eb2952"/><stop offset="4.3%" stop-color="#eb2952"/><stop offset="4.7%" stop-color="#e92e5b"/><stop offset="5.3%" stop-color="#e92e5b"/><stop offset="5.7%" stop-color="#e53468"/><stop offset="6.3%" stop-color="#e53468"/><stop offset="6.7%" stop-color="#e13d7a"/><stop offset="7.3%" stop-color="#e13d7a"/><stop offset="7.7%" stop-color="#db4991"/><stop offset="8.3%" stop-color="#db4991"/><stop offset="8.7%" stop-color="#d458ae"/><stop offset="9.3%" stop-color="#d458ae"/><stop offset="9.7%" stop-color="#cb6ad4"/><stop offset="10.3%" stop-color="#cb6ad4"/><stop offset="10.7%" stop-color="#c17df9"/><stop offset="12.3%" stop-color="#c17df9"/><stop offset="12.7%" stop-color="#cb69d2"/><stop offset="13.3%" stop-color="#cb69d2"/><stop offset="13.7%" stop-color="#d555aa"/><stop offset="14.3%" stop-color="#d555aa"/><stop offset="14.7%" stop-color="#dd468b"/><stop offset="15.3%" stop-color="#dd468b"/><stop offset="15.7%" stop-color="#e33a73"/><stop offset="16.3%" stop-color="#e33a73"/><stop offset="16.7%" stop-color="#e73060"/><stop offset="17.3%" stop-color="#e73060"/><stop offset="17.7%" stop-color="#eb2952"/><stop offset="18.3%" stop-color="#eb2952"/><stop offset="18.7%" stop-color="#ed2448"/><stop offset="19.3%" stop-color="#ed2448"/><stop offset="19.7%" stop-color="#ef2142"/><stop offset="20.3%" stop-color="#ef2142"/><stop offset="20.7%" stop-color="#ef203f"/><stop offset="22.3%" stop-color="#ef203f"/><stop offset="22.7%" stop-color="#ef2142"/><stop offset="23.3%" stop-color="#ef2142"/><stop offset="23.7%" stop-color="#ed2448"/><stop offset="24.3%" stop-color="#ed2448"/><stop offset="24.7%" stop-color="#eb2952"/><stop offset="25.3%" stop-color="#eb2952"/><stop offset="25.7%" stop-color="#e73060"/><stop offset="26.3%" stop-color="#e73060"/><stop offset="26.7%" stop-color="#e33a73"/><stop offset="27.3%" stop-color="#e33a73"/><stop offset="27.7%" stop-color="#dd468b"/><stop offset="28.3%" stop-color="#dd468b"/><stop offset="28.7%" stop-color="#d555aa"/><stop offset="29.3%" stop-color="#d555aa"/><stop offset="29.7%" stop-color="#cb69d2"/><stop offset="30.3%" stop-color="#cb69d2"/><stop offset="30.7%" stop-color="#c17df9"/><stop offset="32.3%" stop-color="#c17df9"/><stop offset="32.7%" stop-color="#ca6cd6"/><stop offset="33.3%" stop-color="#ca6cd6"/><stop offset="33.7%" stop-color="#d35ab3"/><stop offset="34.3%" stop-color="#d35ab3"/><stop offset="34.7%" stop-color="#da4c97"/><stop offset="35.3%" stop-color="#da4c97"/><stop offset="35.7%" stop-color="#df4181"/><stop offset="36.3%" stop-color="#df4181"/><stop offset="36.7%" stop-color="#e33870"/><stop offset="37.3%" stop-color="#e33870"/><stop offset="37.7%" stop-color="#e63264"/><stop offset="38.3%" stop-color="#e63264"/><stop offset="38.7%" stop-color="#e82e5b"/><stop offset="39.3%" stop-color="#e82e5b"/><stop offset="39.7%" stop-color="#ea2b56"/><stop offset="40.3%" stop-color="#ea2b56"/><stop offset="40.7%" stop-color="#ea2a53"/><stop offset="42.3%" stop-color="#ea2a53"/><stop offset="42.7%" stop-color="#ea2b56"/><stop offset="43.3%" stop-color="#ea2b56"/><stop offset="43.7%" stop-color="#e82e5b"/><stop offset="44.3%" stop-color="#e82e5b"/><stop offset="44.7%" stop-color="#e63264"/><stop offset="45.3%" stop-color="#e63264"/><stop offset="45.7%" stop-color="#e33870"/><stop offset="46.3%" stop-color="#e33870"/><stop offset="46.7%" stop-color="#df4181"/><stop offset="47.3%" stop-color="#df4181"/><stop offset="47.7%" stop-color="#da4c97"/><stop offset="48.3%" stop-color="#da4c97"/><stop offset="48.7%" stop-color="#d35ab3"/><stop offset="49.3%" stop-color="#d35ab3"/><stop offset="49.7%" stop-color="#ca6cd6"/><stop offset="50.3%" stop-color="#ca6cd6"/><stop offset="50.7%" stop-color="#c17df9"/><stop offset="52.3%" stop-color="#c17df9"/><stop offset="52.7%" stop-color="#ca6cd6"/><stop offset="53.3%" stop-color="#ca6cd6"/><stop offset="53.7%" stop-color="#d35ab3"/><stop offset="54.3%" stop-color="#d35ab3"/><stop offset="54.7%" stop-color="#da4c97"/><stop offset="55.3%" stop-color="#da4c97"/><stop offset="55.7%" stop-color="#df4181"/><stop offset="56.3%" stop-color="#df4181"/><stop offset="56.7%" stop-color="#e33870"/><stop offset="57.3%" stop-color="#e33870"/><stop offset="57.7%" stop-color="#e63264"/><stop offset="58.3%" stop-color="#e63264"/><stop offset="58.7%" stop-color="#e82e5b"/><stop offset="59.3%" stop-color="#e82e5b"/><stop offset="59.7%" stop-color="#ea2b56"/><stop offset="60.3%" stop-color="#ea2b56"/><stop offset="60.7%" stop-color="#ea2a53"/><stop offset="62.3%" stop-color="#ea2a53"/><stop offset="62.7%" stop-color="#ea2b56"/><stop offset="63.3%" stop-color="#ea2b56"/><stop offset="63.7%" stop-color="#e82e5b"/><stop offset="64.3%" stop-color="#e82e5b"/><stop offset="64.7%" stop-color="#e63264"/><stop offset="65.3%" stop-color="#e63264"/><stop offset="65.7%" stop-color="#e33870"/><stop offset="66.3%" stop-color="#e33870"/><stop offset="66.7%" stop-color="#df4181"/><stop offset="67.3%" stop-color="#df4181"/><stop offset="67.7%" stop-color="#da4c97"/><stop offset="68.3%" stop-color="#da4c97"/><stop offset="68.7%" stop-color="#d35ab3"/><stop offset="69.3%" stop-color="#d35ab3"/><stop offset="69.7%" stop-color="#ca6cd6"/><stop offset="70.3%" stop-color="#ca6cd6"/><stop offset="70.7%" stop-color="#c17df9"/><stop offset="72.3%" stop-color="#c17df9"/><stop offset="72.7%" stop-color="#ca6cd6"/><stop offset="73.3%" stop-color="#ca6cd6"/><stop offset="73.7%" stop-color="#d35ab3"/><stop offset="74.3%" stop-color="#d35ab3"/><stop offset="74.7%" stop-color="#da4c97"/><stop offset="75.3%" stop-color="#da4c97"/><stop offset="75.7%" stop-color="#df4181"/><stop offset="76.3%" stop-color="#df4181"/><stop offset="76.7%" stop-color="#e33870"/><stop offset="77.3%" stop-color="#e33870"/><stop offset="77.7%" stop-color="#e63264"/><stop offset="78.3%" stop-color="#e63264"/><stop offset="78.7%" stop-color="#e82e5b"/><stop offset="79.3%" stop-color="#e82e5b"/><stop offset="79.7%" stop-color="#ea2b56"/><stop offset="80.3%" stop-color="#ea2b56"/><stop offset="80.7%" stop-color="#ea2a53"/><stop offset="82.3%" stop-color="#ea2a53"/><stop offset="82.7%" stop-color="#ea2b56"/><stop offset="83.3%" stop-color="#ea2b56"/><stop offset="83.7%" stop-color="#e82e5b"/><stop offset="84.3%" stop-color="#e82e5b"/><stop offset="84.7%" stop-color="#e63264"/><stop offset="85.3%" stop-color="#e63264"/><stop offset="85.7%" stop-color="#e33870"/><stop offset="86.3%" stop-color="#e33870"/><stop offset="86.7%" stop-color="#df4181"/><stop offset="87.3%" stop-color="#df4181"/><stop offset="87.7%" stop-color="#da4c97"/><stop offset="88.3%" stop-color="#da4c97"/><stop offset="88.7%" stop-color="#d35ab3"/><stop offset="89.3%" stop-color="#d35ab3"/><stop offset="89.7%" stop-color="#ca6cd6"/><stop offset="90.3%" stop-color="#ca6cd6"/><stop offset="90.7%" stop-color="#c17df9"/><stop offset="92.3%" stop-color="#c17df9"/><stop offset="92.7%" stop-color="#cb6ad4"/><stop offset="93.3%" stop-color="#cb6ad4"/><stop offset="93.7%" stop-color="#d458ae"/><stop offset="94.3%" stop-color="#d458ae"/><stop offset="94.7%" stop-color="#db4991"/><stop offset="95.3%" stop-color="#db4991"/><stop offset="95.7%" stop-color="#e13d7a"/><stop offset="96.3%" stop-color="#e13d7a"/><stop offset="96.7%" stop-color="#e53468"/><stop offset="97.3%" stop-color="#e53468"/><stop offset="97.7%" stop-color="#e92e5b"/><stop offset="98.3%" stop-color="#e92e5b"/><stop offset="98.7%" stop-color="#eb2952"/><stop offset="99.3%" stop-color="#eb2952"/></linearGradient><linearGradient id="g21" gradientUnits="userSpaceOnUse" x1="0" y1="859.4" x2="0" y2="514.8"><stop offset="0%" stop-color="#ed2447"/><stop offset="2.3%" stop-color="#ee2245"/><stop offset="3.3%" stop-color="#ed2447"/><stop offset="3.7%" stop-color="#ec274d"/><stop offset="4.3%" stop-color="#ec274d"/><stop offset="4.7%" stop-color="#ea2b57"/><stop offset="5.3%" stop-color="#ea2b57"/><stop offset="5.7%" stop-color="#e63265"/><stop offset="6.3%" stop-color="#e63265"/><stop offset="6.7%" stop-color="#e13c77"/><stop offset="7.3%" stop-color="#e13c77"/><stop offset="7.7%" stop-color="#db4991"/><stop offset="8.3%" stop-color="#db4991"/><stop offset="8.7%" stop-color="#d358b0"/><stop offset="9.3%" stop-color="#d358b0"/><stop offset="9.7%" stop-color="#c96dda"/><stop offset="10.3%" stop-color="#c96dda"/><stop offset="10.7%" stop-color="#bd7efb"/><stop offset="12.3%" stop-color="#bd7efc"/><stop offset="12.7%" stop-color="#ca6cd7"/><stop offset="13.3%" stop-color="#ca6cd7"/><stop offset="13.7%" stop-color="#d556ac"/><stop offset="14.3%" stop-color="#d556ac"/><stop offset="14.7%" stop-color="#dd468b"/><stop offset="15.3%" stop-color="#dd468b"/><stop offset="15.7%" stop-color="#e33870"/><stop offset="16.3%" stop-color="#e33870"/><stop offset="16.7%" stop-color="#e82e5c"/><stop offset="17.3%" stop-color="#e82e5c"/><stop offset="17.7%" stop-color="#ec274e"/><stop offset="18.3%" stop-color="#ec274e"/><stop offset="18.7%" stop-color="#ee2244"/><stop offset="19.3%" stop-color="#ee2244"/><stop offset="19.7%" stop-color="#f01f3d"/><stop offset="22.3%" stop-color="#f01d3b"/><stop offset="23.3%" stop-color="#f01f3d"/><stop offset="23.7%" stop-color="#ee2244"/><stop offset="24.3%" stop-color="#ee2244"/><stop offset="24.7%" stop-color="#ec274e"/><stop offset="25.3%" stop-color="#ec274e"/><stop offset="25.7%" stop-color="#e82e5c"/><stop offset="26.3%" stop-color="#e82e5c"/><stop offset="26.7%" stop-color="#e33870"/><stop offset="27.3%" stop-color="#e33870"/><stop offset="27.7%" stop-color="#dd468b"/><stop offset="28.3%" stop-color="#dd468b"/><stop offset="28.7%" stop-color="#d556ac"/><stop offset="29.3%" stop-color="#d556ac"/><stop offset="29.7%" stop-color="#ca6cd7"/><stop offset="30.3%" stop-color="#ca6cd7"/><stop offset="30.7%" stop-color="#bd7efc"/><stop offset="32.3%" stop-color="#bd7efb"/><stop offset="32.7%" stop-color="#c96edb"/><stop offset="33.3%" stop-color="#c96edb"/><stop offset="33.7%" stop-color="#d35ab3"/><stop offset="34.3%" stop-color="#d35ab3"/><stop offset="34.7%" stop-color="#da4a94"/><stop offset="35.3%" stop-color="#da4a94"/><stop offset="35.7%" stop-color="#e03e7c"/><stop offset="36.3%" stop-color="#e03e7c"/><stop offset="36.7%" stop-color="#e5356a"/><stop offset="37.3%" stop-color="#e5356a"/><stop offset="37.7%" stop-color="#e82e5c"/><stop offset="38.3%" stop-color="#e82e5c"/><stop offset="38.7%" stop-color="#ea2a53"/><stop offset="39.3%" stop-color="#ea2a53"/><stop offset="39.7%" stop-color="#ec274d"/><stop offset="42.3%" stop-color="#ed264b"/><stop offset="43.3%" stop-color="#ec274d"/><stop offset="43.7%" stop-color="#ea2a53"/><stop offset="44.3%" stop-color="#ea2a53"/><stop offset="44.7%" stop-color="#e82e5c"/><stop offset="45.3%" stop-color="#e82e5c"/><stop offset="45.7%" stop-color="#e5356a"/><stop offset="46.3%" stop-color="#e5356a"/><stop offset="46.7%" stop-color="#e03e7c"/><stop offset="47.3%" stop-color="#e03e7c"/><stop offset="47.7%" stop-color="#da4a94"/><stop offset="48.3%" stop-color="#da4a94"/><stop offset="48.7%" stop-color="#d35ab3"/><stop offset="49.3%" stop-color="#d35ab3"/><stop offset="49.7%" stop-color="#c96edb"/><stop offset="50.3%" stop-color="#c96edb"/><stop offset="50.7%" stop-color="#bd7efb"/><stop offset="52.3%" stop-color="#bd7efb"/><stop offset="52.7%" stop-color="#c96edb"/><stop offset="53.3%" stop-color="#c96edb"/><stop offset="53.7%" stop-color="#d35ab3"/><stop offset="54.3%" stop-color="#d35ab3"/><stop offset="54.7%" stop-color="#da4a94"/><stop offset="55.3%" stop-color="#da4a94"/><stop offset="55.7%" stop-color="#e03e7c"/><stop offset="56.3%" stop-color="#e03e7c"/><stop offset="56.7%" stop-color="#e5356a"/><stop offset="57.3%" stop-color="#e5356a"/><stop offset="57.7%" stop-color="#e82e5c"/><stop offset="58.3%" stop-color="#e82e5c"/><stop offset="58.7%" stop-color="#ea2a53"/><stop offset="59.3%" stop-color="#ea2a53"/><stop offset="59.7%" stop-color="#ec274d"/><stop offset="62.3%" stop-color="#ed264b"/><stop offset="63.3%" stop-color="#ec274d"/><stop offset="63.7%" stop-color="#ea2a53"/><stop offset="64.3%" stop-color="#ea2a53"/><stop offset="64.7%" stop-color="#e82e5c"/><stop offset="65.3%" stop-color="#e82e5c"/><stop offset="65.7%" stop-color="#e5356a"/><stop offset="66.3%" stop-color="#e5356a"/><stop offset="66.7%" stop-color="#e03e7c"/><stop offset="67.3%" stop-color="#e03e7c"/><stop offset="67.7%" stop-color="#da4a94"/><stop offset="68.3%" stop-color="#da4a94"/><stop offset="68.7%" stop-color="#d35ab3"/><stop offset="69.3%" stop-color="#d35ab3"/><stop offset="69.7%" stop-color="#c96edb"/><stop offset="70.3%" stop-color="#c96edb"/><stop offset="70.7%" stop-color="#bd7efb"/><stop offset="72.3%" stop-color="#bd7efb"/><stop offset="72.7%" stop-color="#c96edb"/><stop offset="73.3%" stop-color="#c96edb"/><stop offset="73.7%" stop-color="#d35ab3"/><stop offset="74.3%" stop-color="#d35ab3"/><stop offset="74.7%" stop-color="#da4a94"/><stop offset="75.3%" stop-color="#da4a94"/><stop offset="75.7%" stop-color="#e03e7c"/><stop offset="76.3%" stop-color="#e03e7c"/><stop offset="76.7%" stop-color="#e5356a"/><stop offset="77.3%" stop-color="#e5356a"/><stop offset="77.7%" stop-color="#e82e5c"/><stop offset="78.3%" stop-color="#e82e5c"/><stop offset="78.7%" stop-color="#ea2a53"/><stop offset="79.3%" stop-color="#ea2a53"/><stop offset="79.7%" stop-color="#ec274d"/><stop offset="82.3%" stop-color="#ed264b"/><stop offset="83.3%" stop-color="#ec274d"/><stop offset="83.7%" stop-color="#ea2a53"/><stop offset="84.3%" stop-color="#ea2a53"/><stop offset="84.7%" stop-color="#e82e5c"/><stop offset="85.3%" stop-color="#e82e5c"/><stop offset="85.7%" stop-color="#e5356a"/><stop offset="86.3%" stop-color="#e5356a"/><stop offset="86.7%" stop-color="#e03e7c"/><stop offset="87.3%" stop-color="#e03e7c"/><stop offset="87.7%" stop-color="#da4a94"/><stop offset="88.3%" stop-color="#da4a94"/><stop offset="88.7%" stop-color="#d35ab3"/><stop offset="89.3%" stop-color="#d35ab3"/><stop offset="89.7%" stop-color="#c96edb"/><stop offset="90.3%" stop-color="#c96edb"/><stop offset="90.7%" stop-color="#bd7efb"/><stop offset="92.3%" stop-color="#bd7efb"/><stop offset="92.7%" stop-color="#c96dda"/><stop offset="93.3%" stop-color="#c96dda"/><stop offset="93.7%" stop-color="#d358b0"/><stop offset="94.3%" stop-color="#d358b0"/><stop offset="94.7%" stop-color="#db4991"/><stop offset="95.3%" stop-color="#db4991"/><stop offset="95.7%" stop-color="#e13c77"/><stop offset="96.3%" stop-color="#e13c77"/><stop offset="96.7%" stop-color="#e63265"/><stop offset="97.3%" stop-color="#e63265"/><stop offset="97.7%" stop-color="#ea2b57"/><stop offset="98.3%" stop-color="#ea2b57"/><stop offset="98.7%" stop-color="#ec274d"/><stop offset="99.3%" stop-color="#ec274d"/></linearGradient><linearGradient id="g22" gradientUnits="userSpaceOnUse" x1="0" y1="859.4" x2="0" y2="514.8"><stop offset="0%" stop-color="#ef2142"/><stop offset="2.3%" stop-color="#ef203f"/><stop offset="2.7%" stop-color="#ef2142"/><stop offset="3.3%" stop-color="#ef2142"/><stop offset="3.7%" stop-color="#ed2448"/><stop offset="4.3%" stop-color="#ed2448"/><stop offset="4.7%" stop-color="#eb2952"/><stop offset="5.3%" stop-color="#eb2952"/><stop offset="5.7%" stop-color="#e73060"/><stop offset="6.3%" stop-color="#e73060"/><stop offset="6.7%" stop-color="#e23a74"/><stop offset="7.3%" stop-color="#e23a74"/><stop offset="7.7%" stop-color="#dc488f"/><stop offset="8.3%" stop-color="#dc488f"/><stop offset="8.7%" stop-color="#d359b1"/><stop offset="9.3%" stop-color="#d359b1"/><stop offset="9.7%" stop-color="#c86fdd"/><stop offset="10.3%" stop-color="#c86fdd"/><stop offset="10.7%" stop-color="#b87af4"/><stop offset="12.3%" stop-color="#b87bf4"/><stop offset="12.7%" stop-color="#c96edb"/><stop offset="13.3%" stop-color="#c96edb"/><stop offset="13.7%" stop-color="#d457ad"/><stop offset="14.3%" stop-color="#d457ad"/><stop offset="14.7%" stop-color="#dd4589"/><stop offset="15.3%" stop-color="#dd4589"/><stop offset="15.7%" stop-color="#e4376d"/><stop offset="16.3%" stop-color="#e4376d"/><stop offset="16.7%" stop-color="#e92c58"/><stop offset="17.3%" stop-color="#e92c58"/><stop offset="17.7%" stop-color="#ed2549"/><stop offset="18.3%" stop-color="#ed2549"/><stop offset="18.7%" stop-color="#ef203f"/><stop offset="19.3%" stop-color="#ef203f"/><stop offset="19.7%" stop-color="#f11d39"/><stop offset="20.3%" stop-color="#f11d39"/><stop offset="20.7%" stop-color="#f21b36"/><stop offset="22.3%" stop-color="#f21b36"/><stop offset="22.7%" stop-color="#f11d39"/><stop offset="23.3%" stop-color="#f11d39"/><stop offset="23.7%" stop-color="#ef203f"/><stop offset="24.3%" stop-color="#ef203f"/><stop offset="24.7%" stop-color="#ed2549"/><stop offset="25.3%" stop-color="#ed2549"/><stop offset="25.7%" stop-color="#e92c58"/><stop offset="26.3%" stop-color="#e92c58"/><stop offset="26.7%" stop-color="#e4376d"/><stop offset="27.3%" stop-color="#e4376d"/><stop offset="27.7%" stop-color="#dd4589"/><stop offset="28.3%" stop-color="#dd4589"/><stop offset="28.7%" stop-color="#d457ad"/><stop offset="29.3%" stop-color="#d457ad"/><stop offset="29.7%" stop-color="#c96edb"/><stop offset="30.3%" stop-color="#c96edb"/><stop offset="30.7%" stop-color="#b87bf4"/><stop offset="32.3%" stop-color="#b87af4"/><stop offset="32.7%" stop-color="#c870de"/><stop offset="33.3%" stop-color="#c870de"/><stop offset="33.7%" stop-color="#d359b2"/><stop offset="34.3%" stop-color="#d359b2"/><stop offset="34.7%" stop-color="#db4991"/><stop offset="35.3%" stop-color="#db4991"/><stop offset="35.7%" stop-color="#e23b76"/><stop offset="36.3%" stop-color="#e23b76"/><stop offset="36.7%" stop-color="#e73263"/><stop offset="37.3%" stop-color="#e73263"/><stop offset="37.7%" stop-color="#ea2a54"/><stop offset="38.3%" stop-color="#ea2a54"/><stop offset="38.7%" stop-color="#ec264b"/><stop offset="39.3%" stop-color="#ec264b"/><stop offset="39.7%" stop-color="#ee2345"/><stop offset="40.3%" stop-color="#ee2345"/><stop offset="40.7%" stop-color="#ef2142"/><stop offset="42.3%" stop-color="#ef2142"/><stop offset="42.7%" stop-color="#ee2345"/><stop offset="43.3%" stop-color="#ee2345"/><stop offset="43.7%" stop-color="#ec264b"/><stop offset="44.3%" stop-color="#ec264b"/><stop offset="44.7%" stop-color="#ea2a54"/><stop offset="45.3%" stop-color="#ea2a54"/><stop offset="45.7%" stop-color="#e73263"/><stop offset="46.3%" stop-color="#e73263"/><stop offset="46.7%" stop-color="#e23b76"/><stop offset="47.3%" stop-color="#e23b76"/><stop offset="47.7%" stop-color="#db4991"/><stop offset="48.3%" stop-color="#db4991"/><stop offset="48.7%" stop-color="#d359b2"/><stop offset="49.3%" stop-color="#d359b2"/><stop offset="49.7%" stop-color="#c870de"/><stop offset="50.3%" stop-color="#c870de"/><stop offset="50.7%" stop-color="#b87af4"/><stop offset="52.3%" stop-color="#b87af4"/><stop offset="52.7%" stop-color="#c870de"/><stop offset="53.3%" stop-color="#c870de"/><stop offset="53.7%" stop-color="#d359b2"/><stop offset="54.3%" stop-color="#d359b2"/><stop offset="54.7%" stop-color="#db4991"/><stop offset="55.3%" stop-color="#db4991"/><stop offset="55.7%" stop-color="#e23b76"/><stop offset="56.3%" stop-color="#e23b76"/><stop offset="56.7%" stop-color="#e73263"/><stop offset="57.3%" stop-color="#e73263"/><stop offset="57.7%" stop-color="#ea2a54"/><stop offset="58.3%" stop-color="#ea2a54"/><stop offset="58.7%" stop-color="#ec264b"/><stop offset="59.3%" stop-color="#ec264b"/><stop offset="59.7%" stop-color="#ee2345"/><stop offset="60.3%" stop-color="#ee2345"/><stop offset="60.7%" stop-color="#ef2142"/><stop offset="62.3%" stop-color="#ef2142"/><stop offset="62.7%" stop-color="#ee2345"/><stop offset="63.3%" stop-color="#ee2345"/><stop offset="63.7%" stop-color="#ec264b"/><stop offset="64.3%" stop-color="#ec264b"/><stop offset="64.7%" stop-color="#ea2a54"/><stop offset="65.3%" stop-color="#ea2a54"/><stop offset="65.7%" stop-color="#e73263"/><stop offset="66.3%" stop-color="#e73263"/><stop offset="66.7%" stop-color="#e23b76"/><stop offset="67.3%" stop-color="#e23b76"/><stop offset="67.7%" stop-color="#db4991"/><stop offset="68.3%" stop-color="#db4991"/><stop offset="68.7%" stop-color="#d359b2"/><stop offset="69.3%" stop-color="#d359b2"/><stop offset="69.7%" stop-color="#c870de"/><stop offset="70.3%" stop-color="#c870de"/><stop offset="70.7%" stop-color="#b87af4"/><stop offset="72.3%" stop-color="#b87af4"/><stop offset="72.7%" stop-color="#c870de"/><stop offset="73.3%" stop-color="#c870de"/><stop offset="73.7%" stop-color="#d359b2"/><stop offset="74.3%" stop-color="#d359b2"/><stop offset="74.7%" stop-color="#db4991"/><stop offset="75.3%" stop-color="#db4991"/><stop offset="75.7%" stop-color="#e23b76"/><stop offset="76.3%" stop-color="#e23b76"/><stop offset="76.7%" stop-color="#e73263"/><stop offset="77.3%" stop-color="#e73263"/><stop offset="77.7%" stop-color="#ea2a54"/><stop offset="78.3%" stop-color="#ea2a54"/><stop offset="78.7%" stop-color="#ec264b"/><stop offset="79.3%" stop-color="#ec264b"/><stop offset="79.7%" stop-color="#ee2345"/><stop offset="80.3%" stop-color="#ee2345"/><stop offset="80.7%" stop-color="#ef2142"/><stop offset="82.3%" stop-color="#ef2142"/><stop offset="82.7%" stop-color="#ee2345"/><stop offset="83.3%" stop-color="#ee2345"/><stop offset="83.7%" stop-color="#ec264b"/><stop offset="84.3%" stop-color="#ec264b"/><stop offset="84.7%" stop-color="#ea2a54"/><stop offset="85.3%" stop-color="#ea2a54"/><stop offset="85.7%" stop-color="#e73263"/><stop offset="86.3%" stop-color="#e73263"/><stop offset="86.7%" stop-color="#e23b76"/><stop offset="87.3%" stop-color="#e23b76"/><stop offset="87.7%" stop-color="#db4991"/><stop offset="88.3%" stop-color="#db4991"/><stop offset="88.7%" stop-color="#d359b2"/><stop offset="89.3%" stop-color="#d359b2"/><stop offset="89.7%" stop-color="#c870de"/><stop offset="90.3%" stop-color="#c870de"/><stop offset="90.7%" stop-color="#b87af4"/><stop offset="92.3%" stop-color="#b87af4"/><stop offset="92.7%" stop-color="#c86fdd"/><stop offset="93.3%" stop-color="#c86fdd"/><stop offset="93.7%" stop-color="#d359b1"/><stop offset="94.3%" stop-color="#d359b1"/><stop offset="94.7%" stop-color="#dc488f"/><stop offset="95.3%" stop-color="#dc488f"/><stop offset="95.7%" stop-color="#e23a74"/><stop offset="96.3%" stop-color="#e23a74"/><stop offset="96.7%" stop-color="#e73060"/><stop offset="97.3%" stop-color="#e73060"/><stop offset="97.7%" stop-color="#eb2952"/><stop offset="98.3%" stop-color="#eb2952"/><stop offset="98.7%" stop-color="#ed2448"/><stop offset="99.3%" stop-color="#ed2448"/></linearGradient><linearGradient id="g23" gradientUnits="userSpaceOnUse" x1="0" y1="859.4" x2="0" y2="514.8"><stop offset="0%" stop-color="#f11d3b"/><stop offset="2.3%" stop-color="#f11c38"/><stop offset="2.7%" stop-color="#f11d3b"/><stop offset="3.3%" stop-color="#f11d3b"/><stop offset="3.7%" stop-color="#ef2141"/><stop offset="4.3%" stop-color="#ef2141"/><stop offset="4.7%" stop-color="#ec264c"/><stop offset="5.3%" stop-color="#ec264c"/><stop offset="5.7%" stop-color="#e82e5c"/><stop offset="6.3%" stop-color="#e82e5c"/><stop offset="6.7%" stop-color="#e33972"/><stop offset="7.3%" stop-color="#e33972"/><stop offset="7.7%" stop-color="#db4991"/><stop offset="8.3%" stop-color="#db4991"/><stop offset="8.7%" stop-color="#d25cb8"/><stop offset="9.3%" stop-color="#d25cb8"/><stop offset="9.7%" stop-color="#c576ec"/><stop offset="10.3%" stop-color="#c576ec"/><stop offset="10.7%" stop-color="#a870de"/><stop offset="12.3%" stop-color="#a870df"/><stop offset="12.7%" stop-color="#c575ea"/><stop offset="13.3%" stop-color="#c575ea"/><stop offset="13.7%" stop-color="#d35ab4"/><stop offset="14.3%" stop-color="#d35ab4"/><stop offset="14.7%" stop-color="#dd468b"/><stop offset="15.3%" stop-color="#dd468b"/><stop offset="15.7%" stop-color="#e4366c"/><stop offset="16.3%" stop-color="#e4366c"/><stop offset="16.7%" stop-color="#ea2a54"/><stop offset="17.3%" stop-color="#ea2a54"/><stop offset="17.7%" stop-color="#ee2244"/><stop offset="18.3%" stop-color="#ee2244"/><stop offset="18.7%" stop-color="#f11d39"/><stop offset="19.3%" stop-color="#f11d39"/><stop offset="19.7%" stop-color="#f31932"/><stop offset="20.3%" stop-color="#f31932"/><stop offset="20.7%" stop-color="#f3182f"/><stop offset="22.3%" stop-color="#f3182f"/><stop offset="22.7%" stop-color="#f31932"/><stop offset="23.3%" stop-color="#f31932"/><stop offset="23.7%" stop-color="#f11d39"/><stop offset="24.3%" stop-color="#f11d39"/><stop offset="24.7%" stop-color="#ee2244"/><stop offset="25.3%" stop-color="#ee2244"/><stop offset="25.7%" stop-color="#ea2a54"/><stop offset="26.3%" stop-color="#ea2a54"/><stop offset="26.7%" stop-color="#e4366c"/><stop offset="27.3%" stop-color="#e4366c"/><stop offset="27.7%" stop-color="#dd468b"/><stop offset="28.3%" stop-color="#dd468b"/><stop offset="28.7%" stop-color="#d35ab4"/><stop offset="29.3%" stop-color="#d35ab4"/><stop offset="29.7%" stop-color="#c575ea"/><stop offset="30.3%" stop-color="#c575ea"/><stop offset="30.7%" stop-color="#a870df"/><stop offset="32.3%" stop-color="#a870de"/><stop offset="32.7%" stop-color="#c576ec"/><stop offset="33.3%" stop-color="#c576ec"/><stop offset="33.7%" stop-color="#d25cb8"/><stop offset="34.3%" stop-color="#d25cb8"/><stop offset="34.7%" stop-color="#db4991"/><stop offset="35.3%" stop-color="#db4991"/><stop offset="35.7%" stop-color="#e33a73"/><stop offset="36.3%" stop-color="#e33a73"/><stop offset="36.7%" stop-color="#e82e5d"/><stop offset="37.3%" stop-color="#e82e5d"/><stop offset="37.7%" stop-color="#ec264c"/><stop offset="38.3%" stop-color="#ec264c"/><stop offset="38.7%" stop-color="#ef2142"/><stop offset="39.3%" stop-color="#ef2142"/><stop offset="39.7%" stop-color="#f01e3b"/><stop offset="42.3%" stop-color="#f11c39"/><stop offset="43.3%" stop-color="#f01e3b"/><stop offset="43.7%" stop-color="#ef2142"/><stop offset="44.3%" stop-color="#ef2142"/><stop offset="44.7%" stop-color="#ec264c"/><stop offset="45.3%" stop-color="#ec264c"/><stop offset="45.7%" stop-color="#e82e5d"/><stop offset="46.3%" stop-color="#e82e5d"/><stop offset="46.7%" stop-color="#e33a73"/><stop offset="47.3%" stop-color="#e33a73"/><stop offset="47.7%" stop-color="#db4991"/><stop offset="48.3%" stop-color="#db4991"/><stop offset="48.7%" stop-color="#d25cb8"/><stop offset="49.3%" stop-color="#d25cb8"/><stop offset="49.7%" stop-color="#c576ec"/><stop offset="50.3%" stop-color="#c576ec"/><stop offset="50.7%" stop-color="#a870de"/><stop offset="52.3%" stop-color="#a870de"/><stop offset="52.7%" stop-color="#c576ec"/><stop offset="53.3%" stop-color="#c576ec"/><stop offset="53.7%" stop-color="#d25cb8"/><stop offset="54.3%" stop-color="#d25cb8"/><stop offset="54.7%" stop-color="#db4991"/><stop offset="55.3%" stop-color="#db4991"/><stop offset="55.7%" stop-color="#e33a73"/><stop offset="56.3%" stop-color="#e33a73"/><stop offset="56.7%" stop-color="#e82e5d"/><stop offset="57.3%" stop-color="#e82e5d"/><stop offset="57.7%" stop-color="#ec264c"/><stop offset="58.3%" stop-color="#ec264c"/><stop offset="58.7%" stop-color="#ef2142"/><stop offset="59.3%" stop-color="#ef2142"/><stop offset="59.7%" stop-color="#f01e3b"/><stop offset="62.3%" stop-color="#f11c39"/><stop offset="63.3%" stop-color="#f01e3b"/><stop offset="63.7%" stop-color="#ef2142"/><stop offset="64.3%" stop-color="#ef2142"/><stop offset="64.7%" stop-color="#ec264c"/><stop offset="65.3%" stop-color="#ec264c"/><stop offset="65.7%" stop-color="#e82e5d"/><stop offset="66.3%" stop-color="#e82e5d"/><stop offset="66.7%" stop-color="#e33a73"/><stop offset="67.3%" stop-color="#e33a73"/><stop offset="67.7%" stop-color="#db4991"/><stop offset="68.3%" stop-color="#db4991"/><stop offset="68.7%" stop-color="#d25cb8"/><stop offset="69.3%" stop-color="#d25cb8"/><stop offset="69.7%" stop-color="#c576ec"/><stop offset="70.3%" stop-color="#c576ec"/><stop offset="70.7%" stop-color="#a870de"/><stop offset="72.3%" stop-color="#a870de"/><stop offset="72.7%" stop-color="#c576ec"/><stop offset="73.3%" stop-color="#c576ec"/><stop offset="73.7%" stop-color="#d25cb8"/><stop offset="74.3%" stop-color="#d25cb8"/><stop offset="74.7%" stop-color="#db4991"/><stop offset="75.3%" stop-color="#db4991"/><stop offset="75.7%" stop-color="#e33a73"/><stop offset="76.3%" stop-color="#e33a73"/><stop offset="76.7%" stop-color="#e82e5d"/><stop offset="77.3%" stop-color="#e82e5d"/><stop offset="77.7%" stop-color="#ec264c"/><stop offset="78.3%" stop-color="#ec264c"/><stop offset="78.7%" stop-color="#ef2142"/><stop offset="79.3%" stop-color="#ef2142"/><stop offset="79.7%" stop-color="#f01e3b"/><stop offset="82.3%" stop-color="#f11c39"/><stop offset="83.3%" stop-color="#f01e3b"/><stop offset="83.7%" stop-color="#ef2142"/><stop offset="84.3%" stop-color="#ef2142"/><stop offset="84.7%" stop-color="#ec264c"/><stop offset="85.3%" stop-color="#ec264c"/><stop offset="85.7%" stop-color="#e82e5d"/><stop offset="86.3%" stop-color="#e82e5d"/><stop offset="86.7%" stop-color="#e33a73"/><stop offset="87.3%" stop-color="#e33a73"/><stop offset="87.7%" stop-color="#db4991"/><stop offset="88.3%" stop-color="#db4991"/><stop offset="88.7%" stop-color="#d25cb8"/><stop offset="89.3%" stop-color="#d25cb8"/><stop offset="89.7%" stop-color="#c576ec"/><stop offset="90.3%" stop-color="#c576ec"/><stop offset="90.7%" stop-color="#a870de"/><stop offset="92.3%" stop-color="#a870de"/><stop offset="92.7%" stop-color="#c576ec"/><stop offset="93.3%" stop-color="#c576ec"/><stop offset="93.7%" stop-color="#d25cb8"/><stop offset="94.3%" stop-color="#d25cb8"/><stop offset="94.7%" stop-color="#db4991"/><stop offset="95.3%" stop-color="#db4991"/><stop offset="95.7%" stop-color="#e33972"/><stop offset="96.3%" stop-color="#e33972"/><stop offset="96.7%" stop-color="#e82e5c"/><stop offset="97.3%" stop-color="#e82e5c"/><stop offset="97.7%" stop-color="#ec264c"/><stop offset="98.3%" stop-color="#ec264c"/><stop offset="98.7%" stop-color="#ef2141"/><stop offset="99.3%" stop-color="#ef2141"/></linearGradient><linearGradient id="g24" gradientUnits="userSpaceOnUse" x1="0" y1="859.4" x2="0" y2="514.8"><stop offset="0%" stop-color="#f31932"/><stop offset="2.3%" stop-color="#f31830"/><stop offset="3.3%" stop-color="#f31932"/><stop offset="3.7%" stop-color="#f11d3a"/><stop offset="4.3%" stop-color="#f11d3a"/><stop offset="4.7%" stop-color="#ee2345"/><stop offset="5.3%" stop-color="#ee2345"/><stop offset="5.7%" stop-color="#e92c57"/><stop offset="6.3%" stop-color="#e92c57"/><stop offset="6.7%" stop-color="#e33971"/><stop offset="7.3%" stop-color="#e33971"/><stop offset="7.7%" stop-color="#da4a94"/><stop offset="8.3%" stop-color="#da4a94"/><stop offset="8.7%" stop-color="#cf61c1"/><stop offset="9.3%" stop-color="#cf61c1"/><stop offset="9.7%" stop-color="#c080fe"/><stop offset="10.3%" stop-color="#c080fe"/><stop offset="10.7%" stop-color="#9262c2"/><stop offset="12.3%" stop-color="#9262c2"/><stop offset="12.7%" stop-color="#c17ffd"/><stop offset="13.3%" stop-color="#c17ffd"/><stop offset="13.7%" stop-color="#d05fbe"/><stop offset="14.3%" stop-color="#d05fbe"/><stop offset="14.7%" stop-color="#dc488f"/><stop offset="15.3%" stop-color="#dc488f"/><stop offset="15.7%" stop-color="#e5366b"/><stop offset="16.3%" stop-color="#e5366b"/><stop offset="16.7%" stop-color="#eb2951"/><stop offset="17.3%" stop-color="#eb2951"/><stop offset="17.7%" stop-color="#f01f3f"/><stop offset="18.3%" stop-color="#f01f3f"/><stop offset="18.7%" stop-color="#f21a33"/><stop offset="19.3%" stop-color="#f21a33"/><stop offset="19.7%" stop-color="#f4162b"/><stop offset="20.3%" stop-color="#f4162b"/><stop offset="20.7%" stop-color="#f51428"/><stop offset="22.3%" stop-color="#f51428"/><stop offset="22.7%" stop-color="#f4162b"/><stop offset="23.3%" stop-color="#f4162b"/><stop offset="23.7%" stop-color="#f21a33"/><stop offset="24.3%" stop-color="#f21a33"/><stop offset="24.7%" stop-color="#f01f3f"/><stop offset="25.3%" stop-color="#f01f3f"/><stop offset="25.7%" stop-color="#eb2951"/><stop offset="26.3%" stop-color="#eb2951"/><stop offset="26.7%" stop-color="#e5366b"/><stop offset="27.3%" stop-color="#e5366b"/><stop offset="27.7%" stop-color="#dc488f"/><stop offset="28.3%" stop-color="#dc488f"/><stop offset="28.7%" stop-color="#d05fbe"/><stop offset="29.3%" stop-color="#d05fbe"/><stop offset="29.7%" stop-color="#c17ffd"/><stop offset="30.3%" stop-color="#c17ffd"/><stop offset="30.7%" stop-color="#9262c2"/><stop offset="32.3%" stop-color="#9262c2"/><stop offset="32.7%" stop-color="#c080fe"/><stop offset="33.3%" stop-color="#c080fe"/><stop offset="33.7%" stop-color="#cf61c1"/><stop offset="34.3%" stop-color="#cf61c1"/><stop offset="34.7%" stop-color="#da4a94"/><stop offset="35.3%" stop-color="#da4a94"/><stop offset="35.7%" stop-color="#e33971"/><stop offset="36.3%" stop-color="#e33971"/><stop offset="36.7%" stop-color="#e92c57"/><stop offset="37.3%" stop-color="#e92c57"/><stop offset="37.7%" stop-color="#ee2345"/><stop offset="38.3%" stop-color="#ee2345"/><stop offset="38.7%" stop-color="#f11d3a"/><stop offset="39.3%" stop-color="#f11d3a"/><stop offset="39.7%" stop-color="#f31932"/><stop offset="42.3%" stop-color="#f31830"/><stop offset="43.3%" stop-color="#f31932"/><stop offset="43.7%" stop-color="#f11d3a"/><stop offset="44.3%" stop-color="#f11d3a"/><stop offset="44.7%" stop-color="#ee2345"/><stop offset="45.3%" stop-color="#ee2345"/><stop offset="45.7%" stop-color="#e92c57"/><stop offset="46.3%" stop-color="#e92c57"/><stop offset="46.7%" stop-color="#e33971"/><stop offset="47.3%" stop-color="#e33971"/><stop offset="47.7%" stop-color="#da4a94"/><stop offset="48.3%" stop-color="#da4a94"/><stop offset="48.7%" stop-color="#cf61c1"/><stop offset="49.3%" stop-color="#cf61c1"/><stop offset="49.7%" stop-color="#c080fe"/><stop offset="50.3%" stop-color="#c080fe"/><stop offset="50.7%" stop-color="#9262c2"/><stop offset="52.3%" stop-color="#9262c2"/><stop offset="52.7%" stop-color="#c080fe"/><stop offset="53.3%" stop-color="#c080fe"/><stop offset="53.7%" stop-color="#cf61c1"/><stop offset="54.3%" stop-color="#cf61c1"/><stop offset="54.7%" stop-color="#da4a94"/><stop offset="55.3%" stop-color="#da4a94"/><stop offset="55.7%" stop-color="#e33971"/><stop offset="56.3%" stop-color="#e33971"/><stop offset="56.7%" stop-color="#e92c57"/><stop offset="57.3%" stop-color="#e92c57"/><stop offset="57.7%" stop-color="#ee2345"/><stop offset="58.3%" stop-color="#ee2345"/><stop offset="58.7%" stop-color="#f11d3a"/><stop offset="59.3%" stop-color="#f11d3a"/><stop offset="59.7%" stop-color="#f31932"/><stop offset="62.3%" stop-color="#f31830"/><stop offset="63.3%" stop-color="#f31932"/><stop offset="63.7%" stop-color="#f11d3a"/><stop offset="64.3%" stop-color="#f11d3a"/><stop offset="64.7%" stop-color="#ee2345"/><stop offset="65.3%" stop-color="#ee2345"/><stop offset="65.7%" stop-color="#e92c57"/><stop offset="66.3%" stop-color="#e92c57"/><stop offset="66.7%" stop-color="#e33971"/><stop offset="67.3%" stop-color="#e33971"/><stop offset="67.7%" stop-color="#da4a94"/><stop offset="68.3%" stop-color="#da4a94"/><stop offset="68.7%" stop-color="#cf61c1"/><stop offset="69.3%" stop-color="#cf61c1"/><stop offset="69.7%" stop-color="#c080fe"/><stop offset="70.3%" stop-color="#c080fe"/><stop offset="70.7%" stop-color="#9262c2"/><stop offset="72.3%" stop-color="#9262c2"/><stop offset="72.7%" stop-color="#c080fe"/><stop offset="73.3%" stop-color="#c080fe"/><stop offset="73.7%" stop-color="#cf61c1"/><stop offset="74.3%" stop-color="#cf61c1"/><stop offset="74.7%" stop-color="#da4a94"/><stop offset="75.3%" stop-color="#da4a94"/><stop offset="75.7%" stop-color="#e33971"/><stop offset="76.3%" stop-color="#e33971"/><stop offset="76.7%" stop-color="#e92c57"/><stop offset="77.3%" stop-color="#e92c57"/><stop offset="77.7%" stop-color="#ee2345"/><stop offset="78.3%" stop-color="#ee2345"/><stop offset="78.7%" stop-color="#f11d3a"/><stop offset="79.3%" stop-color="#f11d3a"/><stop offset="79.7%" stop-color="#f31932"/><stop offset="82.3%" stop-color="#f31830"/><stop offset="83.3%" stop-color="#f31932"/><stop offset="83.7%" stop-color="#f11d3a"/><stop offset="84.3%" stop-color="#f11d3a"/><stop offset="84.7%" stop-color="#ee2345"/><stop offset="85.3%" stop-color="#ee2345"/><stop offset="85.7%" stop-color="#e92c57"/><stop offset="86.3%" stop-color="#e92c57"/><stop offset="86.7%" stop-color="#e33971"/><stop offset="87.3%" stop-color="#e33971"/><stop offset="87.7%" stop-color="#da4a94"/><stop offset="88.3%" stop-color="#da4a94"/><stop offset="88.7%" stop-color="#cf61c1"/><stop offset="89.3%" stop-color="#cf61c1"/><stop offset="89.7%" stop-color="#c080fe"/><stop offset="90.3%" stop-color="#c080fe"/><stop offset="90.7%" stop-color="#9262c2"/><stop offset="92.3%" stop-color="#9262c2"/><stop offset="92.7%" stop-color="#c080fe"/><stop offset="93.3%" stop-color="#c080fe"/><stop offset="93.7%" stop-color="#cf61c1"/><stop offset="94.3%" stop-color="#cf61c1"/><stop offset="94.7%" stop-color="#da4a94"/><stop offset="95.3%" stop-color="#da4a94"/><stop offset="95.7%" stop-color="#e33971"/><stop offset="96.3%" stop-color="#e33971"/><stop offset="96.7%" stop-color="#e92c57"/><stop offset="97.3%" stop-color="#e92c57"/><stop offset="97.7%" stop-color="#ee2345"/><stop offset="98.3%" stop-color="#ee2345"/><stop offset="98.7%" stop-color="#f11d3a"/><stop offset="99.3%" stop-color="#f11d3a"/></linearGradient><linearGradient id="g25" gradientUnits="userSpaceOnUse" x1="0" y1="859.4" x2="0" y2="514.8"><stop offset="0%" stop-color="#f5152a"/><stop offset="2.3%" stop-color="#f51327"/><stop offset="2.7%" stop-color="#f5152a"/><stop offset="3.3%" stop-color="#f5152a"/><stop offset="3.7%" stop-color="#f31932"/><stop offset="4.3%" stop-color="#f31932"/><stop offset="4.7%" stop-color="#f01f3e"/><stop offset="5.3%" stop-color="#f01f3e"/><stop offset="5.7%" stop-color="#eb2951"/><stop offset="6.3%" stop-color="#eb2951"/><stop offset="6.7%" stop-color="#e4366d"/><stop offset="7.3%" stop-color="#e4366d"/><stop offset="7.7%" stop-color="#db4992"/><stop offset="8.3%" stop-color="#db4992"/><stop offset="8.7%" stop-color="#cf62c3"/><stop offset="9.3%" stop-color="#cf62c3"/><stop offset="9.7%" stop-color="#bc7dfa"/><stop offset="10.3%" stop-color="#bc7dfa"/><stop offset="10.7%" stop-color="#8a5cb8"/><stop offset="12.3%" stop-color="#8a5cb8"/><stop offset="12.7%" stop-color="#bc7efa"/><stop offset="13.3%" stop-color="#bc7efa"/><stop offset="13.7%" stop-color="#cf61c2"/><stop offset="14.3%" stop-color="#cf61c2"/><stop offset="14.7%" stop-color="#db4991"/><stop offset="15.3%" stop-color="#db4991"/><stop offset="15.7%" stop-color="#e5366b"/><stop offset="16.3%" stop-color="#e5366b"/><stop offset="16.7%" stop-color="#eb284f"/><stop offset="17.3%" stop-color="#eb284f"/><stop offset="17.7%" stop-color="#f01e3c"/><stop offset="18.3%" stop-color="#f01e3c"/><stop offset="18.7%" stop-color="#f31830"/><stop offset="19.3%" stop-color="#f31830"/><stop offset="19.7%" stop-color="#f51428"/><stop offset="20.3%" stop-color="#f51428"/><stop offset="20.7%" stop-color="#f61224"/><stop offset="22.3%" stop-color="#f61224"/><stop offset="22.7%" stop-color="#f51428"/><stop offset="23.3%" stop-color="#f51428"/><stop offset="23.7%" stop-color="#f31830"/><stop offset="24.3%" stop-color="#f31830"/><stop offset="24.7%" stop-color="#f01e3c"/><stop offset="25.3%" stop-color="#f01e3c"/><stop offset="25.7%" stop-color="#eb284f"/><stop offset="26.3%" stop-color="#eb284f"/><stop offset="26.7%" stop-color="#e5366b"/><stop offset="27.3%" stop-color="#e5366b"/><stop offset="27.7%" stop-color="#db4991"/><stop offset="28.3%" stop-color="#db4991"/><stop offset="28.7%" stop-color="#cf61c2"/><stop offset="29.3%" stop-color="#cf61c2"/><stop offset="29.7%" stop-color="#bc7efa"/><stop offset="30.3%" stop-color="#bc7efa"/><stop offset="30.7%" stop-color="#8a5cb8"/><stop offset="32.3%" stop-color="#8a5cb8"/><stop offset="32.7%" stop-color="#bc7dfa"/><stop offset="33.3%" stop-color="#bc7dfa"/><stop offset="33.7%" stop-color="#cf62c3"/><stop offset="34.3%" stop-color="#cf62c3"/><stop offset="34.7%" stop-color="#db4992"/><stop offset="35.3%" stop-color="#db4992"/><stop offset="35.7%" stop-color="#e4366d"/><stop offset="36.3%" stop-color="#e4366d"/><stop offset="36.7%" stop-color="#eb2951"/><stop offset="37.3%" stop-color="#eb2951"/><stop offset="37.7%" stop-color="#f01f3e"/><stop offset="38.3%" stop-color="#f01f3e"/><stop offset="38.7%" stop-color="#f31932"/><stop offset="39.3%" stop-color="#f31932"/><stop offset="39.7%" stop-color="#f5152a"/><stop offset="40.3%" stop-color="#f5152a"/><stop offset="40.7%" stop-color="#f51327"/><stop offset="42.3%" stop-color="#f51327"/><stop offset="42.7%" stop-color="#f5152a"/><stop offset="43.3%" stop-color="#f5152a"/><stop offset="43.7%" stop-color="#f31932"/><stop offset="44.3%" stop-color="#f31932"/><stop offset="44.7%" stop-color="#f01f3e"/><stop offset="45.3%" stop-color="#f01f3e"/><stop offset="45.7%" stop-color="#eb2951"/><stop offset="46.3%" stop-color="#eb2951"/><stop offset="46.7%" stop-color="#e4366d"/><stop offset="47.3%" stop-color="#e4366d"/><stop offset="47.7%" stop-color="#db4992"/><stop offset="48.3%" stop-color="#db4992"/><stop offset="48.7%" stop-color="#cf62c3"/><stop offset="49.3%" stop-color="#cf62c3"/><stop offset="49.7%" stop-color="#bc7dfa"/><stop offset="50.3%" stop-color="#bc7dfa"/><stop offset="50.7%" stop-color="#8a5cb8"/><stop offset="52.3%" stop-color="#8a5cb8"/><stop offset="52.7%" stop-color="#bc7dfa"/><stop offset="53.3%" stop-color="#bc7dfa"/><stop offset="53.7%" stop-color="#cf62c3"/><stop offset="54.3%" stop-color="#cf62c3"/><stop offset="54.7%" stop-color="#db4992"/><stop offset="55.3%" stop-color="#db4992"/><stop offset="55.7%" stop-color="#e4366d"/><stop offset="56.3%" stop-color="#e4366d"/><stop offset="56.7%" stop-color="#eb2951"/><stop offset="57.3%" stop-color="#eb2951"/><stop offset="57.7%" stop-color="#f01f3e"/><stop offset="58.3%" stop-color="#f01f3e"/><stop offset="58.7%" stop-color="#f31932"/><stop offset="59.3%" stop-color="#f31932"/><stop offset="59.7%" stop-color="#f5152a"/><stop offset="60.3%" stop-color="#f5152a"/><stop offset="60.7%" stop-color="#f51327"/><stop offset="62.3%" stop-color="#f51327"/><stop offset="62.7%" stop-color="#f5152a"/><stop offset="63.3%" stop-color="#f5152a"/><stop offset="63.7%" stop-color="#f31932"/><stop offset="64.3%" stop-color="#f31932"/><stop offset="64.7%" stop-color="#f01f3e"/><stop offset="65.3%" stop-color="#f01f3e"/><stop offset="65.7%" stop-color="#eb2951"/><stop offset="66.3%" stop-color="#eb2951"/><stop offset="66.7%" stop-color="#e4366d"/><stop offset="67.3%" stop-color="#e4366d"/><stop offset="67.7%" stop-color="#db4992"/><stop offset="68.3%" stop-color="#db4992"/><stop offset="68.7%" stop-color="#cf62c3"/><stop offset="69.3%" stop-color="#cf62c3"/><stop offset="69.7%" stop-color="#bc7dfa"/><stop offset="70.3%" stop-color="#bc7dfa"/><stop offset="70.7%" stop-color="#8a5cb8"/><stop offset="72.3%" stop-color="#8a5cb8"/><stop offset="72.7%" stop-color="#bc7dfa"/><stop offset="73.3%" stop-color="#bc7dfa"/><stop offset="73.7%" stop-color="#cf62c3"/><stop offset="74.3%" stop-color="#cf62c3"/><stop offset="74.7%" stop-color="#db4992"/><stop offset="75.3%" stop-color="#db4992"/><stop offset="75.7%" stop-color="#e4366d"/><stop offset="76.3%" stop-color="#e4366d"/><stop offset="76.7%" stop-color="#eb2951"/><stop offset="77.3%" stop-color="#eb2951"/><stop offset="77.7%" stop-color="#f01f3e"/><stop offset="78.3%" stop-color="#f01f3e"/><stop offset="78.7%" stop-color="#f31932"/><stop offset="79.3%" stop-color="#f31932"/><stop offset="79.7%" stop-color="#f5152a"/><stop offset="80.3%" stop-color="#f5152a"/><stop offset="80.7%" stop-color="#f51327"/><stop offset="82.3%" stop-color="#f51327"/><stop offset="82.7%" stop-color="#f5152a"/><stop offset="83.3%" stop-color="#f5152a"/><stop offset="83.7%" stop-color="#f31932"/><stop offset="84.3%" stop-color="#f31932"/><stop offset="84.7%" stop-color="#f01f3e"/><stop offset="85.3%" stop-color="#f01f3e"/><stop offset="85.7%" stop-color="#eb2951"/><stop offset="86.3%" stop-color="#eb2951"/><stop offset="86.7%" stop-color="#e4366d"/><stop offset="87.3%" stop-color="#e4366d"/><stop offset="87.7%" stop-color="#db4992"/><stop offset="88.3%" stop-color="#db4992"/><stop offset="88.7%" stop-color="#cf62c3"/><stop offset="89.3%" stop-color="#cf62c3"/><stop offset="89.7%" stop-color="#bc7dfa"/><stop offset="90.3%" stop-color="#bc7dfa"/><stop offset="90.7%" stop-color="#8a5cb8"/><stop offset="92.3%" stop-color="#8a5cb8"/><stop offset="92.7%" stop-color="#bc7dfa"/><stop offset="93.3%" stop-color="#bc7dfa"/><stop offset="93.7%" stop-color="#cf62c3"/><stop offset="94.3%" stop-color="#cf62c3"/><stop offset="94.7%" stop-color="#db4992"/><stop offset="95.3%" stop-color="#db4992"/><stop offset="95.7%" stop-color="#e4366d"/><stop offset="96.3%" stop-color="#e4366d"/><stop offset="96.7%" stop-color="#eb2951"/><stop offset="97.3%" stop-color="#eb2951"/><stop offset="97.7%" stop-color="#f01f3e"/><stop offset="98.3%" stop-color="#f01f3e"/><stop offset="98.7%" stop-color="#f31932"/><stop offset="99.3%" stop-color="#f31932"/></linearGradient><linearGradient id="g26" gradientUnits="userSpaceOnUse" x1="0" y1="859.4" x2="0" y2="514.8"><stop offset="0%" stop-color="#f51327"/><stop offset="0.3%" stop-color="#f51327"/><stop offset="0.7%" stop-color="#f61223"/><stop offset="2.3%" stop-color="#f61223"/><stop offset="2.7%" stop-color="#f51327"/><stop offset="3.3%" stop-color="#f51327"/><stop offset="3.7%" stop-color="#f3172f"/><stop offset="4.3%" stop-color="#f3172f"/><stop offset="4.7%" stop-color="#f01e3b"/><stop offset="5.3%" stop-color="#f01e3b"/><stop offset="5.7%" stop-color="#eb284f"/><stop offset="6.3%" stop-color="#eb284f"/><stop offset="6.7%" stop-color="#e5366b"/><stop offset="7.3%" stop-color="#e5366b"/><stop offset="7.7%" stop-color="#db4992"/><stop offset="8.3%" stop-color="#db4992"/><stop offset="8.7%" stop-color="#cf62c4"/><stop offset="9.3%" stop-color="#cf62c4"/><stop offset="9.7%" stop-color="#ba7cf7"/><stop offset="10.3%" stop-color="#ba7cf7"/><stop offset="10.7%" stop-color="#875ab4"/><stop offset="12.3%" stop-color="#875ab4"/><stop offset="12.7%" stop-color="#bb7cf8"/><stop offset="13.3%" stop-color="#bb7cf8"/><stop offset="13.7%" stop-color="#cf62c2"/><stop offset="14.3%" stop-color="#cf62c2"/><stop offset="14.7%" stop-color="#db4890"/><stop offset="15.3%" stop-color="#db4890"/><stop offset="15.7%" stop-color="#e53569"/><stop offset="16.3%" stop-color="#e53569"/><stop offset="16.7%" stop-color="#ec274d"/><stop offset="17.3%" stop-color="#ec274d"/><stop offset="17.7%" stop-color="#f11c39"/><stop offset="18.3%" stop-color="#f11c39"/><stop offset="18.7%" stop-color="#f4162c"/><stop offset="19.3%" stop-color="#f4162c"/><stop offset="19.7%" stop-color="#f61224"/><stop offset="20.3%" stop-color="#f61224"/><stop offset="20.7%" stop-color="#f71021"/><stop offset="22.3%" stop-color="#f71021"/><stop offset="22.7%" stop-color="#f61224"/><stop offset="23.3%" stop-color="#f61224"/><stop offset="23.7%" stop-color="#f4162c"/><stop offset="24.3%" stop-color="#f4162c"/><stop offset="24.7%" stop-color="#f11c39"/><stop offset="25.3%" stop-color="#f11c39"/><stop offset="25.7%" stop-color="#ec274d"/><stop offset="26.3%" stop-color="#ec274d"/><stop offset="26.7%" stop-color="#e53569"/><stop offset="27.3%" stop-color="#e53569"/><stop offset="27.7%" stop-color="#db4890"/><stop offset="28.3%" stop-color="#db4890"/><stop offset="28.7%" stop-color="#cf62c2"/><stop offset="29.3%" stop-color="#cf62c2"/><stop offset="29.7%" stop-color="#bb7cf8"/><stop offset="30.3%" stop-color="#bb7cf8"/><stop offset="30.7%" stop-color="#875ab4"/><stop offset="32.3%" stop-color="#875ab4"/><stop offset="32.7%" stop-color="#ba7cf7"/><stop offset="33.3%" stop-color="#ba7cf7"/><stop offset="33.7%" stop-color="#cf62c4"/><stop offset="34.3%" stop-color="#cf62c4"/><stop offset="34.7%" stop-color="#db4992"/><stop offset="35.3%" stop-color="#db4992"/><stop offset="35.7%" stop-color="#e5366b"/><stop offset="36.3%" stop-color="#e5366b"/><stop offset="36.7%" stop-color="#eb284f"/><stop offset="37.3%" stop-color="#eb284f"/><stop offset="37.7%" stop-color="#f01e3b"/><stop offset="38.3%" stop-color="#f01e3b"/><stop offset="38.7%" stop-color="#f3172f"/><stop offset="39.3%" stop-color="#f3172f"/><stop offset="39.7%" stop-color="#f51327"/><stop offset="40.3%" stop-color="#f51327"/><stop offset="40.7%" stop-color="#f61223"/><stop offset="42.3%" stop-color="#f61223"/><stop offset="42.7%" stop-color="#f51327"/><stop offset="43.3%" stop-color="#f51327"/><stop offset="43.7%" stop-color="#f3172f"/><stop offset="44.3%" stop-color="#f3172f"/><stop offset="44.7%" stop-color="#f01e3b"/><stop offset="45.3%" stop-color="#f01e3b"/><stop offset="45.7%" stop-color="#eb284f"/><stop offset="46.3%" stop-color="#eb284f"/><stop offset="46.7%" stop-color="#e5366b"/><stop offset="47.3%" stop-color="#e5366b"/><stop offset="47.7%" stop-color="#db4992"/><stop offset="48.3%" stop-color="#db4992"/><stop offset="48.7%" stop-color="#cf62c4"/><stop offset="49.3%" stop-color="#cf62c4"/><stop offset="49.7%" stop-color="#ba7cf7"/><stop offset="50.3%" stop-color="#ba7cf7"/><stop offset="50.7%" stop-color="#875ab4"/><stop offset="52.3%" stop-color="#875ab4"/><stop offset="52.7%" stop-color="#ba7cf7"/><stop offset="53.3%" stop-color="#ba7cf7"/><stop offset="53.7%" stop-color="#cf62c4"/><stop offset="54.3%" stop-color="#cf62c4"/><stop offset="54.7%" stop-color="#db4992"/><stop offset="55.3%" stop-color="#db4992"/><stop offset="55.7%" stop-color="#e5366b"/><stop offset="56.3%" stop-color="#e5366b"/><stop offset="56.7%" stop-color="#eb284f"/><stop offset="57.3%" stop-color="#eb284f"/><stop offset="57.7%" stop-color="#f01e3b"/><stop offset="58.3%" stop-color="#f01e3b"/><stop offset="58.7%" stop-color="#f3172f"/><stop offset="59.3%" stop-color="#f3172f"/><stop offset="59.7%" stop-color="#f51327"/><stop offset="60.3%" stop-color="#f51327"/><stop offset="60.7%" stop-color="#f61223"/><stop offset="62.3%" stop-color="#f61223"/><stop offset="62.7%" stop-color="#f51327"/><stop offset="63.3%" stop-color="#f51327"/><stop offset="63.7%" stop-color="#f3172f"/><stop offset="64.3%" stop-color="#f3172f"/><stop offset="64.7%" stop-color="#f01e3b"/><stop offset="65.3%" stop-color="#f01e3b"/><stop offset="65.7%" stop-color="#eb284f"/><stop offset="66.3%" stop-color="#eb284f"/><stop offset="66.7%" stop-color="#e5366b"/><stop offset="67.3%" stop-color="#e5366b"/><stop offset="67.7%" stop-color="#db4992"/><stop offset="68.3%" stop-color="#db4992"/><stop offset="68.7%" stop-color="#cf62c4"/><stop offset="69.3%" stop-color="#cf62c4"/><stop offset="69.7%" stop-color="#ba7cf7"/><stop offset="70.3%" stop-color="#ba7cf7"/><stop offset="70.7%" stop-color="#875ab4"/><stop offset="72.3%" stop-color="#875ab4"/><stop offset="72.7%" stop-color="#ba7cf7"/><stop offset="73.3%" stop-color="#ba7cf7"/><stop offset="73.7%" stop-color="#cf62c4"/><stop offset="74.3%" stop-color="#cf62c4"/><stop offset="74.7%" stop-color="#db4992"/><stop offset="75.3%" stop-color="#db4992"/><stop offset="75.7%" stop-color="#e5366b"/><stop offset="76.3%" stop-color="#e5366b"/><stop offset="76.7%" stop-color="#eb284f"/><stop offset="77.3%" stop-color="#eb284f"/><stop offset="77.7%" stop-color="#f01e3b"/><stop offset="78.3%" stop-color="#f01e3b"/><stop offset="78.7%" stop-color="#f3172f"/><stop offset="79.3%" stop-color="#f3172f"/><stop offset="79.7%" stop-color="#f51327"/><stop offset="80.3%" stop-color="#f51327"/><stop offset="80.7%" stop-color="#f61223"/><stop offset="82.3%" stop-color="#f61223"/><stop offset="82.7%" stop-color="#f51327"/><stop offset="83.3%" stop-color="#f51327"/><stop offset="83.7%" stop-color="#f3172f"/><stop offset="84.3%" stop-color="#f3172f"/><stop offset="84.7%" stop-color="#f01e3b"/><stop offset="85.3%" stop-color="#f01e3b"/><stop offset="85.7%" stop-color="#eb284f"/><stop offset="86.3%" stop-color="#eb284f"/><stop offset="86.7%" stop-color="#e5366b"/><stop offset="87.3%" stop-color="#e5366b"/><stop offset="87.7%" stop-color="#db4992"/><stop offset="88.3%" stop-color="#db4992"/><stop offset="88.7%" stop-color="#cf62c4"/><stop offset="89.3%" stop-color="#cf62c4"/><stop offset="89.7%" stop-color="#ba7cf7"/><stop offset="90.3%" stop-color="#ba7cf7"/><stop offset="90.7%" stop-color="#875ab4"/><stop offset="92.3%" stop-color="#875ab4"/><stop offset="92.7%" stop-color="#ba7cf7"/><stop offset="93.3%" stop-color="#ba7cf7"/><stop offset="93.7%" stop-color="#cf62c4"/><stop offset="94.3%" stop-color="#cf62c4"/><stop offset="94.7%" stop-color="#db4992"/><stop offset="95.3%" stop-color="#db4992"/><stop offset="95.7%" stop-color="#e5366b"/><stop offset="96.3%" stop-color="#e5366b"/><stop offset="96.7%" stop-color="#eb284f"/><stop offset="97.3%" stop-color="#eb284f"/><stop offset="97.7%" stop-color="#f01e3b"/><stop offset="98.3%" stop-color="#f01e3b"/><stop offset="98.7%" stop-color="#f3172f"/><stop offset="99.3%" stop-color="#f3172f"/></linearGradient><linearGradient id="g27" gradientUnits="userSpaceOnUse" x1="0" y1="859.4" x2="0" y2="514.8"><stop offset="0%" stop-color="#f61224"/><stop offset="2.3%" stop-color="#f71021"/><stop offset="2.7%" stop-color="#f61224"/><stop offset="3.3%" stop-color="#f61224"/><stop offset="3.7%" stop-color="#f4162c"/><stop offset="4.3%" stop-color="#f4162c"/><stop offset="4.7%" stop-color="#f11c39"/><stop offset="5.3%" stop-color="#f11c39"/><stop offset="5.7%" stop-color="#ec274d"/><stop offset="6.3%" stop-color="#ec274d"/><stop offset="6.7%" stop-color="#e53569"/><stop offset="7.3%" stop-color="#e53569"/><stop offset="7.7%" stop-color="#db4890"/><stop offset="8.3%" stop-color="#db4890"/><stop offset="8.7%" stop-color="#cf62c2"/><stop offset="9.3%" stop-color="#cf62c2"/><stop offset="9.7%" stop-color="#bb7cf8"/><stop offset="10.3%" stop-color="#bb7cf8"/><stop offset="10.7%" stop-color="#875ab4"/><stop offset="12.3%" stop-color="#875ab4"/><stop offset="12.7%" stop-color="#bb7cf8"/><stop offset="13.3%" stop-color="#bb7cf8"/><stop offset="13.7%" stop-color="#cf62c2"/><stop offset="14.3%" stop-color="#cf62c2"/><stop offset="14.7%" stop-color="#db4890"/><stop offset="15.3%" stop-color="#db4890"/><stop offset="15.7%" stop-color="#e53569"/><stop offset="16.3%" stop-color="#e53569"/><stop offset="16.7%" stop-color="#ec274d"/><stop offset="17.3%" stop-color="#ec274d"/><stop offset="17.7%" stop-color="#f11c39"/><stop offset="18.3%" stop-color="#f11c39"/><stop offset="18.7%" stop-color="#f4162c"/><stop offset="19.3%" stop-color="#f4162c"/><stop offset="19.7%" stop-color="#f61224"/><stop offset="20.3%" stop-color="#f61224"/><stop offset="20.7%" stop-color="#f71021"/><stop offset="22.3%" stop-color="#f71021"/><stop offset="22.7%" stop-color="#f61224"/><stop offset="23.3%" stop-color="#f61224"/><stop offset="23.7%" stop-color="#f4162c"/><stop offset="24.3%" stop-color="#f4162c"/><stop offset="24.7%" stop-color="#f11c39"/><stop offset="25.3%" stop-color="#f11c39"/><stop offset="25.7%" stop-color="#ec274d"/><stop offset="26.3%" stop-color="#ec274d"/><stop offset="26.7%" stop-color="#e53569"/><stop offset="27.3%" stop-color="#e53569"/><stop offset="27.7%" stop-color="#db4890"/><stop offset="28.3%" stop-color="#db4890"/><stop offset="28.7%" stop-color="#cf62c2"/><stop offset="29.3%" stop-color="#cf62c2"/><stop offset="29.7%" stop-color="#bb7cf8"/><stop offset="30.3%" stop-color="#bb7cf8"/><stop offset="30.7%" stop-color="#875ab4"/><stop offset="32.3%" stop-color="#875ab4"/><stop offset="32.7%" stop-color="#bb7cf8"/><stop offset="33.3%" stop-color="#bb7cf8"/><stop offset="33.7%" stop-color="#cf62c2"/><stop offset="34.3%" stop-color="#cf62c2"/><stop offset="34.7%" stop-color="#db4890"/><stop offset="35.3%" stop-color="#db4890"/><stop offset="35.7%" stop-color="#e53569"/><stop offset="36.3%" stop-color="#e53569"/><stop offset="36.7%" stop-color="#ec274d"/><stop offset="37.3%" stop-color="#ec274d"/><stop offset="37.7%" stop-color="#f11c39"/><stop offset="38.3%" stop-color="#f11c39"/><stop offset="38.7%" stop-color="#f4162c"/><stop offset="39.3%" stop-color="#f4162c"/><stop offset="39.7%" stop-color="#f61224"/><stop offset="40.3%" stop-color="#f61224"/><stop offset="40.7%" stop-color="#f71021"/><stop offset="42.3%" stop-color="#f71021"/><stop offset="42.7%" stop-color="#f61224"/><stop offset="43.3%" stop-color="#f61224"/><stop offset="43.7%" stop-color="#f4162c"/><stop offset="44.3%" stop-color="#f4162c"/><stop offset="44.7%" stop-color="#f11c39"/><stop offset="45.3%" stop-color="#f11c39"/><stop offset="45.7%" stop-color="#ec274d"/><stop offset="46.3%" stop-color="#ec274d"/><stop offset="46.7%" stop-color="#e53569"/><stop offset="47.3%" stop-color="#e53569"/><stop offset="47.7%" stop-color="#db4890"/><stop offset="48.3%" stop-color="#db4890"/><stop offset="48.7%" stop-color="#cf62c2"/><stop offset="49.3%" stop-color="#cf62c2"/><stop offset="49.7%" stop-color="#bb7cf8"/><stop offset="50.3%" stop-color="#bb7cf8"/><stop offset="50.7%" stop-color="#875ab4"/><stop offset="52.3%" stop-color="#875ab4"/><stop offset="52.7%" stop-color="#bb7cf8"/><stop offset="53.3%" stop-color="#bb7cf8"/><stop offset="53.7%" stop-color="#cf62c2"/><stop offset="54.3%" stop-color="#cf62c2"/><stop offset="54.7%" stop-color="#db4890"/><stop offset="55.3%" stop-color="#db4890"/><stop offset="55.7%" stop-color="#e53569"/><stop offset="56.3%" stop-color="#e53569"/><stop offset="56.7%" stop-color="#ec274d"/><stop offset="57.3%" stop-color="#ec274d"/><stop offset="57.7%" stop-color="#f11c39"/><stop offset="58.3%" stop-color="#f11c39"/><stop offset="58.7%" stop-color="#f4162c"/><stop offset="59.3%" stop-color="#f4162c"/><stop offset="59.7%" stop-color="#f61224"/><stop offset="60.3%" stop-color="#f61224"/><stop offset="60.7%" stop-color="#f71021"/><stop offset="62.3%" stop-color="#f71021"/><stop offset="62.7%" stop-color="#f61224"/><stop offset="63.3%" stop-color="#f61224"/><stop offset="63.7%" stop-color="#f4162c"/><stop offset="64.3%" stop-color="#f4162c"/><stop offset="64.7%" stop-color="#f11c39"/><stop offset="65.3%" stop-color="#f11c39"/><stop offset="65.7%" stop-color="#ec274d"/><stop offset="66.3%" stop-color="#ec274d"/><stop offset="66.7%" stop-color="#e53569"/><stop offset="67.3%" stop-color="#e53569"/><stop offset="67.7%" stop-color="#db4890"/><stop offset="68.3%" stop-color="#db4890"/><stop offset="68.7%" stop-color="#cf62c2"/><stop offset="69.3%" stop-color="#cf62c2"/><stop offset="69.7%" stop-color="#bb7cf8"/><stop offset="70.3%" stop-color="#bb7cf8"/><stop offset="70.7%" stop-color="#875ab4"/><stop offset="72.3%" stop-color="#875ab4"/><stop offset="72.7%" stop-color="#bb7cf8"/><stop offset="73.3%" stop-color="#bb7cf8"/><stop offset="73.7%" stop-color="#cf62c2"/><stop offset="74.3%" stop-color="#cf62c2"/><stop offset="74.7%" stop-color="#db4890"/><stop offset="75.3%" stop-color="#db4890"/><stop offset="75.7%" stop-color="#e53569"/><stop offset="76.3%" stop-color="#e53569"/><stop offset="76.7%" stop-color="#ec274d"/><stop offset="77.3%" stop-color="#ec274d"/><stop offset="77.7%" stop-color="#f11c39"/><stop offset="78.3%" stop-color="#f11c39"/><stop offset="78.7%" stop-color="#f4162c"/><stop offset="79.3%" stop-color="#f4162c"/><stop offset="79.7%" stop-color="#f61224"/><stop offset="80.3%" stop-color="#f61224"/><stop offset="80.7%" stop-color="#f71021"/><stop offset="82.3%" stop-color="#f71021"/><stop offset="82.7%" stop-color="#f61224"/><stop offset="83.3%" stop-color="#f61224"/><stop offset="83.7%" stop-color="#f4162c"/><stop offset="84.3%" stop-color="#f4162c"/><stop offset="84.7%" stop-color="#f11c39"/><stop offset="85.3%" stop-color="#f11c39"/><stop offset="85.7%" stop-color="#ec274d"/><stop offset="86.3%" stop-color="#ec274d"/><stop offset="86.7%" stop-color="#e53569"/><stop offset="87.3%" stop-color="#e53569"/><stop offset="87.7%" stop-color="#db4890"/><stop offset="88.3%" stop-color="#db4890"/><stop offset="88.7%" stop-color="#cf62c2"/><stop offset="89.3%" stop-color="#cf62c2"/><stop offset="89.7%" stop-color="#bb7cf8"/><stop offset="90.3%" stop-color="#bb7cf8"/><stop offset="90.7%" stop-color="#875ab4"/><stop offset="92.3%" stop-color="#875ab4"/><stop offset="92.7%" stop-color="#bb7cf8"/><stop offset="93.3%" stop-color="#bb7cf8"/><stop offset="93.7%" stop-color="#cf62c2"/><stop offset="94.3%" stop-color="#cf62c2"/><stop offset="94.7%" stop-color="#db4890"/><stop offset="95.3%" stop-color="#db4890"/><stop offset="95.7%" stop-color="#e53569"/><stop offset="96.3%" stop-color="#e53569"/><stop offset="96.7%" stop-color="#ec274d"/><stop offset="97.3%" stop-color="#ec274d"/><stop offset="97.7%" stop-color="#f11c39"/><stop offset="98.3%" stop-color="#f11c39"/><stop offset="98.7%" stop-color="#f4162c"/><stop offset="99.3%" stop-color="#f4162c"/></linearGradient><linearGradient id="rp" x1="0" y1="0" x2="1" y2="0"><stop offset="0" stop-color="#fff" stop-opacity="0"/><stop offset="1" stop-color="#fff" stop-opacity="1"/></linearGradient><mask id="mk" maskContentUnits="objectBoundingBox"><rect x="0" y="0" width="1" height="1" fill="url(#rp)"/></mask><linearGradient id="cbg" gradientUnits="userSpaceOnUse" x1="0" y1="859.4" x2="0" y2="514.8"><stop offset="0" stop-color="#fff"/><stop offset="0.3333" stop-color="#f00"/><stop offset="0.6667" stop-color="#c080ff"/><stop offset="1" stop-color="#000"/></linearGradient></defs>
<rect width="1550" height="955" fill="#fff"/>
<clipPath id="ca"><rect x="134.2" y="13.2" width="606.7" height="345"/></clipPath>
<line x1="134.2" x2="146.8" y1="306.45" y2="306.45" stroke="#000" stroke-width="1.3"/>
<line x1="134.2" x2="146.8" y1="237.45" y2="237.45" stroke="#000" stroke-width="1.3"/>
<line x1="134.2" x2="146.8" y1="168.45" y2="168.45" stroke="#000" stroke-width="1.3"/>
<line x1="134.2" x2="146.8" y1="99.45" y2="99.45" stroke="#000" stroke-width="1.3"/>
<line x1="134.2" x2="146.8" y1="30.45" y2="30.45" stroke="#000" stroke-width="1.3"/>
<line x1="285.88" x2="285.88" y1="358.2" y2="345.6" stroke="#000" stroke-width="1.3"/>
<line x1="437.55" x2="437.55" y1="358.2" y2="345.6" stroke="#000" stroke-width="1.3"/>
<line x1="589.23" x2="589.23" y1="358.2" y2="345.6" stroke="#000" stroke-width="1.3"/>
<rect x="134.2" y="13.2" width="606.7" height="86.25" fill="#bebebe"/>
<path d="M134.2,99.45 L136.1,99.45 L137.99,99.46 L139.89,99.46 L141.79,99.47 L143.68,99.48 L145.58,99.5 L147.47,99.52 L149.37,99.54 L151.26,99.56 L153.16,99.58 L155.05,99.61 L156.95,99.64 L158.84,99.68 L160.74,99.71 L162.63,99.75 L164.52,99.8 L166.42,99.84 L168.31,99.89 L170.2,99.94 L172.09,99.99 L173.98,100.04 L175.87,100.1 L177.76,100.16 L179.65,100.23 L181.54,100.29 L183.42,100.36 L185.31,100.43 L187.19,100.51 L189.08,100.58 L190.96,100.66 L192.85,100.74 L194.73,100.83 L196.61,100.92 L198.49,101.01 L200.37,101.1 L202.25,101.2 L204.12,101.29 L206,101.39 L207.87,101.5 L209.75,101.6 L211.62,101.71 L213.49,101.82 L215.36,101.94 L217.23,102.05 L219.1,102.17 L220.96,102.3 L222.83,102.42 L224.69,102.55 L226.55,102.68 L228.42,102.81 L230.27,102.95 L232.13,103.08 L233.99,103.22 L235.84,103.37 L237.7,103.51 L239.55,103.66 L241.4,103.81 L243.25,103.97 L245.09,104.12 L246.94,104.28 L248.78,104.44 L250.62,104.61 L252.46,104.78 L254.3,104.95 L256.14,105.12 L257.97,105.29 L259.8,105.47 L261.63,105.65 L263.46,105.83 L265.29,106.02 L267.11,106.2 L268.93,106.4 L270.75,106.59 L272.57,106.78 L274.39,106.98 L276.2,107.18 L278.01,107.39 L279.82,107.59 L281.63,107.8 L283.43,108.01 L285.24,108.22 L287.04,108.44 L288.84,108.66 L290.63,108.88 L292.42,109.1 L294.21,109.33 L296,109.56 L297.79,109.79 L299.57,110.02 L301.35,110.26 L303.13,110.5 L304.9,110.74 L306.68,110.99 L308.45,111.23 L310.21,111.48 L311.98,111.73 L313.74,111.99 L315.5,112.24 L317.26,112.5 L319.01,112.76 L320.76,113.03 L322.51,113.3 L324.25,113.56 L326,113.84 L327.73,114.11 L329.47,114.39 L331.2,114.67 L332.93,114.95 L334.66,115.23 L336.38,115.52 L338.11,115.81 L339.82,116.1 L341.54,116.39 L343.25,116.69 L344.96,116.99 L346.66,117.29 L348.36,117.59 L350.06,117.9 L351.76,118.2 L353.45,118.51 L355.14,118.83 L356.82,119.14 L358.5,119.46 L360.18,119.78 L361.85,120.1 L363.52,120.43 L365.19,120.76 L366.85,121.09 L368.51,121.42 L370.17,121.75 L371.82,122.09 L373.47,122.43 L375.12,122.77 L376.76,123.11 L378.4,123.46 L380.03,123.81 L381.66,124.16 L383.29,124.51 L384.91,124.87 L386.53,125.23 L388.15,125.59 L389.76,125.95 L391.37,126.31 L392.97,126.68 L394.57,127.05 L396.16,127.42 L397.75,127.79 L399.34,128.17 L400.92,128.55 L402.5,128.93 L404.08,129.31 L405.65,129.7 L407.22,130.08 L408.78,130.47 L410.34,130.86 L411.89,131.26 L413.44,131.65 L414.98,132.05 L416.52,132.45 L418.06,132.86 L419.59,133.26 L421.12,133.67 L422.64,134.08 L424.16,134.49 L425.68,134.9 L427.19,135.32 L428.69,135.74 L430.19,136.16 L431.69,136.58 L433.18,137 L434.67,137.43 L436.15,137.86 L437.63,138.29 L439.1,138.72 L440.57,139.15 L442.03,139.59 L443.49,140.03 L444.95,140.47 L446.4,140.91 L447.84,141.36 L449.28,141.81 L450.71,142.25 L452.14,142.71 L453.57,143.16 L454.99,143.61 L456.4,144.07 L457.81,144.53 L459.22,144.99 L460.62,145.46 L462.02,145.92 L463.41,146.39 L464.79,146.86 L466.17,147.33 L467.55,147.8 L468.91,148.28 L470.28,148.75 L471.64,149.23 L472.99,149.71 L474.34,150.2 L475.69,150.68 L477.02,151.17 L478.36,151.66 L479.68,152.15 L481.01,152.64 L482.32,153.13 L483.64,153.63 L484.94,154.13 L486.24,154.63 L487.54,155.13 L488.83,155.63 L490.11,156.14 L491.39,156.65 L492.67,157.15 L493.93,157.66 L495.2,158.18 L496.45,158.69 L497.7,159.21 L498.95,159.73 L500.19,160.25 L501.43,160.77 L502.65,161.29 L503.88,161.81 L505.09,162.34 L506.31,162.87 L507.51,163.4 L508.71,163.93 L509.91,164.47 L511.1,165 L512.28,165.54 L513.46,166.08 L514.63,166.62 L515.79,167.16 L516.95,167.7 L518.11,168.25 L519.25,168.79 L520.39,169.34 L521.53,169.89 L522.66,170.44 L523.78,171 L524.9,171.55 L526.01,172.11 L527.12,172.67 L528.22,173.23 L529.31,173.79 L530.4,174.35 L531.48,174.92 L532.56,175.48 L533.62,176.05 L534.69,176.62 L535.74,177.19 L536.79,177.76 L537.84,178.33 L538.88,178.91 L539.91,179.48 L540.93,180.06 L541.95,180.64 L542.97,181.22 L543.97,181.8 L544.97,182.39 L545.97,182.97 L546.96,183.56 L547.94,184.15 L548.91,184.74 L549.88,185.33 L550.84,185.92 L551.8,186.51 L552.75,187.11 L553.69,187.7 L554.63,188.3 L555.56,188.9 L556.48,189.5 L557.4,190.1 L558.31,190.7 L559.21,191.31 L560.11,191.91 L561,192.52 L561.88,193.12 L562.76,193.73 L563.63,194.34 L564.5,194.96 L565.35,195.57 L566.21,196.18 L567.05,196.8 L567.89,197.41 L568.72,198.03 L569.54,198.65 L570.36,199.27 L571.17,199.89 L571.98,200.51 L572.77,201.14 L573.56,201.76 L574.35,202.38 L575.12,203.01 L575.89,203.64 L576.66,204.27 L577.41,204.9 L578.16,205.53 L578.91,206.16 L579.64,206.79 L580.37,207.43 L581.09,208.06 L581.81,208.7 L582.52,209.34 L583.22,209.97 L583.91,210.61 L584.6,211.25 L585.28,211.89 L585.96,212.54 L586.62,213.18 L587.28,213.82 L587.94,214.47 L588.58,215.11 L589.22,215.76 L589.85,216.41 L590.48,217.06 L591.1,217.71 L591.71,218.36 L592.31,219.01 L592.91,219.66 L593.5,220.31 L594.08,220.97 L594.65,221.62 L595.22,222.28 L595.78,222.93 L596.34,223.59 L596.89,224.25 L597.43,224.91 L597.96,225.57 L598.48,226.23 L599,226.89 L599.51,227.55 L600.02,228.21 L600.51,228.87 L601,229.54 L601.49,230.2 L601.96,230.87 L602.43,231.53 L602.89,232.2 L603.34,232.86 L603.79,233.53 L604.23,234.2 L604.66,234.87 L605.09,235.54 L605.5,236.21 L605.91,236.88 L606.32,237.55 L606.71,238.22 L607.1,238.89 L607.48,239.57 L607.85,240.24 L608.22,240.91 L608.58,241.59 L608.93,242.26 L609.28,242.94 L609.61,243.62 L609.94,244.29 L610.26,244.97 L610.58,245.65 L610.89,246.32 L611.19,247 L611.48,247.68 L611.77,248.36 L612.04,249.04 L612.32,249.72 L612.58,250.4 L612.83,251.08 L613.08,251.76 L613.33,252.44 L613.56,253.12 L613.79,253.81 L614,254.49 L614.22,255.17 L614.42,255.85 L614.62,256.54 L614.81,257.22 L614.99,257.9 L615.16,258.59 L615.33,259.27 L615.49,259.96 L615.64,260.64 L615.79,261.33 L615.93,262.01 L616.06,262.7 L616.18,263.38 L616.3,264.07 L616.4,264.75 L616.5,265.44 L616.6,266.13 L616.68,266.81 L616.76,267.5 L616.83,268.18 L616.89,268.87 L616.95,269.56 L617,270.24 L617.04,270.93 L617.07,271.62 L617.1,272.3 L617.12,272.99 L617.13,273.68 L617.13,274.37 L732.41,274.37" fill="none" stroke="#000" stroke-width="1.6" stroke-dasharray="8.3 11.05" stroke-dashoffset="5"/>
<path d="M134.2,99.45 L134.64,99.49 L135.09,99.6 L135.53,99.79 L135.98,100.06 L136.42,100.4 L136.86,100.82 L137.31,101.31 L137.75,101.88 L138.19,102.52 L138.64,103.24 L139.08,104.02 L139.53,104.88 L139.97,105.81 L140.41,106.81 L140.86,107.88 L141.3,109.02 L141.74,110.22 L142.19,111.49 L142.63,112.82 L143.08,114.22 L143.52,115.68 L143.96,117.2 L144.41,118.78 L144.85,120.41 L145.29,122.11 L145.74,123.85 L146.18,125.65 L146.63,127.5 L147.07,129.39 L147.51,131.34 L147.96,133.33 L148.4,135.36 L148.84,137.43 L149.29,139.54 L149.73,141.69 L150.18,143.88 L150.62,146.09 L151.06,148.34 L151.51,150.62 L151.95,152.92 L152.39,155.24 L152.84,157.59 L153.28,159.95 L153.73,162.34 L154.17,164.73 L154.61,167.14 L155.06,169.56 L155.5,171.99 L155.95,174.42 L156.39,176.85 L156.83,179.29 L157.28,181.72 L157.72,184.15 L158.16,186.57 L158.61,188.98 L159.05,191.38 L159.5,193.77 L159.94,196.14 L160.38,198.49 L160.83,200.82 L161.27,203.12 L161.71,205.4 L162.16,207.66 L162.6,209.88 L163.05,212.07 L163.49,214.23 L163.93,216.35 L164.38,218.43 L164.82,220.47 L165.26,222.47 L165.71,224.42 L166.15,226.33 L166.6,228.19 L167.04,229.99 L167.48,231.75 L167.93,233.45 L168.37,235.1 L168.81,236.69 L169.26,238.22 L169.7,239.7 L170.15,241.11 L170.59,242.45 L171.03,243.74 L171.48,244.95 L171.92,246.11 L172.36,247.19 L172.81,248.2 L173.25,249.15 L173.7,250.02 L174.14,250.82 L174.58,251.55 L175.03,252.21 L175.47,252.79 L175.92,253.3 L176.36,253.74 L176.8,254.09 L177.25,254.38 L177.69,254.58 L178.13,254.71 L178.58,254.77 L179.02,254.74 L179.47,254.62 L179.91,254.42 L180.35,254.12 L180.8,253.73 L181.24,253.25 L181.68,252.68 L182.13,252.02 L182.57,251.28 L183.02,250.44 L183.46,249.52 L183.9,248.52 L184.35,247.43 L184.79,246.25 L185.23,244.99 L185.68,243.65 L186.12,242.23 L186.57,240.73 L187.01,239.15 L187.45,237.5 L187.9,235.77 L188.34,233.96 L188.78,232.09 L189.23,230.14 L189.67,228.13 L190.12,226.05 L190.56,223.9 L191,221.7 L191.45,219.43 L191.89,217.1 L192.33,214.72 L192.78,212.28 L193.22,209.79 L193.67,207.25 L194.11,204.67 L194.55,202.04 L195,199.37 L195.44,196.65 L195.89,193.9 L196.33,191.12 L196.77,188.3 L197.22,185.45 L197.66,182.57 L198.1,179.67 L198.55,176.75 L198.99,173.81 L199.44,170.85 L199.88,167.88 L200.32,164.9 L200.77,161.91 L201.21,158.91 L201.65,155.91 L202.1,152.91 L202.54,149.91 L202.99,146.92 L203.43,143.94 L203.87,140.97 L204.32,138.01 L204.76,135.06 L205.2,132.14 L205.65,129.24 L206.09,126.36 L206.54,123.51 L206.98,120.68 L207.42,117.9 L207.87,115.14 L208.31,112.42 L208.75,109.74 L209.2,107.11 L209.64,104.52 L210.09,101.97 L210.53,99.48 L210.97,97.04 L211.42,94.65 L211.86,92.31 L212.31,90.04 L212.75,87.83 L213.19,85.67 L213.64,83.59 L214.08,81.56 L214.52,79.61 L214.97,77.73 L215.41,75.91 L215.86,74.17 L216.3,72.51 L216.74,70.92 L217.19,69.41 L217.63,67.98 L218.07,66.63 L218.52,65.36 L218.96,64.18 L219.41,63.08 L219.85,62.06 L220.29,61.13 L220.74,60.29 L221.18,59.53 L221.62,58.86 L222.07,58.29 L222.51,57.8 L222.96,57.4 L223.4,57.09 L223.84,56.87 L224.29,56.74 L224.73,56.7 L225.17,56.77 L225.62,56.95 L226.06,57.24 L226.51,57.65 L226.95,58.16 L227.39,58.79 L227.84,59.53 L228.28,60.38 L228.72,61.34 L229.17,62.41 L229.61,63.58 L230.06,64.87 L230.5,66.26 L230.94,67.76 L231.39,69.36 L231.83,71.07 L232.28,72.87 L232.72,74.78 L233.16,76.79 L233.61,78.9 L234.05,81.11 L234.49,83.41 L234.94,85.8 L235.38,88.29 L235.83,90.86 L236.27,93.53 L236.71,96.28 L237.16,99.12 L237.6,102.03 L238.04,105.03 L238.49,108.11 L238.93,111.26 L239.38,114.49 L239.82,117.79 L240.26,121.16 L240.71,124.6 L241.15,128.1 L241.59,131.66 L242.04,135.28 L242.48,138.96 L242.93,142.7 L243.37,146.48 L243.81,150.32 L244.26,154.2 L244.7,158.13 L245.14,162.09 L245.59,166.1 L246.03,170.14 L246.48,174.21 L246.92,178.31 L247.36,182.44 L247.81,186.59 L248.25,190.77 L248.69,194.96 L249.14,199.16 L249.58,203.38 L250.03,207.61 L250.47,211.84 L250.91,216.08 L251.36,220.31 L251.8,224.54 L252.25,228.77 L252.69,232.99 L253.13,237.2 L253.58,241.39 L254.02,245.56 L254.46,249.71 L254.91,253.84 L255.35,257.94 L255.8,262.01 L256.24,266.05 L256.68,270.06 L257.13,274.03 L257.57,277.95 L258.01,281.83 L258.46,285.67 L258.9,289.45 L259.35,293.19 L259.79,296.87 L260.23,300.49 L260.68,304.05 L261.12,307.55 L261.56,310.99 L262.01,314.36 L262.45,317.66 L262.9,320.89 L263.34,324.04 L263.78,327.12 L264.23,330.12 L264.67,333.04 L265.11,335.87 L265.56,338.62 L266,341.29 L266.45,343.87 L266.89,346.35 L267.33,348.75 L267.78,351.05 L268.22,353.25 L268.66,355.36 L269.11,357.37 L269.55,359.28 L270,361.09 L270.44,362.79 L270.88,364.4 L271.33,365.89 L271.77,367.29 L272.22,368.57 L272.66,369.75 L273.1,370.82 L273.55,371.78 L273.99,372.62 L274.43,373.36 L274.88,373.99 L275.32,374.51 L275.77,374.91 L276.21,375.2 L276.65,375.38 L277.1,375.45 L277.54,375.4 L277.98,375.24 L278.43,374.96 L278.87,374.57 L279.32,374.06 L279.76,373.44 L280.2,372.7 L280.65,371.85 L281.09,370.89 L281.53,369.81 L281.98,368.63 L282.42,367.33 L282.87,365.93 L283.31,364.42 L283.75,362.81 L284.2,361.09 L284.64,359.27 L285.08,357.35 L285.53,355.33 L285.97,353.21 L286.42,351 L286.86,348.69 L287.3,346.29 L287.75,343.81 L288.19,341.24 L288.63,338.58 L289.08,335.85 L289.52,333.03 L289.97,330.14 L290.41,327.18 L290.85,324.15 L291.3,321.04 L291.74,317.88 L292.19,314.65 L292.63,311.36 L293.07,308.02 L293.52,304.62 L293.96,301.17 L294.4,297.68 L294.85,294.15 L295.29,290.57 L295.74,286.96 L296.18,283.32 L296.62,279.64 L297.07,275.94 L297.51,272.22 L297.95,268.48 L298.4,264.72 L298.84,260.95 L299.29,257.18 L299.73,253.39 L300.17,249.61 L300.62,245.83 L301.06,242.05 L301.5,238.28 L301.95,234.53 L302.39,230.79 L302.84,227.07 L303.28,223.37 L303.72,219.7 L304.17,216.06 L304.61,212.46 L305.05,208.89 L305.5,205.36 L305.94,201.87 L306.39,198.43 L306.83,195.05 L307.27,191.71 L307.72,188.43 L308.16,185.21 L308.6,182.05 L309.05,178.96 L309.49,175.93 L309.94,172.98 L310.38,170.1 L310.82,167.3 L311.27,164.57 L311.71,161.93 L312.16,159.37 L312.6,156.9 L313.04,154.51 L313.49,152.22 L313.93,150.02 L314.37,147.92 L314.82,145.91 L315.26,144.01 L315.71,142.2 L316.15,140.49 L316.59,138.89 L317.04,137.4 L317.48,136.01 L317.92,134.73 L318.37,133.57 L318.81,132.51 L319.26,131.56 L319.7,130.73 L320.14,130 L320.59,129.4 L321.03,128.9 L321.47,128.53 L321.92,128.27 L322.36,128.12 L322.81,128.09 L323.25,128.17 L323.69,128.37 L324.14,128.67 L324.58,129.09 L325.02,129.62 L325.47,130.27 L325.91,131.02 L326.36,131.89 L326.8,132.87 L327.24,133.96 L327.69,135.16 L328.13,136.47 L328.58,137.9 L329.02,139.43 L329.46,141.08 L329.91,142.84 L330.35,144.7 L330.79,146.68 L331.24,148.77 L331.68,150.97 L332.13,153.28 L332.57,155.69 L333.01,158.22 L333.46,160.85 L333.9,163.59 L334.34,166.44 L334.79,169.4 L335.23,172.47 L335.68,175.64 L336.12,178.92 L336.56,182.3 L337.01,185.79 L337.45,189.39 L337.89,193.09 L338.34,196.9 L338.78,200.81 L339.23,204.82 L339.67,208.93 L340.11,213.15 L340.56,217.47 L341,221.89 L341.44,226.42 L341.89,231.04 L342.33,235.76 L342.78,240.58 L343.22,245.5 L343.66,250.52 L344.11,255.64 L344.55,260.85 L344.99,266.16 L345.44,271.56 L345.88,277.06 L346.33,282.66 L346.77,288.34 L347.21,294.12 L347.66,299.99 L348.1,305.96 L348.55,312.01 L348.99,318.15 L349.43,324.38 L349.88,330.7 L350.32,337.11 L350.76,343.6 L351.21,350.18 L351.65,356.84 L352.1,363.59 L352.54,370.42 L352.98,377.33 L353.43,384.32 L353.87,391.4 L354.31,398.55 L354.76,405.78 L355.2,413.09 L355.65,420.48 M401.15,397 L401.45,394.35 L401.76,391.73 L402.07,389.13 L402.37,386.55 L402.68,384 L402.98,381.47 L403.29,378.97 L403.6,376.49 L403.9,374.03 L404.21,371.6 L404.51,369.2 L404.82,366.83 L405.12,364.47 L405.43,362.15 L405.74,359.85 L406.04,357.58 L406.35,355.33 L406.65,353.11 L406.96,350.92 L407.27,348.75 L407.57,346.62 L407.88,344.51 L408.18,342.43 L408.49,340.37 L408.8,338.35 L409.1,336.35 L409.41,334.38 L409.71,332.45 L410.02,330.54 L410.32,328.66 L410.63,326.81 L410.94,324.99 L411.24,323.21 L411.55,321.45 L411.85,319.73 L412.16,318.04 L412.47,316.38 L412.77,314.75 L413.08,313.16 L413.38,311.6 L413.69,310.08 L414,308.59 L414.3,307.13 L414.61,305.72 L414.91,304.33 L415.22,302.99 L415.53,301.68 L415.83,300.42 L416.14,299.19 L416.44,298 L416.75,296.85 L417.05,295.75 L417.36,294.69 L417.67,293.67 L417.97,292.7 L418.28,291.78 L418.58,290.91 L418.89,290.09 L419.2,289.32 L419.5,288.61 L419.81,287.96 L420.11,287.37 L420.42,286.84 L420.73,286.4 L421.03,286.03 L421.34,285.77 L421.64,285.65 L421.95,285.81 L422.26,286.13 L422.56,286.55 L422.87,287.07 L423.17,287.67 L423.48,288.35 L423.78,289.09 L424.09,289.91 L424.4,290.78 L424.7,291.72 L425.01,292.71 L425.31,293.76 L425.62,294.87 L425.93,296.02 L426.23,297.23 L426.54,298.48 L426.84,299.78 L427.15,301.13 L427.46,302.53 L427.76,303.97 L428.07,305.45 L428.37,306.98 L428.68,308.54 L428.98,310.15 L429.29,311.8 L429.6,313.49 L429.9,315.22 L430.21,316.99 L430.51,318.79 L430.82,320.64 L431.13,322.52 L431.43,324.44 L431.74,326.39 L432.04,328.38 L432.35,330.41 L432.66,332.47 L432.96,334.56 L433.27,336.69 L433.57,338.85 L433.88,341.05 L434.19,343.28 L434.49,345.54 L434.8,347.83 L435.1,350.16 L435.41,352.52 L435.71,354.91 L436.02,357.33 L436.33,359.78 L436.63,362.26 L436.94,364.78 L437.24,367.32 L437.55,369.9" fill="none" stroke="#000" stroke-width="4.4" stroke-linejoin="round" clip-path="url(#ca)"/>
<rect x="134.2" y="13.2" width="606.7" height="345" fill="none" stroke="#000" stroke-width="1.3"/>
<line x1="601.6" x2="664" y1="60.7" y2="60.7" stroke="#000" stroke-width="1.6" stroke-dasharray="8.3 11.05"/>
<line x1="602.3" x2="663.8" y1="120.8" y2="120.8" stroke="#000" stroke-width="4.4"/>
<text x="450" y="70.6" font-size="33.5" text-anchor="start" textLength="142" lengthAdjust="spacingAndGlyphs" stroke="#bebebe" stroke-width="0.35">Slow limit</text>
<text x="450.6" y="131" font-size="33.5" text-anchor="start" textLength="136.4" lengthAdjust="spacingAndGlyphs" stroke="#fff" stroke-width="0.35">Fast limit</text>
<text x="693.6" y="75.4" font-size="41" text-anchor="start" font-weight="bold" textLength="25" lengthAdjust="spacingAndGlyphs">a</text>
<text x="116.4" y="40.35" font-size="33.6" text-anchor="end" stroke="#fff" stroke-width="0.35">0.2</text>
<text x="116.4" y="109.35" font-size="33.6" text-anchor="end" stroke="#fff" stroke-width="0.35">0</text>
<text x="116.4" y="178.35" font-size="33.6" text-anchor="end" stroke="#fff" stroke-width="0.35">0.2</text>
<text x="51.1" y="181.45" font-size="33.6" text-anchor="start" textLength="22" lengthAdjust="spacingAndGlyphs" stroke="#000" stroke-width="0.35">−</text>
<text x="116.4" y="247.35" font-size="33.6" text-anchor="end" stroke="#fff" stroke-width="0.35">0.4</text>
<text x="51.1" y="250.45" font-size="33.6" text-anchor="start" textLength="22" lengthAdjust="spacingAndGlyphs" stroke="#000" stroke-width="0.35">−</text>
<text x="116.4" y="316.35" font-size="33.6" text-anchor="end" stroke="#fff" stroke-width="0.35">0.6</text>
<text x="51.1" y="319.45" font-size="33.6" text-anchor="start" textLength="22" lengthAdjust="spacingAndGlyphs" stroke="#000" stroke-width="0.35">−</text>
<text x="132.4" y="398.1" font-size="33.6" text-anchor="middle" stroke="#fff" stroke-width="0.35">0</text>
<text x="284.07" y="398.1" font-size="33.6" text-anchor="middle" stroke="#fff" stroke-width="0.35">0.5</text>
<text x="435.75" y="398.1" font-size="33.6" text-anchor="middle" stroke="#fff" stroke-width="0.35">1</text>
<text x="587.43" y="398.1" font-size="33.6" text-anchor="middle" stroke="#fff" stroke-width="0.35">1.5</text>
<text x="739.1" y="398.1" font-size="33.6" text-anchor="middle" stroke="#fff" stroke-width="0.35">2</text>
<text x="298.3" y="444.1" font-size="46" text-anchor="start" textLength="274" lengthAdjust="spacingAndGlyphs" stroke="#fff" stroke-width="0.55">Wavenumber, <tspan font-style="italic">k</tspan></text>
<text x="32.2" y="320.8" font-size="46" text-anchor="start" textLength="266.7" lengthAdjust="spacingAndGlyphs" transform="rotate(-90 32.2 320.8)" stroke="#fff" stroke-width="0.55">Growth rate, <tspan font-style="italic">λ</tspan></text>
<clipPath id="cb"><rect x="925.5" y="13.2" width="494" height="345"/></clipPath>
<line x1="1026.7" x2="1026.7" y1="358.2" y2="345.6" stroke="#000" stroke-width="1.3"/>
<line x1="1124.9" x2="1124.9" y1="358.2" y2="345.6" stroke="#000" stroke-width="1.3"/>
<line x1="1223.1" x2="1223.1" y1="358.2" y2="345.6" stroke="#000" stroke-width="1.3"/>
<line x1="1321.3" x2="1321.3" y1="358.2" y2="345.6" stroke="#000" stroke-width="1.3"/>
<line x1="928.5" x2="941.1" y1="185.7" y2="185.7" stroke="#000" stroke-width="1.3"/>
<line x1="1419.5" x2="1406.9" y1="185.7" y2="185.7" stroke="#000" stroke-width="1.3"/>
<g clip-path="url(#cb)">
<path d="M928.5,227.31 L933.41,228.48 L938.32,228.48 L943.23,226.75 L948.14,223.1 L953.05,217.23 L957.96,207.99 L962.87,195.08 L967.78,177.42 L972.69,154.86 L977.6,123.05 L982.51,91.38 L987.42,96 L992.33,126.64 L997.24,156.24 L1002.15,179.21 L1007.06,196.74 L1011.97,209.3 L1016.88,218.13 L1021.79,223.51 L1026.7,227.31 L1031.61,228.48 L1036.52,228.48 L1041.43,226.75 L1046.34,223.1 L1051.25,217.23 L1056.16,207.99 L1061.07,195.08 L1065.98,177.42 L1070.89,154.86 L1075.8,123.05 L1080.71,91.38 L1085.62,96 L1090.53,126.64 L1095.44,156.24 L1100.35,179.21 L1105.26,196.74 L1110.17,209.3 L1115.08,218.13 L1119.99,223.51 L1124.9,227.31 L1129.81,228.48 L1134.72,228.48 L1139.63,226.75 L1144.54,223.1 L1149.45,217.23 L1154.36,207.99 L1159.27,195.08 L1164.18,177.42 L1169.09,154.86 L1174,123.05 L1178.91,91.38 L1183.82,96 L1188.73,126.64 L1193.64,156.24 L1198.55,179.21 L1203.46,196.74 L1208.37,209.3 L1213.28,218.13 L1218.19,223.51 L1223.1,227.31 L1228.01,228.48 L1232.92,228.48 L1237.83,226.75 L1242.74,223.1 L1247.65,217.23 L1252.56,207.99 L1257.47,195.08 L1262.38,177.42 L1267.29,154.86 L1272.2,123.05 L1277.11,91.38 L1282.02,96 L1286.93,126.64 L1291.84,156.24 L1296.75,179.21 L1301.66,196.74 L1306.57,209.3 L1311.48,218.13 L1316.39,223.51 L1321.3,227.31 L1326.21,228.48 L1331.12,228.48 L1336.03,226.75 L1340.94,223.1 L1345.85,217.23 L1350.76,207.99 L1355.67,195.08 L1360.58,177.42 L1365.49,154.86 L1370.4,123.05 L1375.31,91.38 L1380.22,96 L1385.13,126.64 L1390.04,156.24 L1394.95,179.21 L1399.86,196.74 L1404.77,209.3 L1409.68,218.13 L1414.59,223.51" fill="none" stroke="#bebebe" stroke-width="15" stroke-linejoin="miter" stroke-miterlimit="10"/>
<path d="M928.5,143.26 L933.41,142.16 L938.32,142.16 L943.23,144.37 L948.14,149.54 L953.05,157.41 L957.96,167.62 L962.87,180.18 L967.78,196.67 L972.69,217.92 L977.6,243.04 L982.51,270.92 L987.42,269.19 L992.33,243.04 L997.24,210.06 L1002.15,188.05 L1007.06,170.8 L1011.97,159 L1016.88,150.37 L1021.79,145.61 L1026.7,143.26 L1031.61,142.16 L1036.52,142.16 L1041.43,144.37 L1046.34,149.54 L1051.25,157.41 L1056.16,167.62 L1061.07,180.18 L1065.98,196.67 L1070.89,217.92 L1075.8,243.04 L1080.71,270.92 L1085.62,269.19 L1090.53,243.04 L1095.44,210.06 L1100.35,188.05 L1105.26,170.8 L1110.17,159 L1115.08,150.37 L1119.99,145.61 L1124.9,143.26 L1129.81,142.16 L1134.72,142.16 L1139.63,144.37 L1144.54,149.54 L1149.45,157.41 L1154.36,167.62 L1159.27,180.18 L1164.18,196.67 L1169.09,217.92 L1174,243.04 L1178.91,270.92 L1183.82,269.19 L1188.73,243.04 L1193.64,210.06 L1198.55,188.05 L1203.46,170.8 L1208.37,159 L1213.28,150.37 L1218.19,145.61 L1223.1,143.26 L1228.01,142.16 L1232.92,142.16 L1237.83,144.37 L1242.74,149.54 L1247.65,157.41 L1252.56,167.62 L1257.47,180.18 L1262.38,196.67 L1267.29,217.92 L1272.2,243.04 L1277.11,270.92 L1282.02,269.19 L1286.93,243.04 L1291.84,210.06 L1296.75,188.05 L1301.66,170.8 L1306.57,159 L1311.48,150.37 L1316.39,145.61 L1321.3,143.26 L1326.21,142.16 L1331.12,142.16 L1336.03,144.37 L1340.94,149.54 L1345.85,157.41 L1350.76,167.62 L1355.67,180.18 L1360.58,196.67 L1365.49,217.92 L1370.4,243.04 L1375.31,270.92 L1380.22,269.19 L1385.13,243.04 L1390.04,210.06 L1394.95,188.05 L1399.86,170.8 L1404.77,159 L1409.68,150.37 L1414.59,145.61" fill="none" stroke="#ffa500" stroke-width="4" stroke-linejoin="round"/>
<path d="M928.5,227.31 L933.41,228.48 L938.32,228.48 L943.23,226.75 L948.14,223.1 L953.05,217.23 L957.96,207.99 L962.87,195.08 L967.78,177.42 L972.69,154.86 L977.6,123.05 L982.51,92.76 L987.42,96 L992.33,126.64 L997.24,156.24 L1002.15,179.21 L1007.06,196.74 L1011.97,209.3 L1016.88,218.13 L1021.79,223.51 L1026.7,227.31 L1031.61,228.48 L1036.52,228.48 L1041.43,226.75 L1046.34,223.1 L1051.25,217.23 L1056.16,207.99 L1061.07,195.08 L1065.98,177.42 L1070.89,154.86 L1075.8,123.05 L1080.71,92.76 L1085.62,96 L1090.53,126.64 L1095.44,156.24 L1100.35,179.21 L1105.26,196.74 L1110.17,209.3 L1115.08,218.13 L1119.99,223.51 L1124.9,227.31 L1129.81,228.48 L1134.72,228.48 L1139.63,226.75 L1144.54,223.1 L1149.45,217.23 L1154.36,207.99 L1159.27,195.08 L1164.18,177.42 L1169.09,154.86 L1174,123.05 L1178.91,92.76 L1183.82,96 L1188.73,126.64 L1193.64,156.24 L1198.55,179.21 L1203.46,196.74 L1208.37,209.3 L1213.28,218.13 L1218.19,223.51 L1223.1,227.31 L1228.01,228.48 L1232.92,228.48 L1237.83,226.75 L1242.74,223.1 L1247.65,217.23 L1252.56,207.99 L1257.47,195.08 L1262.38,177.42 L1267.29,154.86 L1272.2,123.05 L1277.11,92.76 L1282.02,96 L1286.93,126.64 L1291.84,156.24 L1296.75,179.21 L1301.66,196.74 L1306.57,209.3 L1311.48,218.13 L1316.39,223.51 L1321.3,227.31 L1326.21,228.48 L1331.12,228.48 L1336.03,226.75 L1340.94,223.1 L1345.85,217.23 L1350.76,207.99 L1355.67,195.08 L1360.58,177.42 L1365.49,154.86 L1370.4,123.05 L1375.31,92.76 L1380.22,96 L1385.13,126.64 L1390.04,156.24 L1394.95,179.21 L1399.86,196.74 L1404.77,209.3 L1409.68,218.13 L1414.59,223.51" fill="none" stroke="#000" stroke-width="4.5" stroke-linejoin="miter"/>
</g>
<rect x="928.5" y="13.2" width="491" height="345" fill="none" stroke="#000" stroke-width="1.3"/>
<text x="910.5" y="23.2" font-size="33.6" text-anchor="end" stroke="#fff" stroke-width="0.35">1.25</text>
<text x="910.5" y="195.7" font-size="33.6" text-anchor="end" stroke="#fff" stroke-width="0.35">1</text>
<text x="910.5" y="368.2" font-size="33.6" text-anchor="end" stroke="#fff" stroke-width="0.35">0.75</text>
<text x="1434.2" y="23.2" font-size="33.6" text-anchor="start" fill="#d2691e" stroke="#fff" stroke-width="0.35">1.25</text>
<text x="1434.2" y="195.7" font-size="33.6" text-anchor="start" fill="#d2691e" stroke="#fff" stroke-width="0.35">1.00</text>
<text x="1434.2" y="368.2" font-size="33.6" text-anchor="start" fill="#d2691e" stroke="#fff" stroke-width="0.35">0.75</text>
<text x="926.7" y="398.1" font-size="33.6" text-anchor="middle" stroke="#fff" stroke-width="0.35">0</text>
<text x="1024.9" y="398.1" font-size="33.6" text-anchor="middle" stroke="#fff" stroke-width="0.35">20</text>
<text x="1123.1" y="398.1" font-size="33.6" text-anchor="middle" stroke="#fff" stroke-width="0.35">40</text>
<text x="1221.3" y="398.1" font-size="33.6" text-anchor="middle" stroke="#fff" stroke-width="0.35">60</text>
<text x="1319.5" y="398.1" font-size="33.6" text-anchor="middle" stroke="#fff" stroke-width="0.35">80</text>
<text x="1417.7" y="398.1" font-size="33.6" text-anchor="middle" stroke="#fff" stroke-width="0.35">100</text>
<text x="1096.2" y="444" font-size="46" text-anchor="start" textLength="149.8" lengthAdjust="spacingAndGlyphs" stroke="#fff" stroke-width="0.55">Space, <tspan font-style="italic">x</tspan></text>
<text x="826" y="241.6" font-size="36" text-anchor="start" textLength="109" lengthAdjust="spacingAndGlyphs" transform="rotate(-90 826 241.6)" stroke="#fff" stroke-width="0.35">⟨⟨<tspan font-style="italic">ρ</tspan>⟩⟩(<tspan font-style="italic">x</tspan>)</text>
<text x="1541.5" y="242.4" font-size="36" text-anchor="start" fill="#d2691e" textLength="111.5" lengthAdjust="spacingAndGlyphs" transform="rotate(-90 1541.5 242.4)" stroke="#fff" stroke-width="0.35">⟨⟨<tspan font-style="italic">ϕ</tspan>⟩⟩(<tspan font-style="italic">x</tspan>)</text>
<text x="1376.8" y="58.7" font-size="45" text-anchor="start" font-weight="bold" textLength="26" lengthAdjust="spacingAndGlyphs">b</text>
<clipPath id="cc"><rect x="128.3" y="514.8" width="1276.8" height="344.6"/></clipPath>
<g clip-path="url(#cc)">
<rect x="127" y="514.8" width="1279.1" height="344.6" fill="url(#g27)"/>
<rect x="127" y="514.8" width="6" height="344.6" fill="url(#g0)"/>
<rect x="128" y="514.8" width="5" height="344.6" fill="url(#g1)" mask="url(#mk)"/>
<rect x="133" y="514.8" width="11" height="344.6" fill="url(#g1)"/>
<rect x="133" y="514.8" width="11" height="344.6" fill="url(#g2)" mask="url(#mk)"/>
<rect x="144" y="514.8" width="16" height="344.6" fill="url(#g2)"/>
<rect x="144" y="514.8" width="16" height="344.6" fill="url(#g3)" mask="url(#mk)"/>
<rect x="160" y="514.8" width="16" height="344.6" fill="url(#g3)"/>
<rect x="160" y="514.8" width="16" height="344.6" fill="url(#g4)" mask="url(#mk)"/>
<rect x="176" y="514.8" width="16" height="344.6" fill="url(#g4)"/>
<rect x="176" y="514.8" width="16" height="344.6" fill="url(#g5)" mask="url(#mk)"/>
<rect x="192" y="514.8" width="16" height="344.6" fill="url(#g5)"/>
<rect x="192" y="514.8" width="16" height="344.6" fill="url(#g6)" mask="url(#mk)"/>
<rect x="208" y="514.8" width="16" height="344.6" fill="url(#g6)"/>
<rect x="208" y="514.8" width="16" height="344.6" fill="url(#g7)" mask="url(#mk)"/>
<rect x="224" y="514.8" width="32" height="344.6" fill="url(#g7)"/>
<rect x="224" y="514.8" width="32" height="344.6" fill="url(#g8)" mask="url(#mk)"/>
<rect x="256" y="514.8" width="32" height="344.6" fill="url(#g8)"/>
<rect x="256" y="514.8" width="32" height="344.6" fill="url(#g9)" mask="url(#mk)"/>
<rect x="288" y="514.8" width="32" height="344.6" fill="url(#g9)"/>
<rect x="288" y="514.8" width="32" height="344.6" fill="url(#g10)" mask="url(#mk)"/>
<rect x="320" y="514.8" width="64" height="344.6" fill="url(#g10)"/>
<rect x="320" y="514.8" width="64" height="344.6" fill="url(#g11)" mask="url(#mk)"/>
<rect x="384" y="514.8" width="64" height="344.6" fill="url(#g11)"/>
<rect x="384" y="514.8" width="64" height="344.6" fill="url(#g12)" mask="url(#mk)"/>
<rect x="448" y="514.8" width="63" height="344.6" fill="url(#g12)"/>
<rect x="448" y="514.8" width="63" height="344.6" fill="url(#g13)" mask="url(#mk)"/>
<rect x="511" y="514.8" width="64" height="344.6" fill="url(#g13)"/>
<rect x="511" y="514.8" width="64" height="344.6" fill="url(#g14)" mask="url(#mk)"/>
<rect x="575" y="514.8" width="64" height="344.6" fill="url(#g14)"/>
<rect x="575" y="514.8" width="64" height="344.6" fill="url(#g15)" mask="url(#mk)"/>
<rect x="639" y="514.8" width="32" height="344.6" fill="url(#g15)"/>
<rect x="639" y="514.8" width="32" height="344.6" fill="url(#g16)" mask="url(#mk)"/>
<rect x="671" y="514.8" width="32" height="344.6" fill="url(#g16)"/>
<rect x="671" y="514.8" width="32" height="344.6" fill="url(#g17)" mask="url(#mk)"/>
<rect x="703" y="514.8" width="32" height="344.6" fill="url(#g17)"/>
<rect x="703" y="514.8" width="32" height="344.6" fill="url(#g18)" mask="url(#mk)"/>
<rect x="735" y="514.8" width="16" height="344.6" fill="url(#g18)"/>
<rect x="735" y="514.8" width="16" height="344.6" fill="url(#g19)" mask="url(#mk)"/>
<rect x="751" y="514.8" width="16" height="344.6" fill="url(#g19)"/>
<rect x="751" y="514.8" width="16" height="344.6" fill="url(#g20)" mask="url(#mk)"/>
<rect x="767" y="514.8" width="16" height="344.6" fill="url(#g20)"/>
<rect x="767" y="514.8" width="16" height="344.6" fill="url(#g21)" mask="url(#mk)"/>
<rect x="783" y="514.8" width="16" height="344.6" fill="url(#g21)"/>
<rect x="783" y="514.8" width="16" height="344.6" fill="url(#g22)" mask="url(#mk)"/>
<rect x="799" y="514.8" width="16" height="344.6" fill="url(#g22)"/>
<rect x="799" y="514.8" width="16" height="344.6" fill="url(#g23)" mask="url(#mk)"/>
<rect x="815" y="514.8" width="16" height="344.6" fill="url(#g23)"/>
<rect x="815" y="514.8" width="16" height="344.6" fill="url(#g24)" mask="url(#mk)"/>
<rect x="831" y="514.8" width="15" height="344.6" fill="url(#g24)"/>
<rect x="831" y="514.8" width="15" height="344.6" fill="url(#g25)" mask="url(#mk)"/>
<rect x="846" y="514.8" width="16" height="344.6" fill="url(#g25)"/>
<rect x="846" y="514.8" width="16" height="344.6" fill="url(#g26)" mask="url(#mk)"/>
<rect x="862" y="514.8" width="32" height="344.6" fill="url(#g26)"/>
<rect x="862" y="514.8" width="32" height="344.6" fill="url(#g27)" mask="url(#mk)"/>
</g>
<rect x="128.3" y="514.8" width="1276.8" height="2.02" fill="#fff" fill-opacity="0.75"/>
<rect x="1149.74" y="514.8" width="127.68" height="344.6" fill="#000" fill-opacity="0.2" stroke="#000" stroke-width="1.1"/>
<rect x="128.3" y="514.8" width="1276.8" height="344.6" fill="none" stroke="#000" stroke-width="1.3"/>
<rect x="1430.6" y="514.8" width="31.2" height="344.6" fill="url(#cbg)" stroke="#000" stroke-width="1.1"/>
<line x1="1430.6" x2="1442.1" y1="687.1" y2="687.1" stroke="#000" stroke-width="1.3"/>
<line x1="1461.8" x2="1450.3" y1="687.1" y2="687.1" stroke="#000" stroke-width="1.3"/>
<text x="1476.4" y="525.1" font-size="33.6" text-anchor="start" stroke="#fff" stroke-width="0.35">1.25</text>
<text x="1476.4" y="697.4" font-size="33.6" text-anchor="start" stroke="#fff" stroke-width="0.35">1.00</text>
<text x="1476.4" y="869.7" font-size="33.6" text-anchor="start" stroke="#fff" stroke-width="0.35">0.75</text>
<text x="1416.6" y="497.6" font-size="32" text-anchor="start" font-style="italic" textLength="14.5" lengthAdjust="spacingAndGlyphs" stroke="#fff" stroke-width="0.35">ρ</text>
<text x="1433.8" y="504.6" font-size="47" text-anchor="start" textLength="13.5" lengthAdjust="spacingAndGlyphs" stroke="#fff" stroke-width="0.55">/</text>
<text x="1449.2" y="497.6" font-size="32" text-anchor="start" font-style="italic" textLength="14.5" lengthAdjust="spacingAndGlyphs" stroke="#fff" stroke-width="0.35">ρ</text>
<text x="1465.2" y="502.4" font-size="22.5" text-anchor="start" textLength="12.5" lengthAdjust="spacingAndGlyphs" stroke="#fff" stroke-width="0.35">0</text>
<text x="111.3" y="869.7" font-size="33.6" text-anchor="end" stroke="#fff" stroke-width="0.35">0</text>
<text x="111.3" y="800.78" font-size="33.6" text-anchor="end" stroke="#fff" stroke-width="0.35">20</text>
<text x="111.3" y="731.86" font-size="33.6" text-anchor="end" stroke="#fff" stroke-width="0.35">40</text>
<text x="111.3" y="662.94" font-size="33.6" text-anchor="end" stroke="#fff" stroke-width="0.35">60</text>
<text x="111.3" y="594.02" font-size="33.6" text-anchor="end" stroke="#fff" stroke-width="0.35">80</text>
<text x="111.3" y="525.1" font-size="33.6" text-anchor="end" stroke="#fff" stroke-width="0.35">100</text>
<text x="126.7" y="899.8" font-size="33.6" text-anchor="middle" stroke="#fff" stroke-width="0.35">0</text>
<text x="445.9" y="899.8" font-size="33.6" text-anchor="middle" stroke="#fff" stroke-width="0.35">500</text>
<text x="765.1" y="899.8" font-size="33.6" text-anchor="middle" stroke="#fff" stroke-width="0.35">1000</text>
<text x="1084.3" y="899.8" font-size="33.6" text-anchor="middle" stroke="#fff" stroke-width="0.35">1500</text>
<text x="1403.5" y="899.8" font-size="33.6" text-anchor="middle" stroke="#fff" stroke-width="0.35">2000</text>
<text x="43" y="764.8" font-size="46" text-anchor="start" textLength="149.5" lengthAdjust="spacingAndGlyphs" transform="rotate(-90 43 764.8)" stroke="#fff" stroke-width="0.55">Space, <tspan font-style="italic">x</tspan></text>
<text x="699.3" y="945.8" font-size="46" text-anchor="start" textLength="130" lengthAdjust="spacingAndGlyphs" stroke="#fff" stroke-width="0.55">Time, <tspan font-style="italic">t</tspan></text>
<text x="1340.8" y="586" font-size="41" text-anchor="start" font-weight="bold" textLength="21" lengthAdjust="spacingAndGlyphs">c</text>
</svg></body></html>
